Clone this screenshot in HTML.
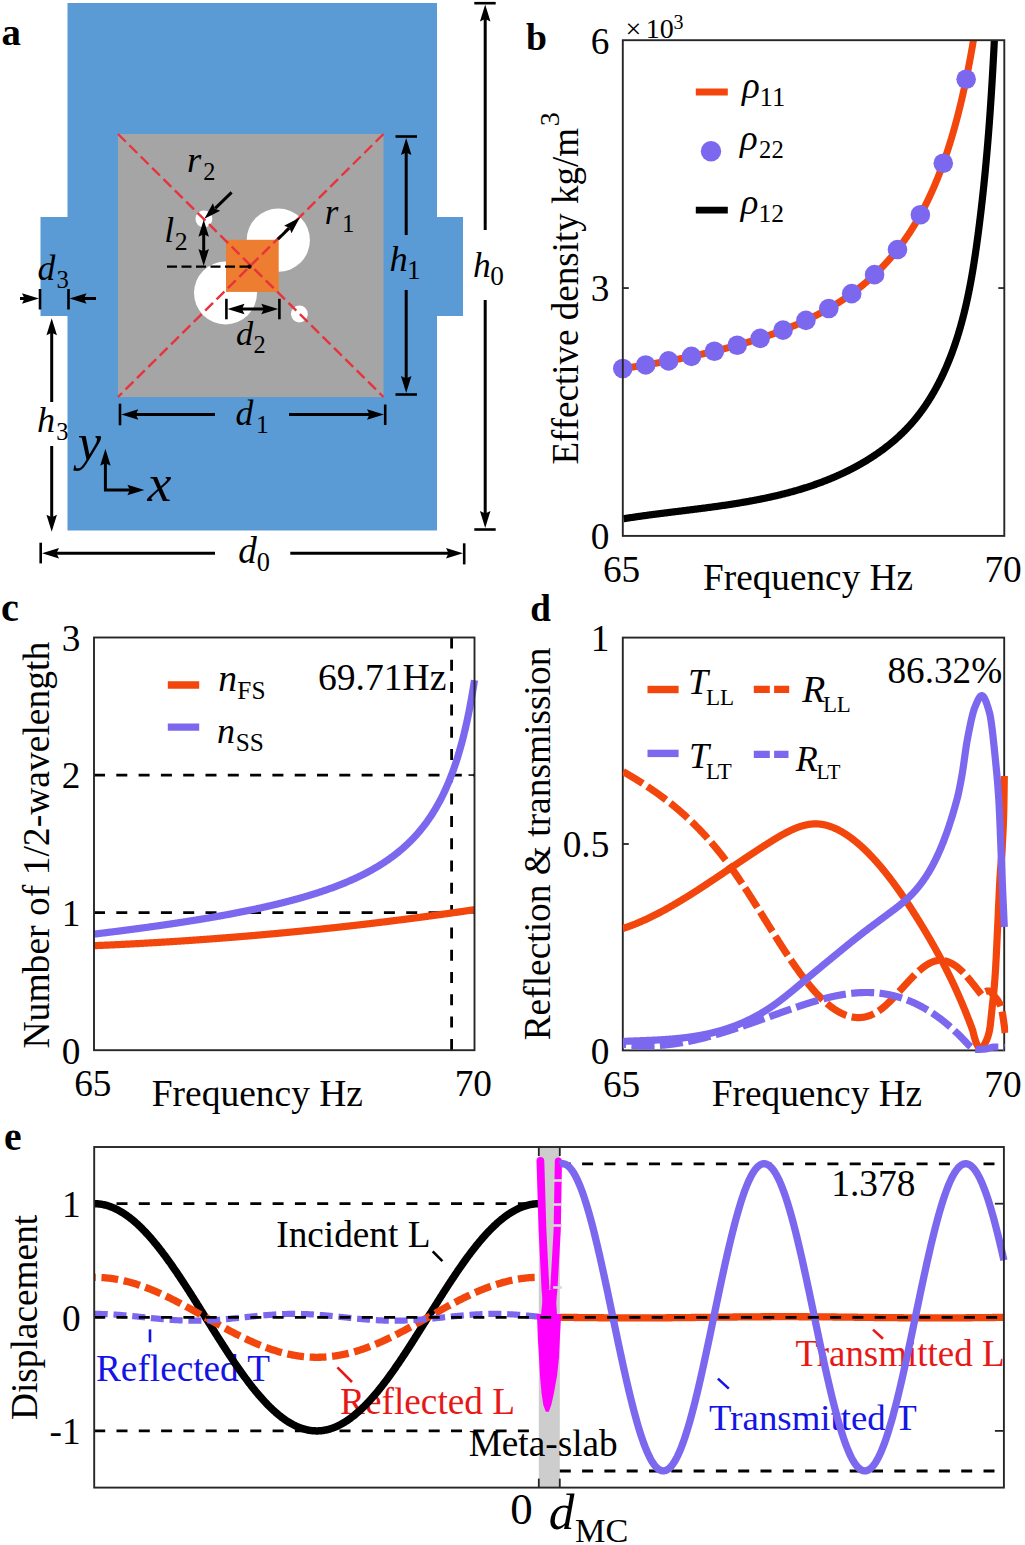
<!DOCTYPE html>
<html><head><meta charset="utf-8"><style>
html,body{margin:0;padding:0;background:#fff;}
svg{display:block;font-family:"Liberation Serif", serif;}
</style></head><body>
<svg width="1025" height="1545" viewBox="0 0 1025 1545">
<rect width="1025" height="1545" fill="#fff"/>
<rect x="67.50" y="3.00" width="369.50" height="527.50" fill="#5B9BD5" />
<rect x="40.50" y="217.00" width="27.50" height="99.00" fill="#5B9BD5" />
<rect x="436.50" y="217.00" width="26.50" height="99.00" fill="#5B9BD5" />
<rect x="118.00" y="134.00" width="265.50" height="263.00" fill="#A5A5A5" />
<circle cx="278.30" cy="240.20" r="31.60" fill="#fff"/>
<circle cx="225.50" cy="293.00" r="31.50" fill="#fff"/>
<circle cx="203.90" cy="219.00" r="8.40" fill="#fff"/>
<circle cx="299.40" cy="314.00" r="8.40" fill="#fff"/>
<rect x="226.00" y="239.80" width="52.70" height="52.10" fill="#ED7D31" />
<line x1="118.00" y1="134.00" x2="383.50" y2="397.00" stroke="#E8333C" stroke-width="2.4" stroke-dasharray="11 5" stroke-linecap="butt"/>
<line x1="383.50" y1="134.00" x2="118.00" y2="397.00" stroke="#E8333C" stroke-width="2.4" stroke-dasharray="11 5" stroke-linecap="butt"/>
<line x1="167.00" y1="266.60" x2="249.00" y2="266.60" stroke="#000" stroke-width="2.2" stroke-dasharray="10 4.5" stroke-linecap="butt"/>
<circle cx="249.40" cy="266.60" r="2.20" fill="#000"/>
<line x1="231.60" y1="192.40" x2="215.16" y2="208.35" stroke="#000" stroke-width="3" stroke-linecap="butt"/>
<path d="M204.40,218.80 L212.94,203.19 L214.80,208.70 L220.26,210.73 Z" fill="#000"/>
<line x1="277.90" y1="239.20" x2="289.20" y2="228.11" stroke="#000" stroke-width="3" stroke-linecap="butt"/>
<path d="M299.90,217.60 L291.45,233.26 L289.55,227.76 L284.09,225.76 Z" fill="#000"/>
<line x1="203.70" y1="232.00" x2="203.70" y2="253.00" stroke="#000" stroke-width="3" stroke-linecap="butt"/>
<path d="M203.70,219.80 L208.95,236.80 L203.70,234.30 L198.45,236.80 Z" fill="#000"/>
<path d="M203.70,265.90 L198.45,248.90 L203.70,251.40 L208.95,248.90 Z" fill="#000"/>
<line x1="226.40" y1="298.80" x2="226.40" y2="319.30" stroke="#000" stroke-width="2.6" stroke-linecap="butt"/>
<line x1="279.40" y1="298.80" x2="279.40" y2="319.30" stroke="#000" stroke-width="2.6" stroke-linecap="butt"/>
<line x1="238.00" y1="309.00" x2="268.00" y2="309.00" stroke="#000" stroke-width="3" stroke-linecap="butt"/>
<path d="M227.50,309.00 L244.50,303.75 L242.00,309.00 L244.50,314.25 Z" fill="#000"/>
<path d="M278.30,309.00 L261.30,314.25 L263.80,309.00 L261.30,303.75 Z" fill="#000"/>
<line x1="395.50" y1="136.50" x2="417.00" y2="136.50" stroke="#000" stroke-width="2.6" stroke-linecap="butt"/>
<line x1="395.50" y1="394.50" x2="417.00" y2="394.50" stroke="#000" stroke-width="2.6" stroke-linecap="butt"/>
<line x1="406.20" y1="148.00" x2="406.20" y2="235.00" stroke="#000" stroke-width="3" stroke-linecap="butt"/>
<line x1="406.20" y1="290.00" x2="406.20" y2="382.00" stroke="#000" stroke-width="3" stroke-linecap="butt"/>
<path d="M406.20,138.00 L411.45,155.00 L406.20,152.50 L400.95,155.00 Z" fill="#000"/>
<path d="M406.20,393.00 L400.95,376.00 L406.20,378.50 L411.45,376.00 Z" fill="#000"/>
<line x1="474.30" y1="3.20" x2="495.70" y2="3.20" stroke="#000" stroke-width="2.6" stroke-linecap="butt"/>
<line x1="474.30" y1="529.50" x2="495.70" y2="529.50" stroke="#000" stroke-width="2.6" stroke-linecap="butt"/>
<line x1="485.20" y1="15.00" x2="485.20" y2="230.00" stroke="#000" stroke-width="3" stroke-linecap="butt"/>
<line x1="485.20" y1="300.00" x2="485.20" y2="517.00" stroke="#000" stroke-width="3" stroke-linecap="butt"/>
<path d="M485.20,4.50 L490.45,21.50 L485.20,19.00 L479.95,21.50 Z" fill="#000"/>
<path d="M485.20,528.00 L479.95,511.00 L485.20,513.50 L490.45,511.00 Z" fill="#000"/>
<line x1="40.00" y1="289.00" x2="40.00" y2="309.50" stroke="#000" stroke-width="2.6" stroke-linecap="butt"/>
<line x1="68.50" y1="289.00" x2="68.50" y2="309.50" stroke="#000" stroke-width="2.6" stroke-linecap="butt"/>
<line x1="20.00" y1="298.50" x2="28.00" y2="298.50" stroke="#000" stroke-width="3" stroke-linecap="butt"/>
<path d="M39.00,298.50 L22.00,303.75 L24.50,298.50 L22.00,293.25 Z" fill="#000"/>
<line x1="80.00" y1="298.50" x2="96.00" y2="298.50" stroke="#000" stroke-width="3" stroke-linecap="butt"/>
<path d="M69.50,298.50 L86.50,293.25 L84.00,298.50 L86.50,303.75 Z" fill="#000"/>
<line x1="51.70" y1="330.00" x2="51.70" y2="402.00" stroke="#000" stroke-width="3" stroke-linecap="butt"/>
<line x1="51.70" y1="446.00" x2="51.70" y2="520.00" stroke="#000" stroke-width="3" stroke-linecap="butt"/>
<path d="M51.70,318.30 L56.95,335.30 L51.70,332.80 L46.45,335.30 Z" fill="#000"/>
<path d="M51.70,531.70 L46.45,514.70 L51.70,517.20 L56.95,514.70 Z" fill="#000"/>
<line x1="120.00" y1="403.70" x2="120.00" y2="425.30" stroke="#000" stroke-width="2.6" stroke-linecap="butt"/>
<line x1="385.20" y1="404.50" x2="385.20" y2="425.00" stroke="#000" stroke-width="2.6" stroke-linecap="butt"/>
<line x1="132.00" y1="414.40" x2="215.00" y2="414.40" stroke="#000" stroke-width="3" stroke-linecap="butt"/>
<line x1="289.00" y1="414.40" x2="372.00" y2="414.40" stroke="#000" stroke-width="3" stroke-linecap="butt"/>
<path d="M121.30,414.40 L138.30,409.15 L135.80,414.40 L138.30,419.65 Z" fill="#000"/>
<path d="M384.00,414.40 L367.00,419.65 L369.50,414.40 L367.00,409.15 Z" fill="#000"/>
<line x1="40.70" y1="542.70" x2="40.70" y2="563.40" stroke="#000" stroke-width="2.6" stroke-linecap="butt"/>
<line x1="464.20" y1="543.30" x2="464.20" y2="564.40" stroke="#000" stroke-width="2.6" stroke-linecap="butt"/>
<line x1="53.00" y1="553.20" x2="215.00" y2="553.20" stroke="#000" stroke-width="3" stroke-linecap="butt"/>
<line x1="290.30" y1="553.20" x2="452.00" y2="553.20" stroke="#000" stroke-width="3" stroke-linecap="butt"/>
<path d="M42.00,553.20 L59.00,547.95 L56.50,553.20 L59.00,558.45 Z" fill="#000"/>
<path d="M463.00,553.20 L446.00,558.45 L448.50,553.20 L446.00,547.95 Z" fill="#000"/>
<line x1="105.40" y1="490.00" x2="105.40" y2="460.00" stroke="#000" stroke-width="3" stroke-linecap="butt"/>
<line x1="104.00" y1="490.00" x2="132.00" y2="490.00" stroke="#000" stroke-width="3" stroke-linecap="butt"/>
<path d="M105.40,448.80 L110.65,465.80 L105.40,463.30 L100.15,465.80 Z" fill="#000"/>
<path d="M144.40,490.00 L127.40,495.25 L129.90,490.00 L127.40,484.75 Z" fill="#000"/>
<text x="1.55" y="44.85" font-size="38.85" font-weight="bold" fill="#000" >a</text>
<text x="187.10" y="171.75" font-size="36.5" font-style="italic" fill="#000" >r</text>
<text x="203.20" y="180.10" font-size="24.3" fill="#000" >2</text>
<text x="164.22" y="242.05" font-size="35.6" font-style="italic" fill="#000" >l</text>
<text x="174.68" y="250.40" font-size="25.81" fill="#000" >2</text>
<text x="324.73" y="224.28" font-size="34.8" font-style="italic" fill="#000" >r</text>
<text x="341.88" y="232.47" font-size="24.85" fill="#000" >1</text>
<text x="236.00" y="344.57" font-size="34.39" font-style="italic" fill="#000" >d</text>
<text x="253.38" y="353.05" font-size="24.45" fill="#000" >2</text>
<text x="389.52" y="271.27" font-size="36.47" font-style="italic" fill="#000" >h</text>
<text x="407.02" y="279.38" font-size="27.12" fill="#000" >1</text>
<text x="473.05" y="276.73" font-size="35.46" font-style="italic" fill="#000" >h</text>
<text x="490.30" y="285.23" font-size="27.26" fill="#000" >0</text>
<text x="37.38" y="279.55" font-size="35.67" font-style="italic" fill="#000" >d</text>
<text x="56.48" y="287.55" font-size="24.68" fill="#000" >3</text>
<text x="37.05" y="432.23" font-size="36.18" font-style="italic" fill="#000" >h</text>
<text x="56.17" y="440.23" font-size="24.39" fill="#000" >3</text>
<text x="235.57" y="424.75" font-size="35.67" font-style="italic" fill="#000" >d</text>
<text x="255.95" y="433.48" font-size="25.45" fill="#000" >1</text>
<text x="238.18" y="562.85" font-size="37.09" font-style="italic" fill="#000" >d</text>
<text x="256.80" y="571.40" font-size="26.37" fill="#000" >0</text>
<text x="77.67" y="460.02" font-size="52.59" font-style="italic" fill="#000" >y</text>
<text x="147.53" y="500.55" font-size="53.84" font-style="italic" fill="#000" >x</text>
<clipPath id="cb"><rect x="622.8" y="40.2" width="381.5" height="495.7"/></clipPath>
<line x1="622.80" y1="288.05" x2="628.80" y2="288.05" stroke="#262626" stroke-width="1.8" stroke-linecap="butt"/>
<line x1="1004.30" y1="288.05" x2="998.30" y2="288.05" stroke="#262626" stroke-width="1.8" stroke-linecap="butt"/>
<g clip-path="url(#cb)">
<path d="M623.53,518.75 L624.29,518.63 L625.05,518.51 L625.82,518.39 L626.58,518.27 L627.34,518.15 L628.11,518.03 L628.87,517.91 L629.64,517.79 L630.40,517.68 L631.17,517.56 L631.94,517.44 L632.70,517.33 L633.47,517.22 L634.24,517.10 L635.01,516.99 L635.78,516.88 L636.55,516.77 L637.32,516.65 L638.09,516.54 L638.87,516.43 L639.64,516.32 L640.41,516.21 L641.19,516.11 L641.96,516.00 L642.74,515.89 L643.51,515.78 L644.29,515.68 L645.06,515.57 L645.84,515.46 L646.62,515.36 L647.39,515.25 L648.17,515.15 L648.95,515.04 L649.73,514.94 L650.51,514.84 L651.29,514.73 L652.07,514.63 L652.85,514.53 L653.63,514.43 L654.41,514.32 L655.20,514.22 L655.98,514.12 L656.76,514.02 L657.55,513.92 L658.33,513.82 L659.11,513.72 L659.90,513.62 L660.68,513.52 L661.47,513.42 L662.25,513.32 L663.04,513.22 L663.83,513.12 L664.61,513.02 L665.40,512.92 L666.19,512.83 L666.98,512.73 L667.76,512.63 L668.55,512.53 L669.34,512.43 L670.13,512.34 L670.92,512.24 L671.71,512.14 L672.50,512.04 L673.29,511.94 L674.08,511.85 L674.87,511.75 L675.66,511.65 L676.45,511.55 L677.25,511.46 L678.04,511.36 L678.83,511.26 L679.62,511.16 L680.41,511.07 L681.21,510.97 L682.00,510.87 L682.79,510.77 L683.59,510.68 L684.38,510.58 L685.18,510.48 L685.97,510.38 L686.77,510.28 L687.56,510.18 L688.36,510.08 L689.15,509.99 L689.95,509.89 L690.74,509.79 L691.54,509.69 L692.33,509.59 L693.13,509.49 L693.93,509.39 L694.72,509.29 L695.52,509.19 L696.31,509.09 L697.11,508.99 L697.91,508.88 L698.71,508.78 L699.50,508.68 L700.30,508.58 L701.10,508.48 L701.90,508.37 L702.69,508.27 L703.49,508.17 L704.29,508.06 L705.09,507.96 L705.88,507.85 L706.68,507.75 L707.48,507.64 L708.28,507.53 L709.08,507.43 L709.88,507.32 L710.67,507.21 L711.47,507.11 L712.27,507.00 L713.07,506.89 L713.87,506.78 L714.67,506.67 L715.46,506.56 L716.26,506.45 L717.06,506.34 L717.86,506.22 L718.66,506.11 L719.46,506.00 L720.26,505.89 L721.05,505.77 L721.85,505.66 L722.65,505.54 L723.45,505.42 L724.25,505.31 L725.05,505.19 L725.84,505.07 L726.64,504.95 L727.44,504.83 L728.24,504.71 L729.04,504.59 L729.83,504.47 L730.63,504.35 L731.43,504.22 L732.23,504.10 L733.03,503.98 L733.82,503.85 L734.62,503.72 L735.42,503.60 L736.21,503.47 L737.01,503.34 L737.81,503.21 L738.60,503.08 L739.40,502.95 L740.20,502.82 L740.99,502.69 L741.79,502.55 L742.59,502.42 L743.38,502.28 L744.18,502.15 L744.97,502.01 L745.77,501.87 L746.56,501.73 L747.36,501.59 L748.15,501.45 L748.95,501.31 L749.74,501.16 L750.54,501.02 L751.33,500.88 L752.12,500.73 L752.92,500.58 L753.71,500.43 L754.50,500.28 L755.29,500.13 L756.09,499.98 L756.88,499.83 L757.67,499.68 L758.46,499.52 L759.25,499.37 L760.04,499.21 L760.84,499.05 L761.63,498.89 L762.42,498.73 L763.21,498.57 L764.00,498.41 L764.78,498.24 L765.57,498.08 L766.36,497.91 L767.15,497.74 L767.94,497.58 L768.73,497.41 L769.51,497.23 L770.30,497.06 L771.09,496.89 L771.87,496.71 L772.66,496.54 L773.44,496.36 L774.23,496.18 L775.01,496.00 L775.80,495.82 L776.58,495.63 L777.36,495.45 L778.15,495.26 L778.93,495.08 L779.71,494.89 L780.49,494.70 L781.28,494.51 L782.06,494.31 L782.84,494.12 L783.62,493.92 L784.40,493.73 L785.18,493.53 L785.96,493.33 L786.73,493.13 L787.51,492.92 L788.29,492.72 L789.07,492.51 L789.84,492.30 L790.62,492.09 L791.39,491.88 L792.17,491.67 L792.94,491.46 L793.72,491.24 L794.49,491.02 L795.26,490.81 L796.03,490.59 L796.81,490.36 L797.58,490.14 L798.35,489.91 L799.12,489.69 L799.89,489.46 L800.66,489.23 L801.43,489.00 L802.19,488.76 L802.96,488.53 L803.73,488.29 L804.49,488.05 L805.26,487.81 L806.03,487.57 L806.79,487.32 L807.55,487.08 L808.32,486.83 L809.08,486.58 L809.84,486.33 L810.60,486.07 L811.36,485.82 L812.12,485.56 L812.88,485.30 L813.64,485.04 L814.40,484.78 L815.16,484.51 L815.91,484.25 L816.67,483.98 L817.43,483.71 L818.18,483.43 L818.93,483.16 L819.69,482.88 L820.44,482.61 L821.19,482.33 L821.94,482.04 L822.69,481.76 L823.44,481.47 L824.19,481.19 L824.94,480.90 L825.69,480.60 L826.44,480.31 L827.18,480.01 L827.93,479.72 L828.67,479.41 L829.41,479.11 L830.16,478.81 L830.90,478.50 L831.64,478.19 L832.38,477.88 L833.12,477.57 L833.85,477.26 L834.59,476.94 L835.33,476.62 L836.06,476.30 L836.79,475.98 L837.53,475.66 L838.26,475.33 L838.99,475.00 L839.72,474.67 L840.45,474.34 L841.17,474.00 L841.90,473.67 L842.63,473.33 L843.35,472.99 L844.07,472.64 L844.79,472.30 L845.51,471.95 L846.23,471.60 L846.95,471.25 L847.67,470.90 L848.38,470.54 L849.10,470.18 L849.81,469.82 L850.52,469.46 L851.23,469.10 L851.94,468.73 L852.65,468.36 L853.36,467.99 L854.06,467.62 L854.77,467.25 L855.47,466.87 L856.17,466.49 L856.87,466.11 L857.57,465.73 L858.26,465.34 L858.96,464.95 L859.65,464.56 L860.34,464.17 L861.03,463.78 L861.72,463.38 L862.41,462.98 L863.10,462.58 L863.78,462.18 L864.47,461.78 L865.15,461.37 L865.83,460.96 L866.51,460.55 L867.18,460.13 L867.86,459.72 L868.53,459.30 L869.20,458.88 L869.87,458.46 L870.54,458.03 L871.21,457.61 L871.87,457.18 L872.54,456.75 L873.20,456.31 L873.86,455.88 L874.51,455.44 L875.17,455.00 L875.83,454.55 L876.48,454.11 L877.13,453.66 L877.78,453.21 L878.42,452.76 L879.07,452.31 L879.71,451.85 L880.35,451.39 L880.99,450.93 L881.63,450.47 L882.27,450.00 L882.90,449.54 L883.53,449.07 L884.16,448.59 L884.79,448.12 L885.41,447.64 L886.04,447.16 L886.66,446.68 L887.28,446.20 L887.90,445.71 L888.51,445.23 L889.12,444.73 L889.74,444.24 L890.34,443.75 L890.95,443.25 L891.56,442.75 L892.16,442.25 L892.76,441.74 L893.36,441.23 L893.95,440.73 L894.55,440.21 L895.14,439.70 L895.73,439.18 L896.31,438.66 L896.90,438.14 L897.48,437.62 L898.06,437.09 L898.64,436.57 L899.21,436.03 L899.79,435.50 L900.36,434.97 L900.93,434.43 L901.49,433.89 L902.05,433.35 L902.62,432.80 L903.17,432.25 L903.73,431.70 L904.28,431.15 L904.83,430.60 L905.38,430.04 L905.93,429.48 L906.47,428.92 L907.01,428.35 L907.55,427.79 L908.09,427.22 L908.62,426.65 L909.15,426.07 L909.68,425.49 L910.21,424.92 L910.73,424.33 L911.25,423.75 L911.77,423.16 L912.28,422.57 L912.79,421.98 L913.30,421.39 L913.81,420.79 L914.31,420.19 L914.82,419.59 L915.31,418.99 L915.81,418.38 L916.31,417.78 L916.80,417.17 L917.28,416.55 L917.77,415.94 L918.25,415.32 L918.74,414.70 L919.21,414.08 L919.69,413.45 L920.16,412.83 L920.63,412.20 L921.10,411.57 L921.57,410.94 L922.03,410.30 L922.49,409.66 L922.95,409.03 L923.40,408.38 L923.86,407.74 L924.31,407.10 L924.76,406.45 L925.20,405.80 L925.64,405.15 L926.09,404.49 L926.52,403.84 L926.96,403.18 L927.39,402.52 L927.82,401.86 L928.25,401.19 L928.68,400.53 L929.10,399.86 L929.52,399.19 L929.94,398.52 L930.36,397.85 L930.77,397.17 L931.18,396.50 L931.59,395.82 L932.00,395.14 L932.41,394.46 L932.81,393.77 L933.21,393.09 L933.61,392.40 L934.00,391.71 L934.40,391.02 L934.79,390.33 L935.17,389.63 L935.56,388.94 L935.94,388.24 L936.33,387.54 L936.71,386.84 L937.08,386.14 L937.46,385.44 L937.83,384.73 L938.20,384.02 L938.57,383.32 L938.94,382.61 L939.30,381.89 L939.66,381.18 L940.02,380.47 L940.38,379.75 L940.73,379.03 L941.09,378.32 L941.44,377.60 L941.79,376.87 L942.13,376.15 L942.48,375.43 L942.82,374.70 L943.16,373.97 L943.50,373.25 L943.83,372.52 L944.17,371.79 L944.50,371.05 L944.83,370.32 L945.15,369.59 L945.48,368.85 L945.80,368.11 L946.12,367.38 L946.44,366.64 L946.76,365.90 L947.08,365.15 L947.39,364.41 L947.70,363.67 L948.01,362.92 L948.32,362.18 L948.62,361.43 L948.92,360.68 L949.23,359.93 L949.52,359.18 L949.82,358.43 L950.12,357.68 L950.41,356.92 L950.70,356.17 L950.99,355.41 L951.28,354.66 L951.56,353.90 L951.85,353.14 L952.13,352.39 L952.41,351.63 L952.69,350.86 L952.96,350.10 L953.24,349.34 L953.51,348.58 L953.78,347.81 L954.05,347.05 L954.31,346.28 L954.58,345.52 L954.84,344.75 L955.10,343.98 L955.36,343.22 L955.62,342.45 L955.87,341.68 L956.13,340.91 L956.38,340.14 L956.63,339.37 L956.88,338.59 L957.12,337.82 L957.37,337.05 L957.61,336.27 L957.85,335.50 L958.09,334.72 L958.33,333.95 L958.57,333.17 L958.80,332.39 L959.04,331.61 L959.27,330.84 L959.50,330.06 L959.72,329.28 L959.95,328.50 L960.18,327.72 L960.40,326.94 L960.62,326.15 L960.84,325.37 L961.06,324.59 L961.28,323.81 L961.49,323.02 L961.71,322.24 L961.92,321.45 L962.13,320.67 L962.34,319.88 L962.54,319.10 L962.75,318.31 L962.96,317.52 L963.16,316.73 L963.36,315.94 L963.56,315.16 L963.76,314.37 L963.96,313.58 L964.15,312.79 L964.35,312.00 L964.54,311.21 L964.73,310.41 L964.92,309.62 L965.11,308.83 L965.30,308.04 L965.49,307.25 L965.67,306.45 L965.85,305.66 L966.04,304.86 L966.22,304.07 L966.40,303.28 L966.57,302.48 L966.75,301.69 L966.93,300.89 L967.10,300.09 L967.27,299.30 L967.45,298.50 L967.62,297.70 L967.79,296.91 L967.96,296.11 L968.12,295.31 L968.29,294.51 L968.45,293.71 L968.62,292.92 L968.78,292.12 L968.94,291.32 L969.10,290.52 L969.26,289.72 L969.42,288.92 L969.57,288.12 L969.73,287.32 L969.88,286.52 L970.04,285.72 L970.19,284.92 L970.34,284.11 L970.49,283.31 L970.64,282.51 L970.79,281.71 L970.94,280.91 L971.08,280.11 L971.23,279.30 L971.37,278.50 L971.52,277.70 L971.66,276.90 L971.80,276.09 L971.94,275.29 L972.08,274.49 L972.22,273.68 L972.36,272.88 L972.49,272.08 L972.63,271.27 L972.76,270.47 L972.90,269.67 L973.03,268.86 L973.16,268.06 L973.29,267.25 L973.42,266.45 L973.55,265.65 L973.68,264.84 L973.81,264.04 L973.94,263.24 L974.06,262.43 L974.19,261.63 L974.32,260.82 L974.44,260.02 L974.56,259.22 L974.69,258.41 L974.81,257.61 L974.93,256.80 L975.05,256.00 L975.17,255.20 L975.29,254.39 L975.41,253.59 L975.53,252.78 L975.64,251.98 L975.76,251.18 L975.88,250.37 L975.99,249.57 L976.11,248.77 L976.22,247.96 L976.34,247.16 L976.45,246.36 L976.56,245.56 L976.67,244.75 L976.78,243.95 L976.90,243.15 L977.01,242.35 L977.12,241.54 L977.22,240.74 L977.33,239.94 L977.44,239.14 L977.55,238.34 L977.66,237.54 L977.76,236.73 L977.87,235.93 L977.98,235.13 L978.08,234.33 L978.19,233.53 L978.29,232.73 L978.40,231.93 L978.50,231.13 L978.60,230.33 L978.71,229.54 L978.81,228.74 L978.91,227.94 L979.01,227.14 L979.12,226.34 L979.22,225.54 L979.32,224.74 L979.42,223.95 L979.52,223.15 L979.62,222.35 L979.72,221.55 L979.81,220.76 L979.91,219.96 L980.01,219.16 L980.11,218.37 L980.20,217.57 L980.30,216.78 L980.40,215.98 L980.49,215.18 L980.59,214.39 L980.68,213.59 L980.78,212.80 L980.87,212.00 L980.97,211.21 L981.06,210.41 L981.15,209.62 L981.25,208.82 L981.34,208.03 L981.43,207.23 L981.52,206.44 L981.61,205.65 L981.70,204.85 L981.79,204.06 L981.88,203.26 L981.97,202.47 L982.06,201.68 L982.15,200.88 L982.24,200.09 L982.33,199.30 L982.42,198.51 L982.50,197.71 L982.59,196.92 L982.68,196.13 L982.76,195.34 L982.85,194.54 L982.94,193.75 L983.02,192.96 L983.11,192.17 L983.19,191.38 L983.28,190.58 L983.36,189.79 L983.44,189.00 L983.53,188.21 L983.61,187.42 L983.69,186.63 L983.77,185.84 L983.86,185.05 L983.94,184.25 L984.02,183.46 L984.10,182.67 L984.18,181.88 L984.26,181.09 L984.34,180.30 L984.42,179.51 L984.50,178.72 L984.58,177.93 L984.66,177.14 L984.73,176.35 L984.81,175.56 L984.89,174.77 L984.97,173.98 L985.04,173.19 L985.12,172.40 L985.20,171.61 L985.27,170.82 L985.35,170.03 L985.42,169.24 L985.50,168.45 L985.57,167.66 L985.65,166.87 L985.72,166.08 L985.79,165.29 L985.87,164.50 L985.94,163.72 L986.01,162.93 L986.09,162.14 L986.16,161.35 L986.23,160.56 L986.30,159.77 L986.37,158.98 L986.44,158.19 L986.51,157.40 L986.58,156.61 L986.65,155.82 L986.72,155.03 L986.79,154.24 L986.86,153.46 L986.93,152.67 L987.00,151.88 L987.07,151.09 L987.14,150.30 L987.20,149.51 L987.27,148.72 L987.34,147.93 L987.41,147.14 L987.47,146.35 L987.54,145.56 L987.60,144.77 L987.67,143.99 L987.74,143.20 L987.80,142.41 L987.87,141.62 L987.93,140.83 L988.00,140.04 L988.06,139.25 L988.12,138.46 L988.19,137.67 L988.25,136.88 L988.31,136.09 L988.38,135.30 L988.44,134.51 L988.50,133.72 L988.56,132.93 L988.63,132.14 L988.69,131.35 L988.75,130.56 L988.81,129.77 L988.87,128.98 L988.93,128.19 L988.99,127.40 L989.05,126.61 L989.11,125.82 L989.17,125.03 L989.23,124.24 L989.29,123.45 L989.35,122.66 L989.41,121.87 L989.46,121.08 L989.52,120.29 L989.58,119.50 L989.64,118.71 L989.69,117.92 L989.75,117.13 L989.81,116.34 L989.87,115.54 L989.92,114.75 L989.98,113.96 L990.03,113.17 L990.09,112.38 L990.15,111.59 L990.20,110.80 L990.26,110.00 L990.31,109.21 L990.37,108.42 L990.42,107.63 L990.47,106.83 L990.53,106.04 L990.58,105.25 L990.64,104.46 L990.69,103.66 L990.74,102.87 L990.80,102.08 L990.85,101.28 L990.90,100.49 L990.95,99.70 L991.01,98.90 L991.06,98.11 L991.11,97.32 L991.16,96.52 L991.21,95.73 L991.26,94.93 L991.32,94.14 L991.37,93.34 L991.42,92.55 L991.47,91.75 L991.52,90.96 L991.57,90.16 L991.62,89.37 L991.67,88.57 L991.72,87.78 L991.77,86.98 L991.82,86.19 L991.86,85.39 L991.91,84.59 L991.96,83.80 L992.01,83.00 L992.06,82.20 L992.11,81.41 L992.15,80.61 L992.20,79.81 L992.25,79.01 L992.30,78.21 L992.34,77.42 L992.39,76.62 L992.44,75.82 L992.49,75.02 L992.53,74.22 L992.58,73.42 L992.62,72.62 L992.67,71.82 L992.72,71.02 L992.76,70.22 L992.81,69.42 L992.85,68.62 L992.90,67.82 L992.94,67.02 L992.99,66.22 L993.03,65.42 L993.08,64.62 L993.12,63.82 L993.17,63.02 L993.21,62.21 L993.26,61.41 L993.30,60.61 L993.34,59.81 L993.39,59.00 L993.43,58.20 L993.48,57.40 L993.52,56.59 L993.56,55.79 L993.61,54.98 L993.65,54.18 L993.69,53.38 L993.73,52.57 L993.78,51.77 L993.82,50.96 L993.86,50.15 L993.90,49.35 L993.95,48.54 L993.99,47.73 L994.03,46.93 L994.07,46.12 L994.11,45.31 L994.16,44.51 L994.20,43.70 L994.24,42.89 L994.28,42.08 L994.32,41.27 L994.36,40.46 L994.40,39.65 L994.44,38.84 L994.48,38.03 L994.52,37.22 L994.57,36.41 L994.61,35.60 L994.65,34.79 L994.69,33.98 L994.73,33.17 L994.77,32.36 L994.81,31.54 L994.85,30.73 L994.89,29.92" fill="none" stroke="#000" stroke-width="7.2" stroke-linecap="butt" stroke-linejoin="round"/>
<path d="M622.80,368.49 L623.11,368.44 L623.42,368.40 L623.74,368.35 L624.05,368.30 L624.36,368.26 L624.67,368.21 L624.98,368.17 L625.29,368.12 L625.61,368.07 L625.92,368.03 L626.23,367.98 L626.54,367.93 L626.85,367.89 L627.17,367.84 L627.48,367.79 L627.79,367.75 L628.10,367.70 L628.41,367.65 L628.72,367.60 L629.04,367.56 L629.35,367.51 L629.66,367.46 L629.97,367.42 L630.28,367.37 L630.60,367.32 L630.91,367.27 L631.22,367.22 L631.53,367.18 L631.84,367.13 L632.15,367.08 L632.47,367.03 L632.78,366.98 L633.09,366.94 L633.40,366.89 L633.71,366.84 L634.03,366.79 L634.34,366.74 L634.65,366.69 L634.96,366.65 L635.27,366.60 L635.58,366.55 L635.90,366.50 L636.21,366.45 L636.52,366.40 L636.83,366.35 L637.14,366.30 L637.46,366.25 L637.77,366.20 L638.08,366.16 L638.39,366.11 L638.70,366.06 L639.01,366.01 L639.33,365.96 L639.64,365.91 L639.95,365.86 L640.26,365.81 L640.57,365.76 L640.89,365.71 L641.20,365.66 L641.51,365.61 L641.82,365.56 L642.13,365.51 L642.44,365.46 L642.76,365.41 L643.07,365.35 L643.38,365.30 L643.69,365.25 L644.00,365.20 L644.32,365.15 L644.63,365.10 L644.94,365.05 L645.25,365.00 L645.56,364.95 L645.87,364.90 L646.19,364.84 L646.50,364.79 L646.81,364.74 L647.12,364.69 L647.43,364.64 L647.75,364.59 L648.06,364.53 L648.37,364.48 L648.68,364.43 L648.99,364.38 L649.30,364.33 L649.62,364.27 L649.93,364.22 L650.24,364.17 L650.55,364.12 L650.86,364.06 L651.18,364.01 L651.49,363.96 L651.80,363.90 L652.11,363.85 L652.42,363.80 L652.73,363.74 L653.05,363.69 L653.36,363.64 L653.67,363.58 L653.98,363.53 L654.29,363.48 L654.61,363.42 L654.92,363.37 L655.23,363.32 L655.54,363.26 L655.85,363.21 L656.16,363.15 L656.48,363.10 L656.79,363.05 L657.10,362.99 L657.41,362.94 L657.72,362.88 L658.04,362.83 L658.35,362.77 L658.66,362.72 L658.97,362.66 L659.28,362.61 L659.59,362.55 L659.91,362.50 L660.22,362.44 L660.53,362.39 L660.84,362.33 L661.15,362.27 L661.47,362.22 L661.78,362.16 L662.09,362.11 L662.40,362.05 L662.71,362.00 L663.02,361.94 L663.34,361.88 L663.65,361.83 L663.96,361.77 L664.27,361.71 L664.58,361.66 L664.90,361.60 L665.21,361.54 L665.52,361.49 L665.83,361.43 L666.14,361.37 L666.45,361.32 L666.77,361.26 L667.08,361.20 L667.39,361.14 L667.70,361.09 L668.01,361.03 L668.33,360.97 L668.64,360.91 L668.95,360.85 L669.26,360.80 L669.57,360.74 L669.88,360.68 L670.20,360.62 L670.51,360.56 L670.82,360.50 L671.13,360.45 L671.44,360.39 L671.76,360.33 L672.07,360.27 L672.38,360.21 L672.69,360.15 L673.00,360.09 L673.31,360.03 L673.63,359.97 L673.94,359.91 L674.25,359.85 L674.56,359.79 L674.87,359.73 L675.19,359.67 L675.50,359.61 L675.81,359.55 L676.12,359.49 L676.43,359.43 L676.74,359.37 L677.06,359.31 L677.37,359.25 L677.68,359.19 L677.99,359.13 L678.30,359.07 L678.62,359.01 L678.93,358.95 L679.24,358.89 L679.55,358.82 L679.86,358.76 L680.17,358.70 L680.49,358.64 L680.80,358.58 L681.11,358.51 L681.42,358.45 L681.73,358.39 L682.05,358.33 L682.36,358.27 L682.67,358.20 L682.98,358.14 L683.29,358.08 L683.60,358.02 L683.92,357.95 L684.23,357.89 L684.54,357.83 L684.85,357.76 L685.16,357.70 L685.48,357.64 L685.79,357.57 L686.10,357.51 L686.41,357.44 L686.72,357.38 L687.03,357.32 L687.35,357.25 L687.66,357.19 L687.97,357.12 L688.28,357.06 L688.59,356.99 L688.91,356.93 L689.22,356.86 L689.53,356.80 L689.84,356.73 L690.15,356.67 L690.46,356.60 L690.78,356.54 L691.09,356.47 L691.40,356.41 L691.71,356.34 L692.02,356.28 L692.34,356.21 L692.65,356.14 L692.96,356.08 L693.27,356.01 L693.58,355.94 L693.89,355.88 L694.21,355.81 L694.52,355.74 L694.83,355.68 L695.14,355.61 L695.45,355.54 L695.77,355.47 L696.08,355.41 L696.39,355.34 L696.70,355.27 L697.01,355.20 L697.32,355.14 L697.64,355.07 L697.95,355.00 L698.26,354.93 L698.57,354.86 L698.88,354.79 L699.20,354.73 L699.51,354.66 L699.82,354.59 L700.13,354.52 L700.44,354.45 L700.75,354.38 L701.07,354.31 L701.38,354.24 L701.69,354.17 L702.00,354.10 L702.31,354.03 L702.63,353.96 L702.94,353.89 L703.25,353.82 L703.56,353.75 L703.87,353.68 L704.18,353.61 L704.50,353.54 L704.81,353.47 L705.12,353.39 L705.43,353.32 L705.74,353.25 L706.06,353.18 L706.37,353.11 L706.68,353.04 L706.99,352.96 L707.30,352.89 L707.61,352.82 L707.93,352.75 L708.24,352.68 L708.55,352.60 L708.86,352.53 L709.17,352.46 L709.49,352.38 L709.80,352.31 L710.11,352.24 L710.42,352.16 L710.73,352.09 L711.04,352.02 L711.36,351.94 L711.67,351.87 L711.98,351.79 L712.29,351.72 L712.60,351.64 L712.92,351.57 L713.23,351.50 L713.54,351.42 L713.85,351.35 L714.16,351.27 L714.47,351.19 L714.79,351.12 L715.10,351.04 L715.41,350.97 L715.72,350.89 L716.03,350.82 L716.35,350.74 L716.66,350.66 L716.97,350.59 L717.28,350.51 L717.59,350.43 L717.90,350.36 L718.22,350.28 L718.53,350.20 L718.84,350.12 L719.15,350.05 L719.46,349.97 L719.78,349.89 L720.09,349.81 L720.40,349.73 L720.71,349.66 L721.02,349.58 L721.33,349.50 L721.65,349.42 L721.96,349.34 L722.27,349.26 L722.58,349.18 L722.89,349.10 L723.21,349.02 L723.52,348.94 L723.83,348.86 L724.14,348.78 L724.45,348.70 L724.76,348.62 L725.08,348.54 L725.39,348.46 L725.70,348.38 L726.01,348.30 L726.32,348.22 L726.64,348.14 L726.95,348.06 L727.26,347.97 L727.57,347.89 L727.88,347.81 L728.19,347.73 L728.51,347.65 L728.82,347.56 L729.13,347.48 L729.44,347.40 L729.75,347.32 L730.07,347.23 L730.38,347.15 L730.69,347.06 L731.00,346.98 L731.31,346.90 L731.62,346.81 L731.94,346.73 L732.25,346.64 L732.56,346.56 L732.87,346.48 L733.18,346.39 L733.50,346.31 L733.81,346.22 L734.12,346.14 L734.43,346.05 L734.74,345.96 L735.05,345.88 L735.37,345.79 L735.68,345.71 L735.99,345.62 L736.30,345.53 L736.61,345.45 L736.93,345.36 L737.24,345.27 L737.55,345.18 L737.86,345.10 L738.17,345.01 L738.48,344.92 L738.80,344.83 L739.11,344.74 L739.42,344.66 L739.73,344.57 L740.04,344.48 L740.36,344.39 L740.67,344.30 L740.98,344.21 L741.29,344.12 L741.60,344.03 L741.91,343.94 L742.23,343.85 L742.54,343.76 L742.85,343.67 L743.16,343.58 L743.47,343.49 L743.79,343.40 L744.10,343.31 L744.41,343.22 L744.72,343.12 L745.03,343.03 L745.34,342.94 L745.66,342.85 L745.97,342.75 L746.28,342.66 L746.59,342.57 L746.90,342.48 L747.22,342.38 L747.53,342.29 L747.84,342.20 L748.15,342.10 L748.46,342.01 L748.77,341.91 L749.09,341.82 L749.40,341.72 L749.71,341.63 L750.02,341.53 L750.33,341.44 L750.65,341.34 L750.96,341.25 L751.27,341.15 L751.58,341.06 L751.89,340.96 L752.20,340.86 L752.52,340.77 L752.83,340.67 L753.14,340.57 L753.45,340.48 L753.76,340.38 L754.08,340.28 L754.39,340.18 L754.70,340.08 L755.01,339.99 L755.32,339.89 L755.63,339.79 L755.95,339.69 L756.26,339.59 L756.57,339.49 L756.88,339.39 L757.19,339.29 L757.51,339.19 L757.82,339.09 L758.13,338.99 L758.44,338.89 L758.75,338.79 L759.06,338.69 L759.38,338.58 L759.69,338.48 L760.00,338.38 L760.31,338.28 L760.62,338.18 L760.94,338.07 L761.25,337.97 L761.56,337.87 L761.87,337.76 L762.18,337.66 L762.49,337.56 L762.81,337.45 L763.12,337.35 L763.43,337.24 L763.74,337.14 L764.05,337.03 L764.37,336.93 L764.68,336.82 L764.99,336.72 L765.30,336.61 L765.61,336.50 L765.92,336.40 L766.24,336.29 L766.55,336.18 L766.86,336.08 L767.17,335.97 L767.48,335.86 L767.80,335.75 L768.11,335.65 L768.42,335.54 L768.73,335.43 L769.04,335.32 L769.35,335.21 L769.67,335.10 L769.98,334.99 L770.29,334.88 L770.60,334.77 L770.91,334.66 L771.23,334.55 L771.54,334.44 L771.85,334.33 L772.16,334.22 L772.47,334.10 L772.78,333.99 L773.10,333.88 L773.41,333.77 L773.72,333.66 L774.03,333.54 L774.34,333.43 L774.66,333.32 L774.97,333.20 L775.28,333.09 L775.59,332.97 L775.90,332.86 L776.21,332.74 L776.53,332.63 L776.84,332.51 L777.15,332.40 L777.46,332.28 L777.77,332.16 L778.09,332.05 L778.40,331.93 L778.71,331.81 L779.02,331.70 L779.33,331.58 L779.64,331.46 L779.96,331.34 L780.27,331.22 L780.58,331.10 L780.89,330.99 L781.20,330.87 L781.52,330.75 L781.83,330.63 L782.14,330.51 L782.45,330.39 L782.76,330.26 L783.07,330.14 L783.39,330.02 L783.70,329.90 L784.01,329.78 L784.32,329.66 L784.63,329.53 L784.95,329.41 L785.26,329.29 L785.57,329.16 L785.88,329.04 L786.19,328.91 L786.50,328.79 L786.82,328.66 L787.13,328.54 L787.44,328.41 L787.75,328.29 L788.06,328.16 L788.38,328.04 L788.69,327.91 L789.00,327.78 L789.31,327.65 L789.62,327.53 L789.93,327.40 L790.25,327.27 L790.56,327.14 L790.87,327.01 L791.18,326.88 L791.49,326.75 L791.81,326.62 L792.12,326.49 L792.43,326.36 L792.74,326.23 L793.05,326.10 L793.36,325.97 L793.68,325.84 L793.99,325.71 L794.30,325.57 L794.61,325.44 L794.92,325.31 L795.24,325.17 L795.55,325.04 L795.86,324.91 L796.17,324.77 L796.48,324.64 L796.79,324.50 L797.11,324.36 L797.42,324.23 L797.73,324.09 L798.04,323.96 L798.35,323.82 L798.67,323.68 L798.98,323.54 L799.29,323.40 L799.60,323.27 L799.91,323.13 L800.22,322.99 L800.54,322.85 L800.85,322.71 L801.16,322.57 L801.47,322.43 L801.78,322.29 L802.10,322.14 L802.41,322.00 L802.72,321.86 L803.03,321.72 L803.34,321.58 L803.65,321.43 L803.97,321.29 L804.28,321.14 L804.59,321.00 L804.90,320.85 L805.21,320.71 L805.53,320.56 L805.84,320.42 L806.15,320.27 L806.46,320.12 L806.77,319.98 L807.08,319.83 L807.40,319.68 L807.71,319.53 L808.02,319.38 L808.33,319.24 L808.64,319.09 L808.96,318.94 L809.27,318.78 L809.58,318.63 L809.89,318.48 L810.20,318.33 L810.51,318.18 L810.83,318.03 L811.14,317.87 L811.45,317.72 L811.76,317.57 L812.07,317.41 L812.39,317.26 L812.70,317.10 L813.01,316.95 L813.32,316.79 L813.63,316.64 L813.94,316.48 L814.26,316.32 L814.57,316.16 L814.88,316.01 L815.19,315.85 L815.50,315.69 L815.82,315.53 L816.13,315.37 L816.44,315.21 L816.75,315.05 L817.06,314.89 L817.37,314.72 L817.69,314.56 L818.00,314.40 L818.31,314.24 L818.62,314.07 L818.93,313.91 L819.25,313.75 L819.56,313.58 L819.87,313.41 L820.18,313.25 L820.49,313.08 L820.80,312.92 L821.12,312.75 L821.43,312.58 L821.74,312.41 L822.05,312.24 L822.36,312.07 L822.68,311.91 L822.99,311.74 L823.30,311.56 L823.61,311.39 L823.92,311.22 L824.23,311.05 L824.55,310.88 L824.86,310.70 L825.17,310.53 L825.48,310.36 L825.79,310.18 L826.11,310.01 L826.42,309.83 L826.73,309.65 L827.04,309.48 L827.35,309.30 L827.66,309.12 L827.98,308.94 L828.29,308.77 L828.60,308.59 L828.91,308.41 L829.22,308.23 L829.54,308.04 L829.85,307.86 L830.16,307.68 L830.47,307.50 L830.78,307.32 L831.09,307.13 L831.41,306.95 L831.72,306.76 L832.03,306.58 L832.34,306.39 L832.65,306.20 L832.97,306.02 L833.28,305.83 L833.59,305.64 L833.90,305.45 L834.21,305.26 L834.52,305.07 L834.84,304.88 L835.15,304.69 L835.46,304.50 L835.77,304.31 L836.08,304.12 L836.40,303.92 L836.71,303.73 L837.02,303.53 L837.33,303.34 L837.64,303.14 L837.95,302.95 L838.27,302.75 L838.58,302.55 L838.89,302.35 L839.20,302.15 L839.51,301.95 L839.83,301.75 L840.14,301.55 L840.45,301.35 L840.76,301.15 L841.07,300.95 L841.38,300.74 L841.70,300.54 L842.01,300.34 L842.32,300.13 L842.63,299.92 L842.94,299.72 L843.26,299.51 L843.57,299.30 L843.88,299.09 L844.19,298.88 L844.50,298.67 L844.81,298.46 L845.13,298.25 L845.44,298.04 L845.75,297.83 L846.06,297.61 L846.37,297.40 L846.69,297.19 L847.00,296.97 L847.31,296.75 L847.62,296.54 L847.93,296.32 L848.24,296.10 L848.56,295.88 L848.87,295.66 L849.18,295.44 L849.49,295.22 L849.80,295.00 L850.12,294.78 L850.43,294.55 L850.74,294.33 L851.05,294.11 L851.36,293.88 L851.67,293.65 L851.99,293.43 L852.30,293.20 L852.61,292.97 L852.92,292.74 L853.23,292.51 L853.55,292.28 L853.86,292.05 L854.17,291.82 L854.48,291.58 L854.79,291.35 L855.10,291.11 L855.42,290.88 L855.73,290.64 L856.04,290.40 L856.35,290.17 L856.66,289.93 L856.98,289.69 L857.29,289.45 L857.60,289.21 L857.91,288.96 L858.22,288.72 L858.53,288.48 L858.85,288.23 L859.16,287.99 L859.47,287.74 L859.78,287.49 L860.09,287.25 L860.41,287.00 L860.72,286.75 L861.03,286.50 L861.34,286.24 L861.65,285.99 L861.96,285.74 L862.28,285.48 L862.59,285.23 L862.90,284.97 L863.21,284.72 L863.52,284.46 L863.84,284.20 L864.15,283.94 L864.46,283.68 L864.77,283.42 L865.08,283.15 L865.39,282.89 L865.71,282.63 L866.02,282.36 L866.33,282.09 L866.64,281.83 L866.95,281.56 L867.27,281.29 L867.58,281.02 L867.89,280.75 L868.20,280.48 L868.51,280.20 L868.82,279.93 L869.14,279.65 L869.45,279.38 L869.76,279.10 L870.07,278.82 L870.38,278.54 L870.70,278.26 L871.01,277.98 L871.32,277.70 L871.63,277.41 L871.94,277.13 L872.25,276.84 L872.57,276.56 L872.88,276.27 L873.19,275.98 L873.50,275.69 L873.81,275.40 L874.13,275.11 L874.44,274.81 L874.75,274.52 L875.06,274.22 L875.37,273.93 L875.68,273.63 L876.00,273.33 L876.31,273.03 L876.62,272.73 L876.93,272.43 L877.24,272.12 L877.56,271.82 L877.87,271.51 L878.18,271.21 L878.49,270.90 L878.80,270.59 L879.11,270.28 L879.43,269.97 L879.74,269.65 L880.05,269.34 L880.36,269.02 L880.67,268.71 L880.99,268.39 L881.30,268.07 L881.61,267.75 L881.92,267.43 L882.23,267.10 L882.54,266.78 L882.86,266.45 L883.17,266.13 L883.48,265.80 L883.79,265.47 L884.10,265.14 L884.42,264.80 L884.73,264.47 L885.04,264.14 L885.35,263.80 L885.66,263.46 L885.97,263.12 L886.29,262.78 L886.60,262.44 L886.91,262.10 L887.22,261.75 L887.53,261.41 L887.85,261.06 L888.16,260.71 L888.47,260.36 L888.78,260.01 L889.09,259.65 L889.40,259.30 L889.72,258.94 L890.03,258.58 L890.34,258.22 L890.65,257.86 L890.96,257.50 L891.28,257.14 L891.59,256.77 L891.90,256.40 L892.21,256.04 L892.52,255.67 L892.83,255.29 L893.15,254.92 L893.46,254.55 L893.77,254.17 L894.08,253.79 L894.39,253.41 L894.71,253.03 L895.02,252.65 L895.33,252.26 L895.64,251.88 L895.95,251.49 L896.26,251.10 L896.58,250.71 L896.89,250.31 L897.20,249.92 L897.51,249.52 L897.82,249.12 L898.14,248.72 L898.45,248.32 L898.76,247.92 L899.07,247.51 L899.38,247.10 L899.69,246.69 L900.01,246.28 L900.32,245.87 L900.63,245.45 L900.94,245.04 L901.25,244.62 L901.57,244.20 L901.88,243.78 L902.19,243.35 L902.50,242.93 L902.81,242.50 L903.12,242.07 L903.44,241.63 L903.75,241.20 L904.06,240.76 L904.37,240.33 L904.68,239.89 L905.00,239.44 L905.31,239.00 L905.62,238.55 L905.93,238.10 L906.24,237.65 L906.55,237.20 L906.87,236.75 L907.18,236.29 L907.49,235.83 L907.80,235.37 L908.11,234.90 L908.43,234.44 L908.74,233.97 L909.05,233.50 L909.36,233.03 L909.67,232.55 L909.98,232.07 L910.30,231.60 L910.61,231.11 L910.92,230.63 L911.23,230.14 L911.54,229.65 L911.86,229.16 L912.17,228.67 L912.48,228.17 L912.79,227.67 L913.10,227.17 L913.41,226.67 L913.73,226.16 L914.04,225.65 L914.35,225.14 L914.66,224.63 L914.97,224.11 L915.29,223.59 L915.60,223.07 L915.91,222.55 L916.22,222.02 L916.53,221.49 L916.84,220.96 L917.16,220.42 L917.47,219.89 L917.78,219.34 L918.09,218.80 L918.40,218.25 L918.72,217.71 L919.03,217.15 L919.34,216.60 L919.65,216.04 L919.96,215.48 L920.27,214.92 L920.59,214.35 L920.90,213.78 L921.21,213.21 L921.52,212.63 L921.83,212.05 L922.15,211.47 L922.46,210.89 L922.77,210.30 L923.08,209.71 L923.39,209.11 L923.70,208.52 L924.02,207.92 L924.33,207.31 L924.64,206.70 L924.95,206.09 L925.26,205.48 L925.58,204.86 L925.89,204.24 L926.20,203.62 L926.51,202.99 L926.82,202.36 L927.13,201.72 L927.45,201.08 L927.76,200.44 L928.07,199.80 L928.38,199.15 L928.69,198.49 L929.01,197.84 L929.32,197.18 L929.63,196.51 L929.94,195.84 L930.25,195.17 L930.56,194.50 L930.88,193.82 L931.19,193.13 L931.50,192.45 L931.81,191.75 L932.12,191.06 L932.44,190.36 L932.75,189.66 L933.06,188.95 L933.37,188.24 L933.68,187.52 L933.99,186.80 L934.31,186.07 L934.62,185.34 L934.93,184.61 L935.24,183.87 L935.55,183.13 L935.87,182.38 L936.18,181.63 L936.49,180.88 L936.80,180.11 L937.11,179.35 L937.42,178.58 L937.74,177.80 L938.05,177.02 L938.36,176.24 L938.67,175.45 L938.98,174.66 L939.30,173.86 L939.61,173.05 L939.92,172.24 L940.23,171.43 L940.54,170.61 L940.85,169.78 L941.17,168.95 L941.48,168.12 L941.79,167.28 L942.10,166.43 L942.41,165.58 L942.73,164.72 L943.04,163.86 L943.35,162.99 L943.66,162.12 L943.97,161.24 L944.28,160.35 L944.60,159.46 L944.91,158.56 L945.22,157.66 L945.53,156.75 L945.84,155.83 L946.16,154.91 L946.47,153.98 L946.78,153.05 L947.09,152.11 L947.40,151.16 L947.71,150.21 L948.03,149.25 L948.34,148.28 L948.65,147.31 L948.96,146.32 L949.27,145.34 L949.59,144.34 L949.90,143.34 L950.21,142.33 L950.52,141.32 L950.83,140.30 L951.14,139.27 L951.46,138.23 L951.77,137.19 L952.08,136.13 L952.39,135.07 L952.70,134.01 L953.02,132.93 L953.33,131.85 L953.64,130.76 L953.95,129.66 L954.26,128.55 L954.57,127.44 L954.89,126.31 L955.20,125.18 L955.51,124.04 L955.82,122.89 L956.13,121.74 L956.45,120.57 L956.76,119.39 L957.07,118.21 L957.38,117.02 L957.69,115.82 L958.00,114.60 L958.32,113.38 L958.63,112.15 L958.94,110.91 L959.25,109.66 L959.56,108.40 L959.88,107.13 L960.19,105.85 L960.50,104.56 L960.81,103.26 L961.12,101.95 L961.43,100.63 L961.75,99.30 L962.06,97.96 L962.37,96.60 L962.68,95.24 L962.99,93.86 L963.31,92.47 L963.62,91.08 L963.93,89.66 L964.24,88.24 L964.55,86.81 L964.86,85.36 L965.18,83.90 L965.49,82.43 L965.80,80.95 L966.11,79.45 L966.42,77.94 L966.74,76.42 L967.05,74.88 L967.36,73.34 L967.67,71.77 L967.98,70.20 L968.29,68.61 L968.61,67.00 L968.92,65.38 L969.23,63.75 L969.54,62.10 L969.85,60.44 L970.17,58.76 L970.48,57.07 L970.79,55.36 L971.10,53.63 L971.41,51.89 L971.72,50.14 L972.04,48.36 L972.35,46.57 L972.66,44.77 L972.97,42.94 L973.28,41.10 L973.60,39.24 L973.91,37.37 L974.22,35.47 L974.26,35.20" fill="none" stroke="#F2460D" stroke-width="7.0" stroke-linecap="butt" stroke-linejoin="round"/>
</g>
<circle cx="622.80" cy="368.49" r="9.80" fill="#7B68EE"/>
<circle cx="645.69" cy="364.93" r="9.80" fill="#7B68EE"/>
<circle cx="668.58" cy="360.92" r="9.80" fill="#7B68EE"/>
<circle cx="691.47" cy="356.39" r="9.80" fill="#7B68EE"/>
<circle cx="714.36" cy="351.22" r="9.80" fill="#7B68EE"/>
<circle cx="737.25" cy="345.27" r="9.80" fill="#7B68EE"/>
<circle cx="760.14" cy="338.33" r="9.80" fill="#7B68EE"/>
<circle cx="783.03" cy="330.16" r="9.80" fill="#7B68EE"/>
<circle cx="805.92" cy="320.38" r="9.80" fill="#7B68EE"/>
<circle cx="828.81" cy="308.46" r="9.80" fill="#7B68EE"/>
<circle cx="851.70" cy="293.64" r="9.80" fill="#7B68EE"/>
<circle cx="874.59" cy="274.67" r="9.80" fill="#7B68EE"/>
<circle cx="897.48" cy="249.56" r="9.80" fill="#7B68EE"/>
<circle cx="920.37" cy="214.74" r="9.80" fill="#7B68EE"/>
<circle cx="943.26" cy="163.24" r="9.80" fill="#7B68EE"/>
<circle cx="966.15" cy="79.27" r="9.80" fill="#7B68EE"/>
<rect x="622.80" y="40.20" width="381.50" height="495.70" fill="none" stroke="#262626" stroke-width="1.9"/>
<line x1="695.80" y1="91.90" x2="727.80" y2="91.90" stroke="#F2460D" stroke-width="7" stroke-linecap="butt"/>
<circle cx="711.00" cy="151.30" r="10.20" fill="#7B68EE"/>
<line x1="695.80" y1="210.20" x2="727.80" y2="210.20" stroke="#000" stroke-width="6.8" stroke-linecap="butt"/>
<text x="741.90" y="97.88" font-size="36.99" font-style="italic" fill="#000" >ρ</text>
<text x="759.62" y="105.72" font-size="26.67" fill="#000" >11</text>
<text x="740.10" y="150.45" font-size="36.84" font-style="italic" fill="#000" >ρ</text>
<text x="759.08" y="158.25" font-size="24.6" fill="#000" >22</text>
<text x="740.70" y="214.25" font-size="36.84" font-style="italic" fill="#000" >ρ</text>
<text x="758.55" y="222.07" font-size="25.51" fill="#000" >12</text>
<text x="609.30" y="53.60" font-size="37.3" text-anchor="end">6</text>
<text x="609.30" y="301.45" font-size="37.3" text-anchor="end">3</text>
<text x="609.30" y="549.30" font-size="37.3" text-anchor="end">0</text>
<text x="621.60" y="582.10" font-size="37.3" text-anchor="middle">65</text>
<text x="1003.10" y="582.10" font-size="37.3" text-anchor="middle">70</text>
<text x="625.45" y="37.90" font-size="28" fill="#000" >×</text>
<text x="645.70" y="37.50" font-size="28" fill="#000" >10</text>
<text x="673.60" y="28.55" font-size="20" fill="#000" >3</text>
<text x="703.00" y="589.50" font-size="37.28" fill="#000" >Frequency Hz</text>
<text x="0" y="0" font-size="37.05" fill="#000" transform="translate(577.50,464.60) rotate(-90)">Effective density kg/m</text>
<text x="0" y="0" font-size="28" fill="#000" transform="translate(559.20,126.28) rotate(-90)">3</text>
<text x="526.10" y="50.33" font-size="37.66" font-weight="bold" fill="#000" >b</text>
<clipPath id="cc"><rect x="94.0" y="637.5" width="384.5" height="412.70000000000005"/></clipPath>
<line x1="94.00" y1="912.63" x2="100.00" y2="912.63" stroke="#262626" stroke-width="1.8" stroke-linecap="butt"/>
<line x1="474.50" y1="912.63" x2="468.50" y2="912.63" stroke="#262626" stroke-width="1.8" stroke-linecap="butt"/>
<line x1="94.00" y1="775.07" x2="100.00" y2="775.07" stroke="#262626" stroke-width="1.8" stroke-linecap="butt"/>
<line x1="474.50" y1="775.07" x2="468.50" y2="775.07" stroke="#262626" stroke-width="1.8" stroke-linecap="butt"/>
<line x1="94.00" y1="912.60" x2="474.50" y2="912.60" stroke="#000" stroke-width="2.8" stroke-dasharray="11 11.3" stroke-linecap="butt"/>
<line x1="94.00" y1="775.20" x2="474.50" y2="775.20" stroke="#000" stroke-width="2.8" stroke-dasharray="11 11.3" stroke-linecap="butt"/>
<line x1="451.60" y1="637.50" x2="451.60" y2="1050.20" stroke="#000" stroke-width="2.8" stroke-dasharray="11 11.3" stroke-linecap="butt"/>
<g clip-path="url(#cc)">
<path d="M94.00,945.68 L94.64,945.65 L95.27,945.63 L95.91,945.60 L96.54,945.57 L97.18,945.55 L97.81,945.52 L98.45,945.49 L99.08,945.47 L99.72,945.44 L100.35,945.41 L100.99,945.38 L101.62,945.36 L102.26,945.33 L102.89,945.30 L103.53,945.27 L104.16,945.24 L104.80,945.22 L105.43,945.19 L106.07,945.16 L106.70,945.13 L107.34,945.10 L107.97,945.07 L108.61,945.04 L109.25,945.02 L109.88,944.99 L110.52,944.96 L111.15,944.93 L111.79,944.90 L112.42,944.87 L113.06,944.84 L113.69,944.81 L114.33,944.78 L114.96,944.75 L115.60,944.72 L116.23,944.69 L116.87,944.66 L117.50,944.63 L118.14,944.60 L118.77,944.57 L119.41,944.54 L120.04,944.51 L120.68,944.47 L121.31,944.44 L121.95,944.41 L122.59,944.38 L123.22,944.35 L123.86,944.32 L124.49,944.29 L125.13,944.25 L125.76,944.22 L126.40,944.19 L127.03,944.16 L127.67,944.13 L128.30,944.09 L128.94,944.06 L129.57,944.03 L130.21,944.00 L130.84,943.96 L131.48,943.93 L132.11,943.90 L132.75,943.86 L133.38,943.83 L134.02,943.80 L134.65,943.76 L135.29,943.73 L135.92,943.70 L136.56,943.66 L137.20,943.63 L137.83,943.59 L138.47,943.56 L139.10,943.53 L139.74,943.49 L140.37,943.46 L141.01,943.42 L141.64,943.39 L142.28,943.35 L142.91,943.32 L143.55,943.28 L144.18,943.25 L144.82,943.21 L145.45,943.18 L146.09,943.14 L146.72,943.11 L147.36,943.07 L147.99,943.03 L148.63,943.00 L149.26,942.96 L149.90,942.93 L150.54,942.89 L151.17,942.85 L151.81,942.82 L152.44,942.78 L153.08,942.74 L153.71,942.71 L154.35,942.67 L154.98,942.63 L155.62,942.59 L156.25,942.56 L156.89,942.52 L157.52,942.48 L158.16,942.44 L158.79,942.41 L159.43,942.37 L160.06,942.33 L160.70,942.29 L161.33,942.25 L161.97,942.22 L162.60,942.18 L163.24,942.14 L163.87,942.10 L164.51,942.06 L165.15,942.02 L165.78,941.98 L166.42,941.94 L167.05,941.90 L167.69,941.87 L168.32,941.83 L168.96,941.79 L169.59,941.75 L170.23,941.71 L170.86,941.67 L171.50,941.63 L172.13,941.59 L172.77,941.55 L173.40,941.51 L174.04,941.47 L174.67,941.43 L175.31,941.38 L175.94,941.34 L176.58,941.30 L177.21,941.26 L177.85,941.22 L178.48,941.18 L179.12,941.14 L179.76,941.10 L180.39,941.05 L181.03,941.01 L181.66,940.97 L182.30,940.93 L182.93,940.89 L183.57,940.84 L184.20,940.80 L184.84,940.76 L185.47,940.72 L186.11,940.67 L186.74,940.63 L187.38,940.59 L188.01,940.55 L188.65,940.50 L189.28,940.46 L189.92,940.42 L190.55,940.37 L191.19,940.33 L191.82,940.29 L192.46,940.24 L193.10,940.20 L193.73,940.15 L194.37,940.11 L195.00,940.07 L195.64,940.02 L196.27,939.98 L196.91,939.93 L197.54,939.89 L198.18,939.84 L198.81,939.80 L199.45,939.75 L200.08,939.71 L200.72,939.66 L201.35,939.62 L201.99,939.57 L202.62,939.53 L203.26,939.48 L203.89,939.44 L204.53,939.39 L205.16,939.34 L205.80,939.30 L206.43,939.25 L207.07,939.20 L207.71,939.16 L208.34,939.11 L208.98,939.07 L209.61,939.02 L210.25,938.97 L210.88,938.92 L211.52,938.88 L212.15,938.83 L212.79,938.78 L213.42,938.74 L214.06,938.69 L214.69,938.64 L215.33,938.59 L215.96,938.54 L216.60,938.50 L217.23,938.45 L217.87,938.40 L218.50,938.35 L219.14,938.30 L219.77,938.25 L220.41,938.21 L221.05,938.16 L221.68,938.11 L222.32,938.06 L222.95,938.01 L223.59,937.96 L224.22,937.91 L224.86,937.86 L225.49,937.81 L226.13,937.76 L226.76,937.71 L227.40,937.66 L228.03,937.61 L228.67,937.56 L229.30,937.51 L229.94,937.46 L230.57,937.41 L231.21,937.36 L231.84,937.31 L232.48,937.26 L233.11,937.21 L233.75,937.16 L234.38,937.11 L235.02,937.05 L235.66,937.00 L236.29,936.95 L236.93,936.90 L237.56,936.85 L238.20,936.80 L238.83,936.74 L239.47,936.69 L240.10,936.64 L240.74,936.59 L241.37,936.53 L242.01,936.48 L242.64,936.43 L243.28,936.38 L243.91,936.32 L244.55,936.27 L245.18,936.22 L245.82,936.16 L246.45,936.11 L247.09,936.06 L247.72,936.00 L248.36,935.95 L248.99,935.90 L249.63,935.84 L250.27,935.79 L250.90,935.73 L251.54,935.68 L252.17,935.63 L252.81,935.57 L253.44,935.52 L254.08,935.46 L254.71,935.41 L255.35,935.35 L255.98,935.30 L256.62,935.24 L257.25,935.19 L257.89,935.13 L258.52,935.08 L259.16,935.02 L259.79,934.97 L260.43,934.91 L261.06,934.85 L261.70,934.80 L262.33,934.74 L262.97,934.69 L263.61,934.63 L264.24,934.57 L264.88,934.52 L265.51,934.46 L266.15,934.40 L266.78,934.35 L267.42,934.29 L268.05,934.23 L268.69,934.17 L269.32,934.12 L269.96,934.06 L270.59,934.00 L271.23,933.94 L271.86,933.89 L272.50,933.83 L273.13,933.77 L273.77,933.71 L274.40,933.65 L275.04,933.59 L275.67,933.54 L276.31,933.48 L276.94,933.42 L277.58,933.36 L278.22,933.30 L278.85,933.24 L279.49,933.18 L280.12,933.12 L280.76,933.06 L281.39,933.00 L282.03,932.94 L282.66,932.89 L283.30,932.83 L283.93,932.77 L284.57,932.71 L285.20,932.65 L285.84,932.58 L286.47,932.52 L287.11,932.46 L287.74,932.40 L288.38,932.34 L289.01,932.28 L289.65,932.22 L290.28,932.16 L290.92,932.10 L291.56,932.04 L292.19,931.98 L292.83,931.91 L293.46,931.85 L294.10,931.79 L294.73,931.73 L295.37,931.67 L296.00,931.60 L296.64,931.54 L297.27,931.48 L297.91,931.42 L298.54,931.35 L299.18,931.29 L299.81,931.23 L300.45,931.17 L301.08,931.10 L301.72,931.04 L302.35,930.98 L302.99,930.91 L303.62,930.85 L304.26,930.79 L304.89,930.72 L305.53,930.66 L306.17,930.60 L306.80,930.53 L307.44,930.47 L308.07,930.40 L308.71,930.34 L309.34,930.27 L309.98,930.21 L310.61,930.14 L311.25,930.08 L311.88,930.01 L312.52,929.95 L313.15,929.88 L313.79,929.82 L314.42,929.75 L315.06,929.69 L315.69,929.62 L316.33,929.56 L316.96,929.49 L317.60,929.43 L318.23,929.36 L318.87,929.29 L319.51,929.23 L320.14,929.16 L320.78,929.09 L321.41,929.03 L322.05,928.96 L322.68,928.89 L323.32,928.83 L323.95,928.76 L324.59,928.69 L325.22,928.63 L325.86,928.56 L326.49,928.49 L327.13,928.42 L327.76,928.36 L328.40,928.29 L329.03,928.22 L329.67,928.15 L330.30,928.08 L330.94,928.01 L331.57,927.95 L332.21,927.88 L332.84,927.81 L333.48,927.74 L334.12,927.67 L334.75,927.60 L335.39,927.53 L336.02,927.46 L336.66,927.39 L337.29,927.33 L337.93,927.26 L338.56,927.19 L339.20,927.12 L339.83,927.05 L340.47,926.98 L341.10,926.91 L341.74,926.84 L342.37,926.77 L343.01,926.70 L343.64,926.62 L344.28,926.55 L344.91,926.48 L345.55,926.41 L346.18,926.34 L346.82,926.27 L347.45,926.20 L348.09,926.13 L348.73,926.06 L349.36,925.98 L350.00,925.91 L350.63,925.84 L351.27,925.77 L351.90,925.70 L352.54,925.63 L353.17,925.55 L353.81,925.48 L354.44,925.41 L355.08,925.34 L355.71,925.26 L356.35,925.19 L356.98,925.12 L357.62,925.04 L358.25,924.97 L358.89,924.90 L359.52,924.82 L360.16,924.75 L360.79,924.68 L361.43,924.60 L362.07,924.53 L362.70,924.46 L363.34,924.38 L363.97,924.31 L364.61,924.23 L365.24,924.16 L365.88,924.08 L366.51,924.01 L367.15,923.93 L367.78,923.86 L368.42,923.78 L369.05,923.71 L369.69,923.63 L370.32,923.56 L370.96,923.48 L371.59,923.41 L372.23,923.33 L372.86,923.26 L373.50,923.18 L374.13,923.11 L374.77,923.03 L375.40,922.95 L376.04,922.88 L376.68,922.80 L377.31,922.72 L377.95,922.65 L378.58,922.57 L379.22,922.49 L379.85,922.42 L380.49,922.34 L381.12,922.26 L381.76,922.18 L382.39,922.11 L383.03,922.03 L383.66,921.95 L384.30,921.87 L384.93,921.80 L385.57,921.72 L386.20,921.64 L386.84,921.56 L387.47,921.48 L388.11,921.41 L388.74,921.33 L389.38,921.25 L390.02,921.17 L390.65,921.09 L391.29,921.01 L391.92,920.93 L392.56,920.85 L393.19,920.77 L393.83,920.69 L394.46,920.61 L395.10,920.54 L395.73,920.46 L396.37,920.38 L397.00,920.30 L397.64,920.22 L398.27,920.14 L398.91,920.05 L399.54,919.97 L400.18,919.89 L400.81,919.81 L401.45,919.73 L402.08,919.65 L402.72,919.57 L403.35,919.49 L403.99,919.41 L404.63,919.33 L405.26,919.24 L405.90,919.16 L406.53,919.08 L407.17,919.00 L407.80,918.92 L408.44,918.84 L409.07,918.75 L409.71,918.67 L410.34,918.59 L410.98,918.51 L411.61,918.42 L412.25,918.34 L412.88,918.26 L413.52,918.18 L414.15,918.09 L414.79,918.01 L415.42,917.93 L416.06,917.84 L416.69,917.76 L417.33,917.68 L417.96,917.59 L418.60,917.51 L419.24,917.42 L419.87,917.34 L420.51,917.26 L421.14,917.17 L421.78,917.09 L422.41,917.00 L423.05,916.92 L423.68,916.83 L424.32,916.75 L424.95,916.66 L425.59,916.58 L426.22,916.49 L426.86,916.41 L427.49,916.32 L428.13,916.24 L428.76,916.15 L429.40,916.06 L430.03,915.98 L430.67,915.89 L431.30,915.81 L431.94,915.72 L432.58,915.63 L433.21,915.55 L433.85,915.46 L434.48,915.37 L435.12,915.29 L435.75,915.20 L436.39,915.11 L437.02,915.03 L437.66,914.94 L438.29,914.85 L438.93,914.76 L439.56,914.68 L440.20,914.59 L440.83,914.50 L441.47,914.41 L442.10,914.33 L442.74,914.24 L443.37,914.15 L444.01,914.06 L444.64,913.97 L445.28,913.88 L445.91,913.80 L446.55,913.71 L447.19,913.62 L447.82,913.53 L448.46,913.44 L449.09,913.35 L449.73,913.26 L450.36,913.17 L451.00,913.08 L451.63,912.99 L452.27,912.90 L452.90,912.81 L453.54,912.72 L454.17,912.63 L454.81,912.54 L455.44,912.45 L456.08,912.36 L456.71,912.27 L457.35,912.18 L457.98,912.09 L458.62,912.00 L459.25,911.91 L459.89,911.82 L460.53,911.72 L461.16,911.63 L461.80,911.54 L462.43,911.45 L463.07,911.36 L463.70,911.27 L464.34,911.17 L464.97,911.08 L465.61,910.99 L466.24,910.90 L466.88,910.81 L467.51,910.71 L468.15,910.62 L468.78,910.53 L469.42,910.43 L470.05,910.34 L470.69,910.25 L471.32,910.16 L471.96,910.06 L472.59,909.97 L473.23,909.87 L473.86,909.78 L474.50,909.69" fill="none" stroke="#F2460D" stroke-width="7.2" stroke-linecap="butt" stroke-linejoin="round"/>
<path d="M94.00,934.13 L94.64,934.05 L95.27,933.98 L95.91,933.90 L96.54,933.82 L97.18,933.75 L97.81,933.67 L98.45,933.59 L99.08,933.52 L99.72,933.44 L100.35,933.36 L100.99,933.29 L101.62,933.21 L102.26,933.13 L102.89,933.05 L103.53,932.97 L104.16,932.90 L104.80,932.82 L105.43,932.74 L106.07,932.66 L106.70,932.58 L107.34,932.50 L107.97,932.43 L108.61,932.35 L109.25,932.27 L109.88,932.19 L110.52,932.11 L111.15,932.03 L111.79,931.95 L112.42,931.87 L113.06,931.79 L113.69,931.71 L114.33,931.63 L114.96,931.55 L115.60,931.47 L116.23,931.39 L116.87,931.31 L117.50,931.23 L118.14,931.15 L118.77,931.07 L119.41,930.99 L120.04,930.91 L120.68,930.83 L121.31,930.74 L121.95,930.66 L122.59,930.58 L123.22,930.50 L123.86,930.42 L124.49,930.33 L125.13,930.25 L125.76,930.17 L126.40,930.09 L127.03,930.01 L127.67,929.92 L128.30,929.84 L128.94,929.76 L129.57,929.67 L130.21,929.59 L130.84,929.51 L131.48,929.42 L132.11,929.34 L132.75,929.26 L133.38,929.17 L134.02,929.09 L134.65,929.00 L135.29,928.92 L135.92,928.83 L136.56,928.75 L137.20,928.66 L137.83,928.58 L138.47,928.49 L139.10,928.41 L139.74,928.32 L140.37,928.24 L141.01,928.15 L141.64,928.06 L142.28,927.98 L142.91,927.89 L143.55,927.81 L144.18,927.72 L144.82,927.63 L145.45,927.55 L146.09,927.46 L146.72,927.37 L147.36,927.28 L147.99,927.20 L148.63,927.11 L149.26,927.02 L149.90,926.93 L150.54,926.84 L151.17,926.76 L151.81,926.67 L152.44,926.58 L153.08,926.49 L153.71,926.40 L154.35,926.31 L154.98,926.22 L155.62,926.13 L156.25,926.04 L156.89,925.95 L157.52,925.86 L158.16,925.77 L158.79,925.68 L159.43,925.59 L160.06,925.50 L160.70,925.41 L161.33,925.32 L161.97,925.23 L162.60,925.13 L163.24,925.04 L163.87,924.95 L164.51,924.86 L165.15,924.77 L165.78,924.67 L166.42,924.58 L167.05,924.49 L167.69,924.39 L168.32,924.30 L168.96,924.21 L169.59,924.11 L170.23,924.02 L170.86,923.92 L171.50,923.83 L172.13,923.74 L172.77,923.64 L173.40,923.55 L174.04,923.45 L174.67,923.36 L175.31,923.26 L175.94,923.16 L176.58,923.07 L177.21,922.97 L177.85,922.88 L178.48,922.78 L179.12,922.68 L179.76,922.59 L180.39,922.49 L181.03,922.39 L181.66,922.29 L182.30,922.19 L182.93,922.10 L183.57,922.00 L184.20,921.90 L184.84,921.80 L185.47,921.70 L186.11,921.60 L186.74,921.50 L187.38,921.40 L188.01,921.30 L188.65,921.20 L189.28,921.10 L189.92,921.00 L190.55,920.90 L191.19,920.80 L191.82,920.70 L192.46,920.60 L193.10,920.49 L193.73,920.39 L194.37,920.29 L195.00,920.19 L195.64,920.08 L196.27,919.98 L196.91,919.88 L197.54,919.77 L198.18,919.67 L198.81,919.57 L199.45,919.46 L200.08,919.36 L200.72,919.25 L201.35,919.15 L201.99,919.04 L202.62,918.94 L203.26,918.83 L203.89,918.72 L204.53,918.62 L205.16,918.51 L205.80,918.40 L206.43,918.30 L207.07,918.19 L207.71,918.08 L208.34,917.97 L208.98,917.86 L209.61,917.76 L210.25,917.65 L210.88,917.54 L211.52,917.43 L212.15,917.32 L212.79,917.21 L213.42,917.10 L214.06,916.99 L214.69,916.87 L215.33,916.76 L215.96,916.65 L216.60,916.54 L217.23,916.43 L217.87,916.31 L218.50,916.20 L219.14,916.09 L219.77,915.97 L220.41,915.86 L221.05,915.75 L221.68,915.63 L222.32,915.52 L222.95,915.40 L223.59,915.29 L224.22,915.17 L224.86,915.05 L225.49,914.94 L226.13,914.82 L226.76,914.70 L227.40,914.59 L228.03,914.47 L228.67,914.35 L229.30,914.23 L229.94,914.11 L230.57,913.99 L231.21,913.87 L231.84,913.75 L232.48,913.63 L233.11,913.51 L233.75,913.39 L234.38,913.27 L235.02,913.15 L235.66,913.03 L236.29,912.90 L236.93,912.78 L237.56,912.66 L238.20,912.53 L238.83,912.41 L239.47,912.28 L240.10,912.16 L240.74,912.03 L241.37,911.91 L242.01,911.78 L242.64,911.66 L243.28,911.53 L243.91,911.40 L244.55,911.27 L245.18,911.15 L245.82,911.02 L246.45,910.89 L247.09,910.76 L247.72,910.63 L248.36,910.50 L248.99,910.37 L249.63,910.24 L250.27,910.11 L250.90,909.97 L251.54,909.84 L252.17,909.71 L252.81,909.58 L253.44,909.44 L254.08,909.31 L254.71,909.17 L255.35,909.04 L255.98,908.90 L256.62,908.77 L257.25,908.63 L257.89,908.49 L258.52,908.36 L259.16,908.22 L259.79,908.08 L260.43,907.94 L261.06,907.80 L261.70,907.66 L262.33,907.52 L262.97,907.38 L263.61,907.24 L264.24,907.10 L264.88,906.95 L265.51,906.81 L266.15,906.67 L266.78,906.52 L267.42,906.38 L268.05,906.23 L268.69,906.09 L269.32,905.94 L269.96,905.79 L270.59,905.65 L271.23,905.50 L271.86,905.35 L272.50,905.20 L273.13,905.05 L273.77,904.90 L274.40,904.75 L275.04,904.60 L275.67,904.45 L276.31,904.29 L276.94,904.14 L277.58,903.99 L278.22,903.83 L278.85,903.68 L279.49,903.52 L280.12,903.36 L280.76,903.21 L281.39,903.05 L282.03,902.89 L282.66,902.73 L283.30,902.57 L283.93,902.41 L284.57,902.25 L285.20,902.09 L285.84,901.93 L286.47,901.77 L287.11,901.60 L287.74,901.44 L288.38,901.27 L289.01,901.11 L289.65,900.94 L290.28,900.77 L290.92,900.61 L291.56,900.44 L292.19,900.27 L292.83,900.10 L293.46,899.93 L294.10,899.76 L294.73,899.58 L295.37,899.41 L296.00,899.24 L296.64,899.06 L297.27,898.89 L297.91,898.71 L298.54,898.53 L299.18,898.36 L299.81,898.18 L300.45,898.00 L301.08,897.82 L301.72,897.64 L302.35,897.45 L302.99,897.27 L303.62,897.09 L304.26,896.90 L304.89,896.72 L305.53,896.53 L306.17,896.34 L306.80,896.16 L307.44,895.97 L308.07,895.78 L308.71,895.59 L309.34,895.39 L309.98,895.20 L310.61,895.01 L311.25,894.81 L311.88,894.62 L312.52,894.42 L313.15,894.22 L313.79,894.03 L314.42,893.83 L315.06,893.63 L315.69,893.42 L316.33,893.22 L316.96,893.02 L317.60,892.81 L318.23,892.61 L318.87,892.40 L319.51,892.19 L320.14,891.98 L320.78,891.77 L321.41,891.56 L322.05,891.35 L322.68,891.13 L323.32,890.92 L323.95,890.70 L324.59,890.49 L325.22,890.27 L325.86,890.05 L326.49,889.83 L327.13,889.61 L327.76,889.38 L328.40,889.16 L329.03,888.93 L329.67,888.71 L330.30,888.48 L330.94,888.25 L331.57,888.02 L332.21,887.78 L332.84,887.55 L333.48,887.32 L334.12,887.08 L334.75,886.84 L335.39,886.60 L336.02,886.36 L336.66,886.12 L337.29,885.88 L337.93,885.63 L338.56,885.39 L339.20,885.14 L339.83,884.89 L340.47,884.64 L341.10,884.38 L341.74,884.13 L342.37,883.87 L343.01,883.62 L343.64,883.36 L344.28,883.10 L344.91,882.84 L345.55,882.57 L346.18,882.31 L346.82,882.04 L347.45,881.77 L348.09,881.50 L348.73,881.23 L349.36,880.95 L350.00,880.68 L350.63,880.40 L351.27,880.12 L351.90,879.84 L352.54,879.55 L353.17,879.27 L353.81,878.98 L354.44,878.69 L355.08,878.40 L355.71,878.11 L356.35,877.81 L356.98,877.51 L357.62,877.21 L358.25,876.91 L358.89,876.61 L359.52,876.30 L360.16,875.99 L360.79,875.68 L361.43,875.37 L362.07,875.06 L362.70,874.74 L363.34,874.42 L363.97,874.10 L364.61,873.77 L365.24,873.45 L365.88,873.12 L366.51,872.78 L367.15,872.45 L367.78,872.11 L368.42,871.77 L369.05,871.43 L369.69,871.09 L370.32,870.74 L370.96,870.39 L371.59,870.04 L372.23,869.68 L372.86,869.32 L373.50,868.96 L374.13,868.60 L374.77,868.23 L375.40,867.86 L376.04,867.49 L376.68,867.11 L377.31,866.73 L377.95,866.35 L378.58,865.96 L379.22,865.57 L379.85,865.18 L380.49,864.78 L381.12,864.38 L381.76,863.98 L382.39,863.58 L383.03,863.17 L383.66,862.75 L384.30,862.34 L384.93,861.92 L385.57,861.49 L386.20,861.06 L386.84,860.63 L387.47,860.19 L388.11,859.75 L388.74,859.31 L389.38,858.86 L390.02,858.41 L390.65,857.95 L391.29,857.49 L391.92,857.03 L392.56,856.56 L393.19,856.08 L393.83,855.60 L394.46,855.12 L395.10,854.63 L395.73,854.14 L396.37,853.64 L397.00,853.14 L397.64,852.63 L398.27,852.12 L398.91,851.60 L399.54,851.07 L400.18,850.54 L400.81,850.01 L401.45,849.47 L402.08,848.92 L402.72,848.37 L403.35,847.82 L403.99,847.25 L404.63,846.68 L405.26,846.11 L405.90,845.52 L406.53,844.94 L407.17,844.34 L407.80,843.74 L408.44,843.13 L409.07,842.52 L409.71,841.89 L410.34,841.26 L410.98,840.63 L411.61,839.98 L412.25,839.33 L412.88,838.67 L413.52,838.01 L414.15,837.33 L414.79,836.65 L415.42,835.96 L416.06,835.26 L416.69,834.55 L417.33,833.83 L417.96,833.11 L418.60,832.37 L419.24,831.63 L419.87,830.87 L420.51,830.11 L421.14,829.33 L421.78,828.55 L422.41,827.76 L423.05,826.95 L423.68,826.14 L424.32,825.31 L424.95,824.47 L425.59,823.62 L426.22,822.76 L426.86,821.89 L427.49,821.00 L428.13,820.11 L428.76,819.20 L429.40,818.27 L430.03,817.34 L430.67,816.39 L431.30,815.42 L431.94,814.44 L432.58,813.45 L433.21,812.44 L433.85,811.42 L434.48,810.38 L435.12,809.32 L435.75,808.25 L436.39,807.16 L437.02,806.06 L437.66,804.93 L438.29,803.79 L438.93,802.63 L439.56,801.45 L440.20,800.25 L440.83,799.03 L441.47,797.79 L442.10,796.53 L442.74,795.25 L443.37,793.95 L444.01,792.62 L444.64,791.27 L445.28,789.89 L445.91,788.49 L446.55,787.06 L447.19,785.61 L447.82,784.13 L448.46,782.62 L449.09,781.09 L449.73,779.52 L450.36,777.92 L451.00,776.30 L451.63,774.64 L452.27,772.94 L452.90,771.21 L453.54,769.45 L454.17,767.65 L454.81,765.81 L455.44,763.94 L456.08,762.02 L456.71,760.06 L457.35,758.06 L457.98,756.02 L458.62,753.92 L459.25,751.78 L459.89,749.60 L460.53,747.36 L461.16,745.06 L461.80,742.72 L462.43,740.31 L463.07,737.85 L463.70,735.33 L464.34,732.74 L464.97,730.09 L465.61,727.36 L466.24,724.57 L466.88,721.70 L467.51,718.76 L468.15,715.73 L468.78,712.63 L469.42,709.43 L470.05,706.14 L470.69,702.76 L471.32,699.28 L471.96,695.69 L472.59,692.00 L473.23,688.19 L473.86,684.27 L474.50,680.21" fill="none" stroke="#7B68EE" stroke-width="7.2" stroke-linecap="butt" stroke-linejoin="round"/>
</g>
<rect x="94.00" y="637.50" width="380.50" height="412.70" fill="none" stroke="#262626" stroke-width="1.9"/>
<line x1="167.80" y1="685.00" x2="199.20" y2="685.00" stroke="#F2460D" stroke-width="7.4" stroke-linecap="butt"/>
<line x1="167.80" y1="727.20" x2="199.20" y2="727.20" stroke="#7B68EE" stroke-width="7.3" stroke-linecap="butt"/>
<text x="218.32" y="690.62" font-size="37.56" font-style="italic" fill="#000" >n</text>
<text x="237.35" y="698.65" font-size="25.28" fill="#000" >FS</text>
<text x="217.05" y="743.30" font-size="36.07" font-style="italic" fill="#000" >n</text>
<text x="235.78" y="751.25" font-size="25.28" fill="#000" >SS</text>
<text x="317.88" y="690.20" font-size="37.62" fill="#000" >69.71Hz</text>
<text x="80.50" y="650.90" font-size="37.3" text-anchor="end">3</text>
<text x="80.50" y="788.47" font-size="37.3" text-anchor="end">2</text>
<text x="80.50" y="926.03" font-size="37.3" text-anchor="end">1</text>
<text x="80.50" y="1063.60" font-size="37.3" text-anchor="end">0</text>
<text x="92.80" y="1096.40" font-size="37.3" text-anchor="middle">65</text>
<text x="473.30" y="1096.40" font-size="37.3" text-anchor="middle">70</text>
<text x="151.78" y="1106.40" font-size="37.47" fill="#000" >Frequency Hz</text>
<text x="0" y="0" font-size="37.57" fill="#000" transform="translate(49.30,1048.53) rotate(-90)">Number of 1/2-wavelength</text>
<text x="1.12" y="621.40" font-size="40.21" font-weight="bold" fill="#000" >c</text>
<clipPath id="cd"><rect x="622.8" y="637.6" width="385.4000000000001" height="416.80000000000007"/></clipPath>
<line x1="622.80" y1="844.00" x2="628.80" y2="844.00" stroke="#262626" stroke-width="1.8" stroke-linecap="butt"/>
<line x1="1004.20" y1="844.00" x2="998.20" y2="844.00" stroke="#262626" stroke-width="1.8" stroke-linecap="butt"/>
<rect x="622.80" y="637.60" width="381.40" height="412.80" fill="none" stroke="#262626" stroke-width="1.9"/>
<g clip-path="url(#cd)">
<path d="M622.80,928.52 L623.30,928.36 L623.80,928.19 L624.30,928.03 L624.80,927.86 L625.30,927.69 L625.80,927.52 L626.30,927.34 L626.80,927.17 L627.31,926.99 L627.81,926.81 L628.31,926.63 L628.81,926.45 L629.31,926.27 L629.81,926.08 L630.31,925.90 L630.81,925.71 L631.31,925.52 L631.81,925.33 L632.31,925.14 L632.81,924.94 L633.31,924.75 L633.81,924.55 L634.31,924.35 L634.81,924.16 L635.31,923.95 L635.81,923.75 L636.32,923.55 L636.82,923.34 L637.32,923.14 L637.82,922.93 L638.32,922.72 L638.82,922.51 L639.32,922.30 L639.82,922.08 L640.32,921.87 L640.82,921.65 L641.32,921.43 L641.82,921.21 L642.32,920.99 L642.82,920.77 L643.32,920.55 L643.82,920.32 L644.32,920.10 L644.83,919.87 L645.33,919.64 L645.83,919.41 L646.33,919.18 L646.83,918.95 L647.33,918.71 L647.83,918.48 L648.33,918.24 L648.83,918.01 L649.33,917.77 L649.83,917.53 L650.33,917.29 L650.83,917.04 L651.33,916.80 L651.83,916.56 L652.33,916.31 L652.83,916.06 L653.33,915.81 L653.84,915.56 L654.34,915.31 L654.84,915.06 L655.34,914.81 L655.84,914.55 L656.34,914.30 L656.84,914.04 L657.34,913.79 L657.84,913.53 L658.34,913.27 L658.84,913.01 L659.34,912.74 L659.84,912.48 L660.34,912.22 L660.84,911.95 L661.34,911.69 L661.84,911.42 L662.35,911.15 L662.85,910.88 L663.35,910.61 L663.85,910.34 L664.35,910.07 L664.85,909.79 L665.35,909.52 L665.85,909.24 L666.35,908.97 L666.85,908.69 L667.35,908.41 L667.85,908.13 L668.35,907.85 L668.85,907.57 L669.35,907.29 L669.85,907.01 L670.35,906.72 L670.85,906.44 L671.36,906.15 L671.86,905.87 L672.36,905.58 L672.86,905.29 L673.36,905.00 L673.86,904.71 L674.36,904.42 L674.86,904.13 L675.36,903.83 L675.86,903.54 L676.36,903.25 L676.86,902.95 L677.36,902.66 L677.86,902.36 L678.36,902.06 L678.86,901.76 L679.36,901.46 L679.87,901.16 L680.37,900.86 L680.87,900.56 L681.37,900.26 L681.87,899.96 L682.37,899.65 L682.87,899.35 L683.37,899.04 L683.87,898.74 L684.37,898.43 L684.87,898.12 L685.37,897.81 L685.87,897.51 L686.37,897.20 L686.87,896.89 L687.37,896.58 L687.87,896.26 L688.37,895.95 L688.88,895.64 L689.38,895.33 L689.88,895.01 L690.38,894.70 L690.88,894.38 L691.38,894.07 L691.88,893.75 L692.38,893.43 L692.88,893.12 L693.38,892.80 L693.88,892.48 L694.38,892.16 L694.88,891.84 L695.38,891.52 L695.88,891.20 L696.38,890.88 L696.88,890.56 L697.39,890.24 L697.89,889.91 L698.39,889.59 L698.89,889.27 L699.39,888.94 L699.89,888.62 L700.39,888.29 L700.89,887.97 L701.39,887.64 L701.89,887.31 L702.39,886.99 L702.89,886.66 L703.39,886.33 L703.89,886.00 L704.39,885.68 L704.89,885.35 L705.39,885.02 L705.89,884.69 L706.40,884.36 L706.90,884.03 L707.40,883.70 L707.90,883.37 L708.40,883.03 L708.90,882.70 L709.40,882.37 L709.90,882.04 L710.40,881.70 L710.90,881.37 L711.40,881.04 L711.90,880.70 L712.40,880.37 L712.90,880.04 L713.40,879.70 L713.90,879.37 L714.40,879.03 L714.91,878.70 L715.41,878.36 L715.91,878.03 L716.41,877.69 L716.91,877.35 L717.41,877.02 L717.91,876.68 L718.41,876.35 L718.91,876.01 L719.41,875.67 L719.91,875.33 L720.41,875.00 L720.91,874.66 L721.41,874.32 L721.91,873.99 L722.41,873.65 L722.91,873.31 L723.42,872.97 L723.92,872.63 L724.42,872.30 L724.92,871.96 L725.42,871.62 L725.92,871.28 L726.42,870.94 L726.92,870.60 L727.42,870.26 L727.92,869.93 L728.42,869.59 L728.92,869.25 L729.42,868.91 L729.92,868.57 L730.42,868.23 L730.92,867.89 L731.42,867.56 L731.92,867.22 L732.43,866.88 L732.93,866.54 L733.43,866.20 L733.93,865.86 L734.43,865.52 L734.93,865.19 L735.43,864.85 L735.93,864.51 L736.43,864.17 L736.93,863.83 L737.43,863.49 L737.93,863.16 L738.43,862.82 L738.93,862.48 L739.43,862.14 L739.93,861.81 L740.43,861.47 L740.94,861.13 L741.44,860.80 L741.94,860.46 L742.44,860.12 L742.94,859.79 L743.44,859.45 L743.94,859.12 L744.44,858.78 L744.94,858.44 L745.44,858.11 L745.94,857.77 L746.44,857.44 L746.94,857.11 L747.44,856.77 L747.94,856.44 L748.44,856.10 L748.94,855.77 L749.44,855.44 L749.95,855.11 L750.45,854.77 L750.95,854.44 L751.45,854.11 L751.95,853.78 L752.45,853.45 L752.95,853.12 L753.45,852.79 L753.95,852.46 L754.45,852.13 L754.95,851.80 L755.45,851.47 L755.95,851.14 L756.45,850.81 L756.95,850.48 L757.45,850.16 L757.95,849.83 L758.46,849.50 L758.96,849.18 L759.46,848.85 L759.96,848.53 L760.46,848.20 L760.96,847.88 L761.46,847.55 L761.96,847.23 L762.46,846.91 L762.96,846.59 L763.46,846.26 L763.96,845.94 L764.46,845.62 L764.96,845.30 L765.46,844.98 L765.96,844.66 L766.46,844.34 L766.96,844.03 L767.47,843.71 L767.97,843.39 L768.47,843.08 L768.97,842.76 L769.47,842.45 L769.97,842.13 L770.47,841.82 L770.97,841.50 L771.47,841.19 L771.97,840.88 L772.47,840.57 L772.97,840.26 L773.47,839.95 L773.97,839.64 L774.47,839.34 L774.97,839.03 L775.47,838.73 L775.98,838.42 L776.48,838.12 L776.98,837.82 L777.48,837.52 L777.98,837.22 L778.48,836.93 L778.98,836.63 L779.48,836.34 L779.98,836.05 L780.48,835.76 L780.98,835.47 L781.48,835.19 L781.98,834.91 L782.48,834.63 L782.98,834.35 L783.48,834.07 L783.98,833.80 L784.48,833.52 L784.99,833.26 L785.49,832.99 L785.99,832.72 L786.49,832.46 L786.99,832.20 L787.49,831.95 L787.99,831.69 L788.49,831.44 L788.99,831.19 L789.49,830.95 L789.99,830.71 L790.49,830.47 L790.99,830.23 L791.49,830.00 L791.99,829.77 L792.49,829.55 L792.99,829.32 L793.50,829.11 L794.00,828.89 L794.50,828.68 L795.00,828.47 L795.50,828.27 L796.00,828.07 L796.50,827.87 L797.00,827.68 L797.50,827.49 L798.00,827.30 L798.50,827.12 L799.00,826.95 L799.50,826.77 L800.00,826.61 L800.50,826.44 L801.00,826.28 L801.50,826.13 L802.00,825.98 L802.51,825.83 L803.01,825.69 L803.51,825.56 L804.01,825.43 L804.51,825.30 L805.01,825.18 L805.51,825.06 L806.01,824.95 L806.51,824.85 L807.01,824.74 L807.51,824.65 L808.01,824.56 L808.51,824.47 L809.01,824.39 L809.51,824.32 L810.01,824.25 L810.51,824.19 L811.02,824.13 L811.52,824.08 L812.02,824.03 L812.52,823.99 L813.02,823.96 L813.52,823.93 L814.02,823.91 L814.52,823.89 L815.02,823.88 L815.52,823.88 L816.02,823.88 L816.52,823.89 L817.02,823.91 L817.52,823.93 L818.02,823.96 L818.52,823.99 L819.02,824.03 L819.52,824.08 L820.03,824.13 L820.53,824.19 L821.03,824.25 L821.53,824.32 L822.03,824.40 L822.53,824.48 L823.03,824.57 L823.53,824.66 L824.03,824.76 L824.53,824.87 L825.03,824.98 L825.53,825.10 L826.03,825.22 L826.53,825.35 L827.03,825.48 L827.53,825.62 L828.03,825.77 L828.54,825.92 L829.04,826.08 L829.54,826.24 L830.04,826.40 L830.54,826.58 L831.04,826.75 L831.54,826.94 L832.04,827.13 L832.54,827.32 L833.04,827.52 L833.54,827.72 L834.04,827.93 L834.54,828.15 L835.04,828.37 L835.54,828.59 L836.04,828.82 L836.54,829.06 L837.04,829.30 L837.55,829.54 L838.05,829.79 L838.55,830.05 L839.05,830.31 L839.55,830.57 L840.05,830.84 L840.55,831.12 L841.05,831.39 L841.55,831.68 L842.05,831.97 L842.55,832.26 L843.05,832.56 L843.55,832.86 L844.05,833.17 L844.55,833.48 L845.05,833.79 L845.55,834.11 L846.06,834.44 L846.56,834.77 L847.06,835.10 L847.56,835.44 L848.06,835.78 L848.56,836.13 L849.06,836.48 L849.56,836.83 L850.06,837.19 L850.56,837.55 L851.06,837.92 L851.56,838.29 L852.06,838.67 L852.56,839.05 L853.06,839.43 L853.56,839.82 L854.06,840.22 L854.56,840.61 L855.07,841.01 L855.57,841.42 L856.07,841.83 L856.57,842.24 L857.07,842.66 L857.57,843.08 L858.07,843.51 L858.57,843.94 L859.07,844.37 L859.57,844.81 L860.07,845.25 L860.57,845.69 L861.07,846.14 L861.57,846.60 L862.07,847.05 L862.57,847.52 L863.07,847.98 L863.58,848.45 L864.08,848.92 L864.58,849.40 L865.08,849.88 L865.58,850.36 L866.08,850.85 L866.58,851.34 L867.08,851.84 L867.58,852.34 L868.08,852.84 L868.58,853.35 L869.08,853.86 L869.58,854.38 L870.08,854.89 L870.58,855.42 L871.08,855.94 L871.58,856.47 L872.08,857.00 L872.59,857.54 L873.09,858.08 L873.59,858.62 L874.09,859.17 L874.59,859.72 L875.09,860.28 L875.59,860.83 L876.09,861.40 L876.59,861.96 L877.09,862.53 L877.59,863.10 L878.09,863.68 L878.59,864.25 L879.09,864.84 L879.59,865.42 L880.09,866.01 L880.59,866.60 L881.10,867.20 L881.60,867.80 L882.10,868.40 L882.60,869.01 L883.10,869.62 L883.60,870.23 L884.10,870.84 L884.60,871.46 L885.10,872.09 L885.60,872.71 L886.10,873.34 L886.60,873.97 L887.10,874.61 L887.60,875.25 L888.10,875.89 L888.60,876.53 L889.10,877.18 L889.61,877.83 L890.11,878.49 L890.61,879.14 L891.11,879.80 L891.61,880.47 L892.11,881.13 L892.61,881.80 L893.11,882.48 L893.61,883.15 L894.11,883.83 L894.61,884.51 L895.11,885.20 L895.61,885.88 L896.11,886.57 L896.61,887.27 L897.11,887.96 L897.61,888.66 L898.11,889.36 L898.62,890.07 L899.12,890.78 L899.62,891.49 L900.12,892.20 L900.62,892.92 L901.12,893.64 L901.62,894.36 L902.12,895.08 L902.62,895.81 L903.12,896.54 L903.62,897.27 L904.12,898.01 L904.62,898.75 L905.12,899.49 L905.62,900.23 L906.12,900.98 L906.62,901.73 L907.13,902.48 L907.63,903.23 L908.13,903.99 L908.63,904.75 L909.13,905.51 L909.63,906.27 L910.13,907.04 L910.63,907.81 L911.13,908.58 L911.63,909.36 L912.13,910.13 L912.63,910.91 L913.13,911.70 L913.63,912.48 L914.13,913.27 L914.63,914.06 L915.13,914.85 L915.63,915.64 L916.14,916.44 L916.64,917.24 L917.14,918.04 L917.64,918.84 L918.14,919.65 L918.64,920.45 L919.14,921.26 L919.64,922.08 L920.14,922.89 L920.64,923.71 L921.14,924.53 L921.64,925.35 L922.14,926.17 L922.64,927.00 L923.14,927.83 L923.64,928.66 L924.14,929.49 L924.65,930.32 L925.15,931.16 L925.65,932.00 L926.15,932.84 L926.65,933.68 L927.15,934.53 L927.65,935.38 L928.15,936.23 L928.65,937.08 L929.15,937.93 L929.65,938.79 L930.15,939.65 L930.65,940.52 L931.15,941.38 L931.65,942.25 L932.15,943.13 L932.65,944.00 L933.15,944.88 L933.66,945.76 L934.16,946.65 L934.66,947.54 L935.16,948.43 L935.66,949.33 L936.16,950.23 L936.66,951.13 L937.16,952.04 L937.66,952.95 L938.16,953.86 L938.66,954.78 L939.16,955.70 L939.66,956.63 L940.16,957.56 L940.66,958.49 L941.16,959.43 L941.66,960.38 L942.17,961.33 L942.67,962.28 L943.17,963.24 L943.67,964.20 L944.17,965.16 L944.67,966.14 L945.17,967.11 L945.67,968.09 L946.17,969.08 L946.67,970.07 L947.17,971.07 L947.67,972.07 L948.17,973.08 L948.67,974.09 L949.17,975.11 L949.67,976.13 L950.17,977.16 L950.67,978.19 L951.18,979.23 L951.68,980.28 L952.18,981.33 L952.68,982.39 L953.18,983.45 L953.68,984.52 L954.18,985.60 L954.68,986.68 L955.18,987.77 L955.68,988.86 L956.18,989.96 L956.68,991.07 L957.18,992.18 L957.68,993.30 L958.18,994.43 L958.68,995.56 L959.18,996.70 L959.69,997.85 L960.19,999.01 L960.69,1000.17 L961.19,1001.34 L961.69,1002.51 L962.19,1003.70 L962.69,1004.89 L963.19,1006.08 L963.69,1007.29 L964.19,1008.50 L964.69,1009.72 L965.19,1010.95 L965.69,1012.18 L966.19,1013.43 L966.69,1014.68 L967.19,1015.94 L967.69,1017.21 L968.19,1018.48 L968.70,1019.76 L969.20,1021.06 L969.70,1022.36 L970.20,1023.66 L970.70,1024.98 L971.20,1026.31 L971.70,1027.64 L972.20,1028.98 L972.70,1030.33 L972.86,1031.02 L973.02,1031.69 L973.18,1032.35 L973.34,1033.01 L973.49,1033.65 L973.65,1034.28 L973.81,1034.90 L973.97,1035.51 L974.13,1036.11 L974.29,1036.69 L974.45,1037.27 L974.61,1037.83 L974.76,1038.38 L974.92,1038.91 L975.08,1039.43 L975.24,1039.94 L975.40,1040.44 L975.56,1040.92 L975.72,1041.38 L975.88,1041.83 L976.03,1042.27 L976.19,1042.69 L976.35,1043.09 L976.51,1043.48 L976.67,1043.86 L976.83,1044.21 L976.99,1044.55 L977.15,1044.88 L977.31,1045.18 L977.46,1045.47 L977.62,1045.74 L977.78,1045.99 L977.94,1046.23 L978.10,1046.44 L978.26,1046.64 L978.42,1046.81 L978.58,1046.97 L978.73,1047.11 L978.89,1047.22 L979.05,1047.32 L979.21,1047.40 L979.37,1047.45 L979.53,1047.49 L979.69,1047.50 L979.85,1047.50 L980.00,1047.49 L980.16,1047.48 L980.32,1047.47 L980.48,1047.46 L980.64,1047.44 L980.80,1047.41 L980.96,1047.39 L981.12,1047.36 L981.27,1047.33 L981.43,1047.29 L981.59,1047.26 L981.75,1047.22 L981.91,1047.18 L982.07,1047.13 L982.23,1047.09 L982.39,1047.04 L982.55,1046.98 L982.70,1046.90 L982.86,1046.79 L983.02,1046.64 L983.18,1046.46 L983.34,1046.26 L983.50,1046.04 L983.66,1045.79 L983.82,1045.53 L983.97,1045.25 L984.13,1044.96 L984.29,1044.66 L984.45,1044.36 L984.61,1044.05 L984.77,1043.74 L984.93,1043.44 L985.09,1043.14 L985.24,1042.84 L985.40,1042.53 L985.56,1042.22 L985.72,1041.90 L985.88,1041.58 L986.04,1041.25 L986.20,1040.91 L986.36,1040.56 L986.52,1040.21 L986.67,1039.84 L986.83,1039.46 L986.99,1039.07 L987.15,1038.66 L987.31,1038.24 L987.47,1037.81 L987.63,1037.36 L987.79,1036.89 L987.94,1036.40 L988.10,1035.90 L988.26,1035.38 L988.42,1034.84 L988.58,1034.27 L988.74,1033.69 L988.90,1033.08 L989.06,1032.45 L989.21,1031.80 L989.37,1031.12 L989.53,1030.37 L989.69,1029.49 L989.85,1028.48 L990.01,1027.36 L990.17,1026.14 L990.33,1024.83 L990.48,1023.45 L990.64,1022.01 L990.80,1020.52 L990.96,1018.99 L991.12,1017.44 L991.28,1015.88 L991.44,1014.32 L991.60,1012.78 L991.76,1011.26 L991.91,1009.78 L992.07,1008.35 L992.23,1006.93 L992.39,1005.53 L992.55,1004.12 L992.71,1002.70 L992.87,1001.27 L993.03,999.82 L993.18,998.33 L993.34,996.81 L993.50,995.25 L993.66,993.64 L993.82,991.97 L993.98,990.24 L994.14,988.44 L994.30,986.58 L994.45,984.65 L994.61,982.65 L994.77,980.58 L994.93,978.42 L995.09,976.19 L995.25,973.86 L995.41,971.45 L995.57,968.93 L995.73,966.24 L995.88,963.38 L996.04,960.38 L996.20,957.26 L996.36,954.03 L996.52,950.73 L996.68,947.38 L996.84,943.99 L997.00,940.59 L997.15,937.21 L997.31,933.86 L997.47,930.57 L997.63,927.31 L997.79,923.96 L997.95,920.55 L998.11,917.10 L998.27,913.61 L998.42,910.11 L998.58,906.61 L998.74,903.12 L998.90,899.67 L999.06,896.27 L999.22,892.93 L999.38,889.67 L999.54,886.51 L999.69,883.47 L999.85,880.55 L1000.01,877.79 L1000.17,875.19 L1000.33,872.76 L1000.49,870.46 L1000.65,868.27 L1000.81,866.17 L1000.97,864.13 L1001.12,862.11 L1001.28,860.10 L1001.44,858.07 L1001.60,855.99 L1001.76,853.83 L1001.92,851.58 L1002.08,849.19 L1002.24,846.65 L1002.39,843.92 L1002.55,841.01 L1002.71,838.07 L1002.87,835.07 L1003.03,831.88 L1003.19,828.40 L1003.35,824.49 L1003.51,820.05 L1003.66,814.95 L1003.82,809.03 L1003.98,800.25 L1004.14,788.69 L1004.30,776.00" fill="none" stroke="#F2460D" stroke-width="7.2" stroke-linecap="butt" stroke-linejoin="round"/>
<path d="M622.80,771.42 L623.31,771.72 L623.83,772.02 L624.34,772.32 L624.85,772.62 L625.37,772.92 L625.88,773.22 L626.39,773.52 L626.91,773.82 L627.42,774.12 L627.93,774.42 L628.44,774.73 L628.96,775.03 L629.47,775.34 L629.98,775.64 L630.50,775.95 L631.01,776.26 L631.52,776.56 L632.04,776.87 L632.55,777.18 L633.06,777.49 L633.58,777.80 L634.09,778.12 L634.60,778.43 L635.12,778.74 L635.63,779.06 L636.14,779.37 L636.66,779.69 L637.17,780.01 L637.68,780.33 L638.19,780.65 L638.71,780.97 L639.22,781.29 L639.73,781.61 L640.25,781.93 L640.76,782.26 L641.27,782.58 L641.79,782.91 L642.30,783.24 L642.81,783.57 L643.33,783.90 L643.84,784.23 L644.35,784.56 L644.87,784.89 L645.38,785.23 L645.89,785.56 L646.41,785.90 L646.92,786.24 L647.43,786.58 L647.94,786.92 L648.46,787.26 L648.97,787.60 L649.48,787.94 L650.00,788.29 L650.51,788.64 L651.02,788.98 L651.54,789.33 L652.05,789.68 L652.56,790.04 L653.08,790.39 L653.59,790.74 L654.10,791.10 L654.62,791.46 L655.13,791.81 L655.64,792.17 L656.16,792.54 L656.67,792.90 L657.18,793.26 L657.69,793.63 L658.21,794.00 L658.72,794.36 L659.23,794.73 L659.75,795.11 L660.26,795.48 L660.77,795.85 L661.29,796.23 L661.80,796.61 L662.31,796.99 L662.83,797.37 L663.34,797.75 L663.85,798.14 L664.37,798.52 L664.88,798.91 L665.39,799.30 L665.91,799.69 L666.42,800.08 L666.93,800.48 L667.45,800.87 L667.96,801.27 L668.47,801.67 L668.98,802.07 L669.50,802.48 L670.01,802.88 L670.52,803.29 L671.04,803.70 L671.55,804.11 L672.06,804.52 L672.58,804.93 L673.09,805.35 L673.60,805.76 L674.12,806.18 L674.63,806.61 L675.14,807.03 L675.66,807.45 L676.17,807.88 L676.68,808.31 L677.20,808.74 L677.71,809.18 L678.22,809.61 L678.73,810.05 L679.25,810.49 L679.76,810.93 L680.27,811.37 L680.79,811.82 L681.30,812.26 L681.81,812.71 L682.33,813.16 L682.84,813.62 L683.35,814.07 L683.87,814.53 L684.38,814.99 L684.89,815.45 L685.41,815.92 L685.92,816.38 L686.43,816.85 L686.95,817.32 L687.46,817.80 L687.97,818.27 L688.48,818.75 L689.00,819.23 L689.51,819.71 L690.02,820.20 L690.54,820.68 L691.05,821.17 L691.56,821.67 L692.08,822.16 L692.59,822.66 L693.10,823.15 L693.62,823.65 L694.13,824.16 L694.64,824.66 L695.16,825.17 L695.67,825.68 L696.18,826.20 L696.70,826.71 L697.21,827.23 L697.72,827.75 L698.23,828.27 L698.75,828.80 L699.26,829.33 L699.77,829.86 L700.29,830.39 L700.80,830.93 L701.31,831.47 L701.83,832.01 L702.34,832.55 L702.85,833.10 L703.37,833.65 L703.88,834.20 L704.39,834.75 L704.91,835.31 L705.42,835.87 L705.93,836.43 L706.45,836.99 L706.96,837.56 L707.47,838.13 L707.98,838.71 L708.50,839.28 L709.01,839.86 L709.52,840.44 L710.04,841.03 L710.55,841.61 L711.06,842.20 L711.58,842.80 L712.09,843.39 L712.60,843.99 L713.12,844.59 L713.63,845.20 L714.14,845.81 L714.66,846.42 L715.17,847.03 L715.68,847.64 L716.20,848.26 L716.71,848.89 L717.22,849.51 L717.73,850.14 L718.25,850.77 L718.76,851.40 L719.27,852.04 L719.79,852.68 L720.30,853.33 L720.81,853.97 L721.33,854.62 L721.84,855.27 L722.35,855.93 L722.87,856.59 L723.38,857.25 L723.89,857.92 L724.41,858.59 L724.92,859.26 L725.43,859.93 L725.95,860.61 L726.46,861.29 L726.97,861.98 L727.48,862.66 L728.00,863.36 L728.51,864.05 L729.02,864.75 L729.54,865.45 L730.05,866.15 L730.56,866.86 L731.08,867.57 L731.59,868.29 L732.10,869.00 L732.62,869.73 L733.13,870.45 L733.64,871.18 L734.16,871.91 L734.67,872.64 L735.18,873.38 L735.70,874.12 L736.21,874.86 L736.72,875.61 L737.24,876.36 L737.75,877.11 L738.26,877.86 L738.77,878.62 L739.29,879.38 L739.80,880.14 L740.31,880.91 L740.83,881.67 L741.34,882.44 L741.85,883.22 L742.37,883.99 L742.88,884.77 L743.39,885.55 L743.91,886.33 L744.42,887.11 L744.93,887.89 L745.45,888.68 L745.96,889.47 L746.47,890.26 L746.99,891.06 L747.50,891.85 L748.01,892.65 L748.52,893.44 L749.04,894.24 L749.55,895.05 L750.06,895.85 L750.58,896.65 L751.09,897.46 L751.60,898.27 L752.12,899.08 L752.63,899.89 L753.14,900.70 L753.66,901.51 L754.17,902.32 L754.68,903.14 L755.20,903.95 L755.71,904.77 L756.22,905.59 L756.74,906.40 L757.25,907.22 L757.76,908.04 L758.27,908.86 L758.79,909.69 L759.30,910.51 L759.81,911.33 L760.33,912.15 L760.84,912.98 L761.35,913.80 L761.87,914.62 L762.38,915.45 L762.89,916.27 L763.41,917.10 L763.92,917.92 L764.43,918.75 L764.95,919.57 L765.46,920.40 L765.97,921.22 L766.49,922.04 L767.00,922.87 L767.51,923.69 L768.02,924.52 L768.54,925.34 L769.05,926.16 L769.56,926.99 L770.08,927.81 L770.59,928.63 L771.10,929.45 L771.62,930.27 L772.13,931.09 L772.64,931.91 L773.16,932.73 L773.67,933.54 L774.18,934.36 L774.70,935.17 L775.21,935.99 L775.72,936.80 L776.24,937.61 L776.75,938.42 L777.26,939.23 L777.77,940.04 L778.29,940.85 L778.80,941.65 L779.31,942.46 L779.83,943.26 L780.34,944.06 L780.85,944.86 L781.37,945.66 L781.88,946.45 L782.39,947.25 L782.91,948.04 L783.42,948.83 L783.93,949.62 L784.45,950.40 L784.96,951.19 L785.47,951.97 L785.99,952.75 L786.50,953.53 L787.01,954.30 L787.52,955.08 L788.04,955.85 L788.55,956.62 L789.06,957.38 L789.58,958.15 L790.09,958.91 L790.60,959.67 L791.12,960.42 L791.63,961.17 L792.14,961.92 L792.66,962.67 L793.17,963.42 L793.68,964.16 L794.20,964.90 L794.71,965.63 L795.22,966.36 L795.74,967.09 L796.25,967.82 L796.76,968.54 L797.27,969.26 L797.79,969.98 L798.30,970.69 L798.81,971.40 L799.33,972.11 L799.84,972.81 L800.35,973.51 L800.87,974.20 L801.38,974.89 L801.89,975.58 L802.41,976.27 L802.92,976.95 L803.43,977.62 L803.95,978.29 L804.46,978.96 L804.97,979.63 L805.49,980.28 L806.00,980.94 L806.51,981.59 L807.03,982.24 L807.54,982.88 L808.05,983.52 L808.56,984.15 L809.08,984.78 L809.59,985.41 L810.10,986.03 L810.62,986.64 L811.13,987.25 L811.64,987.86 L812.16,988.46 L812.67,989.06 L813.18,989.65 L813.70,990.23 L814.21,990.81 L814.72,991.39 L815.24,991.96 L815.75,992.53 L816.26,993.09 L816.78,993.64 L817.29,994.19 L817.80,994.74 L818.31,995.28 L818.83,995.81 L819.34,996.34 L819.85,996.86 L820.37,997.38 L820.88,997.89 L821.39,998.39 L821.91,998.89 L822.42,999.39 L822.93,999.87 L823.45,1000.36 L823.96,1000.83 L824.47,1001.30 L824.99,1001.77 L825.50,1002.22 L826.01,1002.68 L826.53,1003.12 L827.04,1003.56 L827.55,1004.00 L828.06,1004.42 L828.58,1004.85 L829.09,1005.26 L829.60,1005.67 L830.12,1006.07 L830.63,1006.47 L831.14,1006.86 L831.66,1007.24 L832.17,1007.62 L832.68,1007.99 L833.20,1008.36 L833.71,1008.72 L834.22,1009.07 L834.74,1009.41 L835.25,1009.75 L835.76,1010.08 L836.28,1010.41 L836.79,1010.73 L837.30,1011.04 L837.81,1011.34 L838.33,1011.64 L838.84,1011.93 L839.35,1012.21 L839.87,1012.49 L840.38,1012.76 L840.89,1013.03 L841.41,1013.28 L841.92,1013.53 L842.43,1013.77 L842.95,1014.01 L843.46,1014.24 L843.97,1014.46 L844.49,1014.67 L845.00,1014.88 L845.51,1015.08 L846.03,1015.27 L846.54,1015.45 L847.05,1015.63 L847.56,1015.80 L848.08,1015.96 L848.59,1016.11 L849.10,1016.26 L849.62,1016.40 L850.13,1016.53 L850.64,1016.66 L851.16,1016.77 L851.67,1016.88 L852.18,1016.98 L852.70,1017.08 L853.21,1017.16 L853.72,1017.24 L854.24,1017.31 L854.75,1017.37 L855.26,1017.43 L855.78,1017.47 L856.29,1017.51 L856.80,1017.54 L857.31,1017.57 L857.83,1017.58 L858.34,1017.59 L858.85,1017.58 L859.37,1017.57 L859.88,1017.55 L860.39,1017.53 L860.91,1017.49 L861.42,1017.45 L861.93,1017.40 L862.45,1017.34 L862.96,1017.27 L863.47,1017.19 L863.99,1017.11 L864.50,1017.01 L865.01,1016.91 L865.53,1016.80 L866.04,1016.68 L866.55,1016.55 L867.06,1016.42 L867.58,1016.27 L868.09,1016.12 L868.60,1015.95 L869.12,1015.78 L869.63,1015.60 L870.14,1015.41 L870.66,1015.21 L871.17,1015.00 L871.68,1014.79 L872.20,1014.56 L872.71,1014.33 L873.22,1014.08 L873.74,1013.83 L874.25,1013.57 L874.76,1013.30 L875.28,1013.02 L875.79,1012.73 L876.30,1012.43 L876.82,1012.12 L877.33,1011.80 L877.84,1011.48 L878.35,1011.14 L878.87,1010.80 L879.38,1010.44 L879.89,1010.08 L880.41,1009.70 L880.92,1009.32 L881.43,1008.93 L881.95,1008.53 L882.46,1008.12 L882.97,1007.70 L883.49,1007.28 L884.00,1006.85 L884.51,1006.41 L885.03,1005.96 L885.54,1005.51 L886.05,1005.05 L886.57,1004.58 L887.08,1004.11 L887.59,1003.63 L888.10,1003.14 L888.62,1002.65 L889.13,1002.15 L889.64,1001.65 L890.16,1001.14 L890.67,1000.63 L891.18,1000.11 L891.70,999.59 L892.21,999.06 L892.72,998.53 L893.24,998.00 L893.75,997.46 L894.26,996.92 L894.78,996.37 L895.29,995.82 L895.80,995.27 L896.32,994.72 L896.83,994.16 L897.34,993.61 L897.85,993.05 L898.37,992.49 L898.88,991.92 L899.39,991.36 L899.91,990.79 L900.42,990.22 L900.93,989.66 L901.45,989.09 L901.96,988.52 L902.47,987.95 L902.99,987.38 L903.50,986.82 L904.01,986.25 L904.53,985.68 L905.04,985.12 L905.55,984.55 L906.07,983.99 L906.58,983.43 L907.09,982.87 L907.60,982.31 L908.12,981.75 L908.63,981.20 L909.14,980.65 L909.66,980.10 L910.17,979.56 L910.68,979.02 L911.20,978.48 L911.71,977.94 L912.22,977.41 L912.74,976.89 L913.25,976.36 L913.76,975.85 L914.28,975.33 L914.79,974.83 L915.30,974.32 L915.82,973.83 L916.33,973.34 L916.84,972.85 L917.35,972.37 L917.87,971.90 L918.38,971.43 L918.89,970.97 L919.41,970.52 L919.92,970.07 L920.43,969.63 L920.95,969.20 L921.46,968.77 L921.97,968.36 L922.49,967.95 L923.00,967.55 L923.51,967.16 L924.03,966.78 L924.54,966.40 L925.05,966.04 L925.57,965.68 L926.08,965.34 L926.59,965.00 L927.10,964.68 L927.62,964.36 L928.13,964.06 L928.64,963.76 L929.16,963.48 L929.67,963.21 L930.18,962.95 L930.70,962.70 L931.21,962.46 L931.72,962.23 L932.24,962.02 L932.75,961.82 L933.26,961.63 L933.78,961.45 L934.29,961.29 L934.80,961.14 L935.32,961.00 L935.83,960.88 L936.34,960.77 L936.85,960.67 L937.37,960.59 L937.88,960.52 L938.39,960.46 L938.91,960.42 L939.42,960.39 L939.93,960.37 L940.45,960.37 L940.96,960.38 L941.47,960.40 L941.99,960.43 L942.50,960.48 L943.01,960.54 L943.53,960.61 L944.04,960.70 L944.55,960.79 L945.07,960.90 L945.58,961.03 L946.09,961.16 L946.61,961.31 L947.12,961.47 L947.63,961.64 L948.14,961.83 L948.66,962.03 L949.17,962.23 L949.68,962.46 L950.20,962.69 L950.71,962.93 L951.22,963.19 L951.74,963.46 L952.25,963.74 L952.76,964.04 L953.28,964.34 L953.79,964.66 L954.30,964.98 L954.82,965.32 L955.33,965.68 L955.84,966.04 L956.36,966.41 L956.87,966.80 L957.38,967.20 L957.89,967.61 L958.41,968.03 L958.92,968.46 L959.43,968.90 L959.95,969.35 L960.46,969.82 L960.97,970.29 L961.49,970.78 L962.00,971.28 L962.51,971.79 L963.03,972.31 L963.54,972.84 L964.05,973.37 L964.57,973.92 L965.08,974.48 L965.59,975.05 L966.11,975.62 L966.62,976.20 L967.13,976.79 L967.64,977.39 L968.16,977.99 L968.67,978.60 L969.18,979.22 L969.70,979.84 L970.21,980.47 L970.72,981.10 L971.24,981.73 L971.75,982.37 L972.26,983.01 L972.78,983.66 L973.29,984.31 L973.80,984.96 L974.32,985.61 L974.83,986.27 L975.34,986.92 L975.86,987.58 L976.37,988.23 L976.88,988.89 L977.39,989.55 L977.91,990.20 L978.42,990.85 L978.93,991.51 L979.45,992.16 L979.96,992.81 L980.47,993.45 L980.99,994.09 L981.50,994.73 L981.62,994.58 L981.74,994.43 L981.86,994.29 L981.98,994.15 L982.10,994.01 L982.21,993.88 L982.33,993.75 L982.45,993.63 L982.57,993.51 L982.69,993.39 L982.81,993.27 L982.93,993.16 L983.05,993.05 L983.17,992.95 L983.29,992.85 L983.41,992.75 L983.52,992.66 L983.64,992.57 L983.76,992.48 L983.88,992.39 L984.00,992.31 L984.12,992.23 L984.24,992.16 L984.36,992.08 L984.48,992.01 L984.60,991.95 L984.72,991.88 L984.83,991.82 L984.95,991.76 L985.07,991.70 L985.19,991.65 L985.31,991.60 L985.43,991.55 L985.55,991.50 L985.67,991.46 L985.79,991.42 L985.91,991.38 L986.03,991.34 L986.14,991.31 L986.26,991.27 L986.38,991.24 L986.50,991.21 L986.62,991.19 L986.74,991.16 L986.86,991.14 L986.98,991.12 L987.10,991.10 L987.22,991.08 L987.34,991.07 L987.45,991.05 L987.57,991.04 L987.69,991.03 L987.81,991.02 L987.93,991.02 L988.05,991.01 L988.17,991.01 L988.29,991.00 L988.41,991.00 L988.53,991.00 L988.65,991.01 L988.76,991.02 L988.88,991.04 L989.00,991.06 L989.12,991.09 L989.24,991.13 L989.36,991.17 L989.48,991.22 L989.60,991.27 L989.72,991.33 L989.84,991.40 L989.96,991.47 L990.07,991.54 L990.19,991.62 L990.31,991.71 L990.43,991.80 L990.55,991.89 L990.67,991.99 L990.79,992.09 L990.91,992.20 L991.03,992.31 L991.15,992.42 L991.27,992.54 L991.38,992.65 L991.50,992.78 L991.62,992.90 L991.74,993.03 L991.86,993.16 L991.98,993.29 L992.10,993.43 L992.22,993.57 L992.34,993.71 L992.46,993.85 L992.58,993.99 L992.69,994.14 L992.81,994.28 L992.93,994.43 L993.05,994.58 L993.17,994.73 L993.29,994.88 L993.41,995.03 L993.53,995.18 L993.65,995.33 L993.77,995.48 L993.89,995.63 L994.01,995.78 L994.12,995.93 L994.24,996.08 L994.36,996.22 L994.48,996.37 L994.60,996.52 L994.72,996.66 L994.84,996.81 L994.96,996.95 L995.08,997.09 L995.20,997.23 L995.32,997.37 L995.43,997.51 L995.55,997.65 L995.67,997.79 L995.79,997.93 L995.91,998.07 L996.03,998.21 L996.15,998.35 L996.27,998.50 L996.39,998.64 L996.51,998.79 L996.63,998.94 L996.74,999.08 L996.86,999.24 L996.98,999.39 L997.10,999.54 L997.22,999.70 L997.34,999.86 L997.46,1000.02 L997.58,1000.19 L997.70,1000.36 L997.82,1000.53 L997.94,1000.71 L998.05,1000.88 L998.17,1001.07 L998.29,1001.25 L998.41,1001.45 L998.53,1001.64 L998.65,1001.84 L998.77,1002.04 L998.89,1002.25 L999.01,1002.47 L999.13,1002.69 L999.25,1002.91 L999.36,1003.14 L999.48,1003.37 L999.60,1003.62 L999.72,1003.86 L999.84,1004.12 L999.96,1004.38 L1000.08,1004.64 L1000.20,1004.91 L1000.32,1005.19 L1000.44,1005.48 L1000.56,1005.77 L1000.67,1006.07 L1000.79,1006.38 L1000.91,1006.71 L1001.03,1007.07 L1001.15,1007.46 L1001.27,1007.87 L1001.39,1008.32 L1001.51,1008.79 L1001.63,1009.29 L1001.75,1009.82 L1001.87,1010.37 L1001.98,1010.95 L1002.10,1011.55 L1002.22,1012.18 L1002.34,1012.83 L1002.46,1013.49 L1002.58,1014.18 L1002.70,1014.89 L1002.82,1015.62 L1002.94,1016.37 L1003.06,1017.13 L1003.18,1017.91 L1003.29,1018.71 L1003.41,1019.52 L1003.53,1020.35 L1003.65,1021.19 L1003.77,1022.04 L1003.89,1022.91 L1004.01,1023.79 L1004.13,1024.67 L1004.25,1025.57 L1004.37,1026.48 L1004.49,1027.39 L1004.60,1028.31 L1004.72,1029.24 L1004.84,1030.17 L1004.96,1031.11 L1005.08,1032.05 L1005.20,1033.00" fill="none" stroke="#F2460D" stroke-width="7.2" stroke-dasharray="23 5.4" stroke-dashoffset="28.03" stroke-linecap="butt" stroke-linejoin="round"/>
<path d="M622.80,1041.40 L623.28,1041.38 L623.76,1041.36 L624.24,1041.34 L624.72,1041.32 L625.20,1041.30 L625.67,1041.28 L626.15,1041.26 L626.63,1041.24 L627.11,1041.23 L627.59,1041.21 L628.07,1041.19 L628.55,1041.17 L629.03,1041.15 L629.51,1041.13 L629.99,1041.11 L630.47,1041.09 L630.94,1041.08 L631.42,1041.06 L631.90,1041.04 L632.38,1041.02 L632.86,1041.00 L633.34,1040.99 L633.82,1040.97 L634.30,1040.95 L634.78,1040.93 L635.26,1040.92 L635.74,1040.90 L636.22,1040.88 L636.69,1040.86 L637.17,1040.84 L637.65,1040.83 L638.13,1040.81 L638.61,1040.79 L639.09,1040.77 L639.57,1040.75 L640.05,1040.74 L640.53,1040.72 L641.01,1040.70 L641.49,1040.68 L641.96,1040.66 L642.44,1040.64 L642.92,1040.63 L643.40,1040.61 L643.88,1040.59 L644.36,1040.57 L644.84,1040.55 L645.32,1040.53 L645.80,1040.51 L646.28,1040.49 L646.76,1040.47 L647.23,1040.45 L647.71,1040.43 L648.19,1040.41 L648.67,1040.39 L649.15,1040.37 L649.63,1040.35 L650.11,1040.33 L650.59,1040.31 L651.07,1040.28 L651.55,1040.26 L652.03,1040.24 L652.51,1040.22 L652.98,1040.20 L653.46,1040.17 L653.94,1040.15 L654.42,1040.13 L654.90,1040.10 L655.38,1040.08 L655.86,1040.05 L656.34,1040.03 L656.82,1040.00 L657.30,1039.98 L657.78,1039.95 L658.25,1039.93 L658.73,1039.90 L659.21,1039.87 L659.69,1039.84 L660.17,1039.82 L660.65,1039.79 L661.13,1039.76 L661.61,1039.73 L662.09,1039.70 L662.57,1039.67 L663.05,1039.64 L663.52,1039.61 L664.00,1039.58 L664.48,1039.55 L664.96,1039.52 L665.44,1039.48 L665.92,1039.45 L666.40,1039.42 L666.88,1039.38 L667.36,1039.35 L667.84,1039.32 L668.32,1039.28 L668.79,1039.24 L669.27,1039.21 L669.75,1039.17 L670.23,1039.13 L670.71,1039.09 L671.19,1039.06 L671.67,1039.02 L672.15,1038.98 L672.63,1038.94 L673.11,1038.90 L673.59,1038.85 L674.07,1038.81 L674.54,1038.77 L675.02,1038.73 L675.50,1038.68 L675.98,1038.64 L676.46,1038.59 L676.94,1038.55 L677.42,1038.50 L677.90,1038.45 L678.38,1038.40 L678.86,1038.36 L679.34,1038.31 L679.81,1038.26 L680.29,1038.21 L680.77,1038.15 L681.25,1038.10 L681.73,1038.05 L682.21,1037.99 L682.69,1037.94 L683.17,1037.89 L683.65,1037.83 L684.13,1037.77 L684.61,1037.72 L685.08,1037.66 L685.56,1037.60 L686.04,1037.54 L686.52,1037.48 L687.00,1037.42 L687.48,1037.35 L687.96,1037.29 L688.44,1037.23 L688.92,1037.16 L689.40,1037.10 L689.88,1037.03 L690.35,1036.96 L690.83,1036.89 L691.31,1036.82 L691.79,1036.75 L692.27,1036.68 L692.75,1036.61 L693.23,1036.54 L693.71,1036.47 L694.19,1036.39 L694.67,1036.32 L695.15,1036.24 L695.63,1036.16 L696.10,1036.08 L696.58,1036.00 L697.06,1035.92 L697.54,1035.84 L698.02,1035.76 L698.50,1035.68 L698.98,1035.59 L699.46,1035.51 L699.94,1035.42 L700.42,1035.33 L700.90,1035.25 L701.37,1035.16 L701.85,1035.07 L702.33,1034.97 L702.81,1034.88 L703.29,1034.79 L703.77,1034.69 L704.25,1034.60 L704.73,1034.50 L705.21,1034.40 L705.69,1034.30 L706.17,1034.20 L706.64,1034.10 L707.12,1034.00 L707.60,1033.90 L708.08,1033.79 L708.56,1033.68 L709.04,1033.58 L709.52,1033.47 L710.00,1033.36 L710.48,1033.25 L710.96,1033.14 L711.44,1033.02 L711.92,1032.91 L712.39,1032.79 L712.87,1032.68 L713.35,1032.56 L713.83,1032.44 L714.31,1032.32 L714.79,1032.20 L715.27,1032.08 L715.75,1031.95 L716.23,1031.83 L716.71,1031.70 L717.19,1031.57 L717.66,1031.44 L718.14,1031.31 L718.62,1031.18 L719.10,1031.05 L719.58,1030.91 L720.06,1030.77 L720.54,1030.64 L721.02,1030.50 L721.50,1030.36 L721.98,1030.22 L722.46,1030.07 L722.93,1029.93 L723.41,1029.78 L723.89,1029.64 L724.37,1029.49 L724.85,1029.34 L725.33,1029.19 L725.81,1029.03 L726.29,1028.88 L726.77,1028.72 L727.25,1028.57 L727.73,1028.41 L728.20,1028.25 L728.68,1028.09 L729.16,1027.92 L729.64,1027.76 L730.12,1027.59 L730.60,1027.43 L731.08,1027.26 L731.56,1027.09 L732.04,1026.91 L732.52,1026.74 L733.00,1026.57 L733.48,1026.39 L733.95,1026.21 L734.43,1026.03 L734.91,1025.85 L735.39,1025.67 L735.87,1025.48 L736.35,1025.30 L736.83,1025.11 L737.31,1024.92 L737.79,1024.73 L738.27,1024.54 L738.75,1024.34 L739.22,1024.14 L739.70,1023.95 L740.18,1023.75 L740.66,1023.55 L741.14,1023.34 L741.62,1023.14 L742.10,1022.93 L742.58,1022.73 L743.06,1022.52 L743.54,1022.31 L744.02,1022.09 L744.49,1021.88 L744.97,1021.66 L745.45,1021.44 L745.93,1021.22 L746.41,1021.00 L746.89,1020.78 L747.37,1020.55 L747.85,1020.33 L748.33,1020.10 L748.81,1019.87 L749.29,1019.64 L749.76,1019.40 L750.24,1019.17 L750.72,1018.93 L751.20,1018.69 L751.68,1018.45 L752.16,1018.20 L752.64,1017.96 L753.12,1017.71 L753.60,1017.46 L754.08,1017.21 L754.56,1016.96 L755.04,1016.70 L755.51,1016.45 L755.99,1016.19 L756.47,1015.93 L756.95,1015.67 L757.43,1015.40 L757.91,1015.14 L758.39,1014.87 L758.87,1014.60 L759.35,1014.33 L759.83,1014.05 L760.31,1013.78 L760.78,1013.50 L761.26,1013.22 L761.74,1012.94 L762.22,1012.65 L762.70,1012.37 L763.18,1012.08 L763.66,1011.79 L764.14,1011.49 L764.62,1011.20 L765.10,1010.90 L765.58,1010.61 L766.05,1010.31 L766.53,1010.00 L767.01,1009.70 L767.49,1009.39 L767.97,1009.08 L768.45,1008.77 L768.93,1008.46 L769.41,1008.14 L769.89,1007.83 L770.37,1007.51 L770.85,1007.19 L771.33,1006.86 L771.80,1006.54 L772.28,1006.21 L772.76,1005.88 L773.24,1005.55 L773.72,1005.21 L774.20,1004.87 L774.68,1004.53 L775.16,1004.19 L775.64,1003.85 L776.12,1003.50 L776.60,1003.16 L777.07,1002.81 L777.55,1002.46 L778.03,1002.10 L778.51,1001.75 L778.99,1001.39 L779.47,1001.03 L779.95,1000.67 L780.43,1000.31 L780.91,999.94 L781.39,999.58 L781.87,999.21 L782.34,998.84 L782.82,998.47 L783.30,998.10 L783.78,997.72 L784.26,997.35 L784.74,996.97 L785.22,996.59 L785.70,996.21 L786.18,995.83 L786.66,995.45 L787.14,995.06 L787.61,994.68 L788.09,994.29 L788.57,993.91 L789.05,993.52 L789.53,993.13 L790.01,992.74 L790.49,992.35 L790.97,991.96 L791.45,991.56 L791.93,991.17 L792.41,990.77 L792.89,990.38 L793.36,989.98 L793.84,989.59 L794.32,989.19 L794.80,988.79 L795.28,988.39 L795.76,987.99 L796.24,987.59 L796.72,987.19 L797.20,986.79 L797.68,986.39 L798.16,985.99 L798.63,985.59 L799.11,985.18 L799.59,984.78 L800.07,984.38 L800.55,983.98 L801.03,983.57 L801.51,983.17 L801.99,982.77 L802.47,982.36 L802.95,981.96 L803.43,981.56 L803.90,981.15 L804.38,980.75 L804.86,980.35 L805.34,979.94 L805.82,979.54 L806.30,979.14 L806.78,978.74 L807.26,978.34 L807.74,977.93 L808.22,977.53 L808.70,977.13 L809.17,976.73 L809.65,976.33 L810.13,975.93 L810.61,975.53 L811.09,975.13 L811.57,974.73 L812.05,974.33 L812.53,973.93 L813.01,973.53 L813.49,973.13 L813.97,972.73 L814.45,972.33 L814.92,971.93 L815.40,971.53 L815.88,971.14 L816.36,970.74 L816.84,970.34 L817.32,969.94 L817.80,969.54 L818.28,969.15 L818.76,968.75 L819.24,968.35 L819.72,967.96 L820.19,967.56 L820.67,967.16 L821.15,966.77 L821.63,966.37 L822.11,965.97 L822.59,965.58 L823.07,965.18 L823.55,964.78 L824.03,964.39 L824.51,963.99 L824.99,963.60 L825.46,963.20 L825.94,962.81 L826.42,962.41 L826.90,962.02 L827.38,961.62 L827.86,961.23 L828.34,960.83 L828.82,960.44 L829.30,960.05 L829.78,959.65 L830.26,959.26 L830.74,958.86 L831.21,958.47 L831.69,958.08 L832.17,957.68 L832.65,957.29 L833.13,956.90 L833.61,956.50 L834.09,956.11 L834.57,955.72 L835.05,955.32 L835.53,954.93 L836.01,954.54 L836.48,954.15 L836.96,953.75 L837.44,953.36 L837.92,952.97 L838.40,952.58 L838.88,952.18 L839.36,951.79 L839.84,951.40 L840.32,951.01 L840.80,950.61 L841.28,950.22 L841.75,949.83 L842.23,949.44 L842.71,949.05 L843.19,948.66 L843.67,948.26 L844.15,947.87 L844.63,947.48 L845.11,947.09 L845.59,946.70 L846.07,946.31 L846.55,945.92 L847.02,945.53 L847.50,945.14 L847.98,944.75 L848.46,944.36 L848.94,943.97 L849.42,943.59 L849.90,943.20 L850.38,942.81 L850.86,942.42 L851.34,942.04 L851.82,941.65 L852.30,941.27 L852.77,940.88 L853.25,940.50 L853.73,940.11 L854.21,939.73 L854.69,939.35 L855.17,938.97 L855.65,938.59 L856.13,938.20 L856.61,937.82 L857.09,937.45 L857.57,937.07 L858.04,936.69 L858.52,936.31 L859.00,935.93 L859.48,935.56 L859.96,935.18 L860.44,934.81 L860.92,934.44 L861.40,934.06 L861.88,933.69 L862.36,933.32 L862.84,932.95 L863.31,932.58 L863.79,932.21 L864.27,931.85 L864.75,931.48 L865.23,931.11 L865.71,930.75 L866.19,930.38 L866.67,930.02 L867.15,929.66 L867.63,929.29 L868.11,928.93 L868.58,928.57 L869.06,928.21 L869.54,927.85 L870.02,927.49 L870.50,927.13 L870.98,926.77 L871.46,926.42 L871.94,926.06 L872.42,925.70 L872.90,925.34 L873.38,924.99 L873.86,924.63 L874.33,924.28 L874.81,923.92 L875.29,923.56 L875.77,923.21 L876.25,922.85 L876.73,922.50 L877.21,922.15 L877.69,921.79 L878.17,921.44 L878.65,921.08 L879.13,920.73 L879.60,920.37 L880.08,920.02 L880.56,919.67 L881.04,919.31 L881.52,918.96 L882.00,918.60 L882.48,918.25 L882.96,917.90 L883.44,917.54 L883.92,917.19 L884.40,916.83 L884.87,916.48 L885.35,916.12 L885.83,915.76 L886.31,915.41 L886.79,915.05 L887.27,914.70 L887.75,914.34 L888.23,913.98 L888.71,913.62 L889.19,913.27 L889.67,912.91 L890.15,912.55 L890.62,912.19 L891.10,911.83 L891.58,911.47 L892.06,911.10 L892.54,910.74 L893.02,910.38 L893.50,910.02 L893.98,909.65 L894.46,909.29 L894.94,908.92 L895.42,908.56 L895.89,908.19 L896.37,907.82 L896.85,907.45 L897.33,907.08 L897.81,906.70 L898.29,906.32 L898.77,905.95 L899.25,905.57 L899.73,905.18 L900.21,904.80 L900.69,904.41 L901.16,904.02 L901.64,903.63 L902.12,903.23 L902.60,902.83 L903.08,902.43 L903.56,902.02 L904.04,901.61 L904.52,901.20 L905.00,900.78 L905.48,900.36 L905.96,899.93 L906.43,899.50 L906.91,899.07 L907.39,898.63 L907.87,898.18 L908.35,897.74 L908.83,897.28 L909.31,896.82 L909.79,896.36 L910.27,895.89 L910.75,895.41 L911.23,894.93 L911.71,894.44 L912.18,893.95 L912.66,893.45 L913.14,892.95 L913.62,892.43 L914.10,891.92 L914.58,891.39 L915.06,890.86 L915.54,890.32 L916.02,889.77 L916.50,889.22 L916.98,888.66 L917.45,888.09 L917.93,887.51 L918.41,886.93 L918.89,886.34 L919.37,885.74 L919.85,885.13 L920.33,884.51 L920.81,883.89 L921.29,883.25 L921.77,882.61 L922.25,881.96 L922.72,881.30 L923.20,880.63 L923.68,879.95 L924.16,879.26 L924.64,878.56 L925.12,877.85 L925.60,877.13 L926.08,876.40 L926.56,875.66 L927.04,874.91 L927.52,874.15 L927.99,873.38 L928.47,872.59 L928.95,871.80 L929.43,870.99 L929.91,870.18 L930.39,869.35 L930.87,868.51 L931.35,867.65 L931.83,866.79 L932.31,865.91 L932.79,865.02 L933.27,864.12 L933.74,863.20 L934.22,862.27 L934.70,861.33 L935.18,860.37 L935.66,859.40 L936.14,858.42 L936.62,857.42 L937.10,856.40 L937.58,855.38 L938.06,854.33 L938.54,853.28 L939.01,852.20 L939.49,851.12 L939.97,850.01 L940.45,848.89 L940.93,847.76 L941.41,846.61 L941.89,845.44 L942.37,844.26 L942.85,843.06 L943.33,841.84 L943.81,840.61 L944.28,839.36 L944.76,838.09 L945.24,836.81 L945.72,835.51 L946.20,834.19 L946.68,832.85 L947.16,831.49 L947.64,830.12 L948.12,828.73 L948.60,827.32 L949.08,825.89 L949.56,824.44 L950.03,822.97 L950.51,821.48 L950.99,819.97 L951.47,818.44 L951.95,816.90 L952.43,815.33 L952.91,813.74 L953.39,812.13 L953.87,810.51 L954.35,808.86 L954.83,807.19 L955.30,805.49 L955.78,803.78 L956.26,802.05 L956.74,800.29 L957.22,798.51 L957.70,796.71 L957.93,795.68 L958.17,794.63 L958.40,793.57 L958.64,792.48 L958.87,791.38 L959.11,790.26 L959.34,789.12 L959.57,787.96 L959.81,786.79 L960.04,785.60 L960.28,784.39 L960.51,783.17 L960.74,781.93 L960.98,780.67 L961.21,779.40 L961.45,778.11 L961.68,776.80 L961.92,775.48 L962.15,774.14 L962.38,772.73 L962.62,771.27 L962.85,769.77 L963.09,768.22 L963.32,766.63 L963.55,765.01 L963.79,763.36 L964.02,761.70 L964.26,760.03 L964.49,758.34 L964.73,756.66 L964.96,754.98 L965.19,753.32 L965.43,751.67 L965.66,750.04 L965.90,748.44 L966.13,746.88 L966.36,745.37 L966.60,743.89 L966.83,742.48 L967.07,741.12 L967.30,739.83 L967.54,738.59 L967.77,737.37 L968.00,736.15 L968.24,734.93 L968.47,733.72 L968.71,732.52 L968.94,731.32 L969.17,730.14 L969.41,728.96 L969.64,727.80 L969.88,726.65 L970.11,725.51 L970.35,724.39 L970.58,723.28 L970.81,722.19 L971.05,721.12 L971.28,720.07 L971.52,719.05 L971.75,718.04 L971.98,717.06 L972.22,716.10 L972.45,715.17 L972.69,714.26 L972.92,713.38 L973.16,712.53 L973.39,711.71 L973.62,710.93 L973.86,710.17 L974.09,709.45 L974.33,708.77 L974.56,708.12 L974.79,707.51 L975.03,706.93 L975.26,706.37 L975.50,705.81 L975.73,705.24 L975.97,704.68 L976.20,704.12 L976.43,703.56 L976.67,703.01 L976.90,702.47 L977.14,701.93 L977.37,701.41 L977.60,700.90 L977.84,700.40 L978.07,699.92 L978.31,699.45 L978.54,699.01 L978.78,698.58 L979.01,698.17 L979.24,697.79 L979.48,697.43 L979.71,697.10 L979.95,696.80 L980.18,696.53 L980.41,696.29 L980.65,696.08 L980.88,695.91 L981.12,695.77 L981.35,695.68 L981.59,695.62 L981.82,695.60 L982.05,695.63 L982.29,695.70 L982.52,695.81 L982.76,695.96 L982.99,696.16 L983.22,696.39 L983.46,696.66 L983.69,696.97 L983.93,697.31 L984.16,697.69 L984.40,698.09 L984.63,698.54 L984.86,699.01 L985.10,699.51 L985.33,700.03 L985.57,700.59 L985.80,701.17 L986.03,701.77 L986.27,702.40 L986.50,703.04 L986.74,703.71 L986.97,704.40 L987.21,705.10 L987.44,705.82 L987.67,706.56 L987.91,707.31 L988.14,708.08 L988.38,708.85 L988.61,709.64 L988.84,710.43 L989.08,711.24 L989.31,712.05 L989.55,712.92 L989.78,713.91 L990.02,715.00 L990.25,716.19 L990.48,717.48 L990.72,718.86 L990.95,720.34 L991.19,721.89 L991.42,723.53 L991.65,725.24 L991.89,727.03 L992.12,728.88 L992.36,730.80 L992.59,732.78 L992.83,734.81 L993.06,736.89 L993.29,739.02 L993.53,741.19 L993.76,743.40 L994.00,745.64 L994.23,747.91 L994.46,750.21 L994.70,752.53 L994.93,754.86 L995.17,757.21 L995.40,759.56 L995.64,761.92 L995.87,764.28 L996.10,766.64 L996.34,769.02 L996.57,771.45 L996.81,773.95 L997.04,776.53 L997.27,779.21 L997.51,782.00 L997.74,784.91 L997.98,787.97 L998.21,791.17 L998.45,794.55 L998.68,798.10 L998.91,801.89 L999.15,806.11 L999.38,810.75 L999.62,815.77 L999.85,821.10 L1000.08,826.69 L1000.32,832.49 L1000.55,838.44 L1000.79,844.49 L1001.02,850.59 L1001.26,856.67 L1001.49,862.69 L1001.72,868.60 L1001.96,874.33 L1002.19,879.83 L1002.43,885.17 L1002.66,890.49 L1002.89,895.78 L1003.13,901.04 L1003.36,906.28 L1003.60,911.49 L1003.83,916.68 L1004.07,921.85 L1004.30,927.00" fill="none" stroke="#7B68EE" stroke-width="7.2" stroke-linecap="butt" stroke-linejoin="round"/>
<path d="M622.80,1044.13 L623.29,1044.20 L623.79,1044.27 L624.28,1044.34 L624.78,1044.41 L625.27,1044.48 L625.77,1044.55 L626.26,1044.61 L626.75,1044.67 L627.25,1044.73 L627.74,1044.79 L628.24,1044.85 L628.73,1044.91 L629.23,1044.96 L629.72,1045.01 L630.21,1045.06 L630.71,1045.11 L631.20,1045.16 L631.70,1045.21 L632.19,1045.25 L632.69,1045.30 L633.18,1045.34 L633.67,1045.38 L634.17,1045.42 L634.66,1045.45 L635.16,1045.49 L635.65,1045.52 L636.15,1045.55 L636.64,1045.59 L637.13,1045.61 L637.63,1045.64 L638.12,1045.67 L638.62,1045.69 L639.11,1045.72 L639.61,1045.74 L640.10,1045.76 L640.59,1045.78 L641.09,1045.79 L641.58,1045.81 L642.08,1045.82 L642.57,1045.84 L643.07,1045.85 L643.56,1045.86 L644.05,1045.87 L644.55,1045.87 L645.04,1045.88 L645.54,1045.88 L646.03,1045.89 L646.53,1045.89 L647.02,1045.89 L647.51,1045.89 L648.01,1045.88 L648.50,1045.88 L649.00,1045.87 L649.49,1045.87 L649.99,1045.86 L650.48,1045.85 L650.97,1045.84 L651.47,1045.82 L651.96,1045.81 L652.46,1045.80 L652.95,1045.78 L653.45,1045.76 L653.94,1045.74 L654.43,1045.72 L654.93,1045.70 L655.42,1045.68 L655.92,1045.65 L656.41,1045.63 L656.91,1045.60 L657.40,1045.57 L657.89,1045.54 L658.39,1045.51 L658.88,1045.48 L659.38,1045.44 L659.87,1045.41 L660.37,1045.37 L660.86,1045.33 L661.35,1045.30 L661.85,1045.26 L662.34,1045.21 L662.84,1045.17 L663.33,1045.13 L663.83,1045.08 L664.32,1045.04 L664.81,1044.99 L665.31,1044.94 L665.80,1044.89 L666.30,1044.84 L666.79,1044.79 L667.28,1044.74 L667.78,1044.68 L668.27,1044.63 L668.77,1044.57 L669.26,1044.51 L669.76,1044.45 L670.25,1044.39 L670.74,1044.33 L671.24,1044.27 L671.73,1044.20 L672.23,1044.14 L672.72,1044.07 L673.22,1044.01 L673.71,1043.94 L674.20,1043.87 L674.70,1043.80 L675.19,1043.73 L675.69,1043.66 L676.18,1043.58 L676.68,1043.51 L677.17,1043.43 L677.66,1043.35 L678.16,1043.28 L678.65,1043.20 L679.15,1043.12 L679.64,1043.04 L680.14,1042.96 L680.63,1042.87 L681.12,1042.79 L681.62,1042.70 L682.11,1042.62 L682.61,1042.53 L683.10,1042.44 L683.60,1042.35 L684.09,1042.26 L684.58,1042.17 L685.08,1042.08 L685.57,1041.99 L686.07,1041.89 L686.56,1041.80 L687.06,1041.70 L687.55,1041.60 L688.04,1041.51 L688.54,1041.41 L689.03,1041.31 L689.53,1041.21 L690.02,1041.10 L690.52,1041.00 L691.01,1040.90 L691.50,1040.79 L692.00,1040.69 L692.49,1040.58 L692.99,1040.48 L693.48,1040.37 L693.98,1040.26 L694.47,1040.15 L694.96,1040.04 L695.46,1039.93 L695.95,1039.82 L696.45,1039.70 L696.94,1039.59 L697.44,1039.47 L697.93,1039.36 L698.42,1039.24 L698.92,1039.12 L699.41,1039.01 L699.91,1038.89 L700.40,1038.77 L700.90,1038.65 L701.39,1038.53 L701.88,1038.40 L702.38,1038.28 L702.87,1038.16 L703.37,1038.03 L703.86,1037.91 L704.36,1037.78 L704.85,1037.65 L705.34,1037.53 L705.84,1037.40 L706.33,1037.27 L706.83,1037.14 L707.32,1037.01 L707.82,1036.88 L708.31,1036.75 L708.80,1036.61 L709.30,1036.48 L709.79,1036.35 L710.29,1036.21 L710.78,1036.08 L711.28,1035.94 L711.77,1035.80 L712.26,1035.67 L712.76,1035.53 L713.25,1035.39 L713.75,1035.25 L714.24,1035.11 L714.74,1034.97 L715.23,1034.83 L715.72,1034.68 L716.22,1034.54 L716.71,1034.40 L717.21,1034.25 L717.70,1034.11 L718.20,1033.97 L718.69,1033.82 L719.18,1033.67 L719.68,1033.53 L720.17,1033.38 L720.67,1033.23 L721.16,1033.08 L721.66,1032.93 L722.15,1032.78 L722.64,1032.63 L723.14,1032.48 L723.63,1032.33 L724.13,1032.18 L724.62,1032.03 L725.12,1031.87 L725.61,1031.72 L726.10,1031.57 L726.60,1031.41 L727.09,1031.26 L727.59,1031.10 L728.08,1030.95 L728.58,1030.79 L729.07,1030.63 L729.56,1030.47 L730.06,1030.32 L730.55,1030.16 L731.05,1030.00 L731.54,1029.84 L732.04,1029.68 L732.53,1029.52 L733.02,1029.36 L733.52,1029.20 L734.01,1029.04 L734.51,1028.87 L735.00,1028.71 L735.50,1028.55 L735.99,1028.39 L736.48,1028.22 L736.98,1028.06 L737.47,1027.90 L737.97,1027.73 L738.46,1027.57 L738.96,1027.40 L739.45,1027.23 L739.94,1027.07 L740.44,1026.90 L740.93,1026.73 L741.43,1026.57 L741.92,1026.40 L742.42,1026.23 L742.91,1026.06 L743.40,1025.90 L743.90,1025.73 L744.39,1025.56 L744.89,1025.39 L745.38,1025.22 L745.88,1025.05 L746.37,1024.88 L746.86,1024.71 L747.36,1024.54 L747.85,1024.37 L748.35,1024.19 L748.84,1024.02 L749.34,1023.85 L749.83,1023.68 L750.32,1023.51 L750.82,1023.33 L751.31,1023.16 L751.81,1022.99 L752.30,1022.81 L752.79,1022.64 L753.29,1022.47 L753.78,1022.29 L754.28,1022.12 L754.77,1021.95 L755.27,1021.77 L755.76,1021.60 L756.25,1021.42 L756.75,1021.25 L757.24,1021.07 L757.74,1020.90 L758.23,1020.72 L758.73,1020.54 L759.22,1020.37 L759.71,1020.19 L760.21,1020.02 L760.70,1019.84 L761.20,1019.67 L761.69,1019.49 L762.19,1019.31 L762.68,1019.14 L763.17,1018.96 L763.67,1018.78 L764.16,1018.61 L764.66,1018.43 L765.15,1018.25 L765.65,1018.07 L766.14,1017.90 L766.63,1017.72 L767.13,1017.54 L767.62,1017.37 L768.12,1017.19 L768.61,1017.01 L769.11,1016.83 L769.60,1016.66 L770.09,1016.48 L770.59,1016.30 L771.08,1016.12 L771.58,1015.95 L772.07,1015.77 L772.57,1015.59 L773.06,1015.42 L773.55,1015.24 L774.05,1015.06 L774.54,1014.88 L775.04,1014.71 L775.53,1014.53 L776.03,1014.35 L776.52,1014.18 L777.01,1014.00 L777.51,1013.82 L778.00,1013.64 L778.50,1013.47 L778.99,1013.29 L779.49,1013.11 L779.98,1012.94 L780.47,1012.76 L780.97,1012.59 L781.46,1012.41 L781.96,1012.23 L782.45,1012.06 L782.95,1011.88 L783.44,1011.71 L783.93,1011.53 L784.43,1011.36 L784.92,1011.18 L785.42,1011.01 L785.91,1010.83 L786.41,1010.66 L786.90,1010.48 L787.39,1010.31 L787.89,1010.13 L788.38,1009.96 L788.88,1009.78 L789.37,1009.61 L789.87,1009.44 L790.36,1009.26 L790.85,1009.09 L791.35,1008.92 L791.84,1008.75 L792.34,1008.58 L792.83,1008.40 L793.33,1008.23 L793.82,1008.06 L794.31,1007.89 L794.81,1007.72 L795.30,1007.55 L795.80,1007.38 L796.29,1007.21 L796.79,1007.04 L797.28,1006.87 L797.77,1006.71 L798.27,1006.54 L798.76,1006.37 L799.26,1006.20 L799.75,1006.04 L800.25,1005.87 L800.74,1005.71 L801.23,1005.54 L801.73,1005.38 L802.22,1005.21 L802.72,1005.05 L803.21,1004.89 L803.71,1004.72 L804.20,1004.56 L804.69,1004.40 L805.19,1004.24 L805.68,1004.08 L806.18,1003.92 L806.67,1003.76 L807.17,1003.60 L807.66,1003.45 L808.15,1003.29 L808.65,1003.13 L809.14,1002.98 L809.64,1002.82 L810.13,1002.67 L810.63,1002.51 L811.12,1002.36 L811.61,1002.21 L812.11,1002.06 L812.60,1001.91 L813.10,1001.76 L813.59,1001.61 L814.09,1001.46 L814.58,1001.31 L815.07,1001.17 L815.57,1001.02 L816.06,1000.88 L816.56,1000.73 L817.05,1000.59 L817.55,1000.45 L818.04,1000.30 L818.53,1000.16 L819.03,1000.02 L819.52,999.88 L820.02,999.75 L820.51,999.61 L821.01,999.47 L821.50,999.34 L821.99,999.20 L822.49,999.07 L822.98,998.94 L823.48,998.81 L823.97,998.68 L824.47,998.55 L824.96,998.42 L825.45,998.29 L825.95,998.17 L826.44,998.04 L826.94,997.92 L827.43,997.79 L827.93,997.67 L828.42,997.55 L828.91,997.43 L829.41,997.31 L829.90,997.20 L830.40,997.08 L830.89,996.96 L831.39,996.85 L831.88,996.74 L832.37,996.63 L832.87,996.52 L833.36,996.41 L833.86,996.30 L834.35,996.19 L834.85,996.09 L835.34,995.98 L835.83,995.88 L836.33,995.78 L836.82,995.68 L837.32,995.58 L837.81,995.48 L838.31,995.39 L838.80,995.29 L839.29,995.20 L839.79,995.11 L840.28,995.02 L840.78,994.93 L841.27,994.84 L841.76,994.75 L842.26,994.67 L842.75,994.58 L843.25,994.50 L843.74,994.42 L844.24,994.34 L844.73,994.26 L845.22,994.19 L845.72,994.11 L846.21,994.04 L846.71,993.97 L847.20,993.90 L847.70,993.83 L848.19,993.76 L848.68,993.70 L849.18,993.63 L849.67,993.57 L850.17,993.51 L850.66,993.45 L851.16,993.39 L851.65,993.34 L852.14,993.28 L852.64,993.23 L853.13,993.18 L853.63,993.13 L854.12,993.08 L854.62,993.04 L855.11,992.99 L855.60,992.95 L856.10,992.91 L856.59,992.87 L857.09,992.84 L857.58,992.80 L858.08,992.77 L858.57,992.74 L859.06,992.71 L859.56,992.68 L860.05,992.65 L860.55,992.63 L861.04,992.61 L861.54,992.58 L862.03,992.57 L862.52,992.55 L863.02,992.53 L863.51,992.52 L864.01,992.51 L864.50,992.50 L865.00,992.49 L865.49,992.49 L865.98,992.49 L866.48,992.48 L866.97,992.48 L867.47,992.49 L867.96,992.49 L868.46,992.50 L868.95,992.51 L869.44,992.52 L869.94,992.53 L870.43,992.55 L870.93,992.56 L871.42,992.58 L871.92,992.60 L872.41,992.63 L872.90,992.65 L873.40,992.68 L873.89,992.71 L874.39,992.74 L874.88,992.78 L875.38,992.81 L875.87,992.85 L876.36,992.89 L876.86,992.93 L877.35,992.98 L877.85,993.03 L878.34,993.08 L878.84,993.13 L879.33,993.18 L879.82,993.24 L880.32,993.30 L880.81,993.36 L881.31,993.42 L881.80,993.49 L882.30,993.55 L882.79,993.62 L883.28,993.70 L883.78,993.77 L884.27,993.85 L884.77,993.93 L885.26,994.01 L885.76,994.09 L886.25,994.18 L886.74,994.26 L887.24,994.35 L887.73,994.45 L888.23,994.54 L888.72,994.64 L889.22,994.74 L889.71,994.84 L890.20,994.95 L890.70,995.05 L891.19,995.16 L891.69,995.28 L892.18,995.39 L892.68,995.51 L893.17,995.62 L893.66,995.75 L894.16,995.87 L894.65,996.00 L895.15,996.12 L895.64,996.25 L896.14,996.39 L896.63,996.52 L897.12,996.66 L897.62,996.80 L898.11,996.95 L898.61,997.09 L899.10,997.24 L899.60,997.39 L900.09,997.54 L900.58,997.70 L901.08,997.86 L901.57,998.02 L902.07,998.18 L902.56,998.34 L903.06,998.51 L903.55,998.68 L904.04,998.85 L904.54,999.03 L905.03,999.21 L905.53,999.39 L906.02,999.57 L906.52,999.76 L907.01,999.94 L907.50,1000.13 L908.00,1000.33 L908.49,1000.52 L908.99,1000.72 L909.48,1000.92 L909.98,1001.13 L910.47,1001.33 L910.96,1001.54 L911.46,1001.75 L911.95,1001.96 L912.45,1002.18 L912.94,1002.40 L913.44,1002.62 L913.93,1002.85 L914.42,1003.07 L914.92,1003.30 L915.41,1003.53 L915.91,1003.77 L916.40,1004.00 L916.90,1004.24 L917.39,1004.49 L917.88,1004.73 L918.38,1004.98 L918.87,1005.23 L919.37,1005.48 L919.86,1005.74 L920.36,1006.00 L920.85,1006.26 L921.34,1006.52 L921.84,1006.79 L922.33,1007.06 L922.83,1007.33 L923.32,1007.61 L923.82,1007.88 L924.31,1008.17 L924.80,1008.45 L925.30,1008.73 L925.79,1009.02 L926.29,1009.31 L926.78,1009.61 L927.27,1009.90 L927.77,1010.20 L928.26,1010.51 L928.76,1010.81 L929.25,1011.12 L929.75,1011.43 L930.24,1011.74 L930.73,1012.06 L931.23,1012.38 L931.72,1012.70 L932.22,1013.03 L932.71,1013.35 L933.21,1013.68 L933.70,1014.02 L934.19,1014.35 L934.69,1014.69 L935.18,1015.03 L935.68,1015.38 L936.17,1015.73 L936.67,1016.08 L937.16,1016.43 L937.65,1016.79 L938.15,1017.15 L938.64,1017.51 L939.14,1017.87 L939.63,1018.24 L940.13,1018.61 L940.62,1018.98 L941.11,1019.36 L941.61,1019.74 L942.10,1020.12 L942.60,1020.51 L943.09,1020.90 L943.59,1021.29 L944.08,1021.68 L944.57,1022.08 L945.07,1022.48 L945.56,1022.88 L946.06,1023.29 L946.55,1023.70 L947.05,1024.11 L947.54,1024.52 L948.03,1024.94 L948.53,1025.36 L949.02,1025.78 L949.52,1026.21 L950.01,1026.64 L950.51,1027.07 L951.00,1027.51 L951.49,1027.95 L951.99,1028.39 L952.48,1028.84 L952.98,1029.28 L953.47,1029.74 L953.97,1030.19 L954.46,1030.65 L954.95,1031.11 L955.45,1031.57 L955.94,1032.04 L956.44,1032.51 L956.93,1032.98 L957.43,1033.46 L957.92,1033.93 L958.41,1034.42 L958.91,1034.90 L959.40,1035.39 L959.90,1035.88 L960.39,1036.38 L960.89,1036.87 L961.38,1037.37 L961.87,1037.88 L962.37,1038.38 L962.86,1038.89 L963.36,1039.41 L963.85,1039.92 L964.35,1040.44 L964.84,1040.97 L965.33,1041.49 L965.83,1042.02 L966.32,1042.55 L966.82,1043.09 L967.31,1043.63 L967.81,1044.17 L968.30,1044.72 L968.48,1044.87 L968.66,1045.02 L968.84,1045.17 L969.02,1045.32 L969.20,1045.47 L969.39,1045.61 L969.57,1045.76 L969.75,1045.90 L969.93,1046.05 L970.11,1046.19 L970.29,1046.33 L970.47,1046.46 L970.65,1046.60 L970.83,1046.74 L971.01,1046.87 L971.19,1047.00 L971.38,1047.13 L971.56,1047.25 L971.74,1047.37 L971.92,1047.49 L972.10,1047.61 L972.28,1047.73 L972.46,1047.84 L972.64,1047.95 L972.82,1048.05 L973.00,1048.16 L973.18,1048.26 L973.37,1048.35 L973.55,1048.44 L973.73,1048.53 L973.91,1048.62 L974.09,1048.70 L974.27,1048.78 L974.45,1048.85 L974.63,1048.92 L974.81,1048.98 L974.99,1049.05 L975.17,1049.10 L975.36,1049.15 L975.54,1049.20 L975.72,1049.24 L975.90,1049.28 L976.08,1049.31 L976.26,1049.34 L976.44,1049.36 L976.62,1049.38 L976.80,1049.39 L976.98,1049.40 L977.16,1049.40 L977.35,1049.40 L977.53,1049.40 L977.71,1049.40 L977.89,1049.39 L978.07,1049.39 L978.25,1049.39 L978.43,1049.38 L978.61,1049.38 L978.79,1049.38 L978.97,1049.37 L979.15,1049.36 L979.34,1049.36 L979.52,1049.35 L979.70,1049.34 L979.88,1049.34 L980.06,1049.33 L980.24,1049.32 L980.42,1049.31 L980.60,1049.30 L980.78,1049.29 L980.96,1049.28 L981.14,1049.27 L981.33,1049.26 L981.51,1049.25 L981.69,1049.24 L981.87,1049.23 L982.05,1049.22 L982.23,1049.21 L982.41,1049.19 L982.59,1049.18 L982.77,1049.17 L982.95,1049.16 L983.13,1049.14 L983.32,1049.13 L983.50,1049.12 L983.68,1049.10 L983.86,1049.09 L984.04,1049.07 L984.22,1049.06 L984.40,1049.05 L984.58,1049.03 L984.76,1049.02 L984.94,1049.00 L985.12,1048.99 L985.31,1048.97 L985.49,1048.95 L985.67,1048.93 L985.85,1048.90 L986.03,1048.88 L986.21,1048.85 L986.39,1048.81 L986.57,1048.78 L986.75,1048.74 L986.93,1048.71 L987.11,1048.67 L987.29,1048.62 L987.48,1048.58 L987.66,1048.54 L987.84,1048.49 L988.02,1048.45 L988.20,1048.40 L988.38,1048.35 L988.56,1048.30 L988.74,1048.25 L988.92,1048.20 L989.10,1048.15 L989.28,1048.10 L989.47,1048.05 L989.65,1048.00 L989.83,1047.95 L990.01,1047.90 L990.19,1047.85 L990.37,1047.80 L990.55,1047.75 L990.73,1047.70 L990.91,1047.65 L991.09,1047.60 L991.27,1047.56 L991.46,1047.51 L991.64,1047.47 L991.82,1047.42 L992.00,1047.38 L992.18,1047.34 L992.36,1047.30 L992.54,1047.27 L992.72,1047.23 L992.90,1047.20 L993.08,1047.17 L993.26,1047.14 L993.45,1047.11 L993.63,1047.09 L993.81,1047.07 L993.99,1047.05 L994.17,1047.03 L994.35,1047.02 L994.53,1047.01 L994.71,1047.00 L994.89,1047.00 L995.07,1047.00 L995.25,1047.00 L995.44,1047.00 L995.62,1047.00 L995.80,1047.00 L995.98,1047.00 L996.16,1047.00 L996.34,1047.00 L996.52,1047.00 L996.70,1047.00 L996.88,1047.00 L997.06,1047.01 L997.24,1047.01 L997.43,1047.01 L997.61,1047.01 L997.79,1047.01 L997.97,1047.02 L998.15,1047.02 L998.33,1047.02 L998.51,1047.03 L998.69,1047.03 L998.87,1047.04 L999.05,1047.04 L999.23,1047.05 L999.42,1047.05 L999.60,1047.06 L999.78,1047.07 L999.96,1047.08 L1000.14,1047.08 L1000.32,1047.09 L1000.50,1047.10 L1000.68,1047.11 L1000.86,1047.13 L1001.04,1047.14 L1001.22,1047.15 L1001.41,1047.16 L1001.59,1047.18 L1001.77,1047.19 L1001.95,1047.21 L1002.13,1047.23 L1002.31,1047.24 L1002.49,1047.26 L1002.67,1047.28 L1002.85,1047.30 L1003.03,1047.32 L1003.21,1047.34 L1003.40,1047.37 L1003.58,1047.39 L1003.76,1047.42 L1003.94,1047.44 L1004.12,1047.47 L1004.30,1047.50" fill="none" stroke="#7B68EE" stroke-width="7.2" stroke-dasharray="23 5.4" stroke-dashoffset="19.58" stroke-linecap="butt" stroke-linejoin="round"/>
</g>
<line x1="647.50" y1="689.50" x2="678.60" y2="689.50" stroke="#F2460D" stroke-width="7.4" stroke-linecap="butt"/>
<line x1="753.80" y1="689.40" x2="789.20" y2="689.40" stroke="#F2460D" stroke-width="7.4" stroke-dasharray="16 4.3" stroke-linecap="butt"/>
<line x1="647.50" y1="753.40" x2="678.60" y2="753.40" stroke="#7B68EE" stroke-width="7.4" stroke-linecap="butt"/>
<line x1="753.80" y1="754.40" x2="788.50" y2="754.40" stroke="#7B68EE" stroke-width="7.4" stroke-dasharray="16 4.3" stroke-linecap="butt"/>
<text x="688.02" y="694.33" font-size="36.03" font-style="italic" fill="#000" >T</text>
<text x="705.88" y="705.00" font-size="23.05" fill="#000" >LL</text>
<text x="802.25" y="701.95" font-size="37.71" font-style="italic" fill="#000" >R</text>
<text x="822.88" y="711.50" font-size="22.9" fill="#000" >LL</text>
<text x="689.12" y="768.42" font-size="36.03" font-style="italic" fill="#000" >T</text>
<text x="705.88" y="779.10" font-size="22.9" fill="#000" >LT</text>
<text x="795.85" y="770.52" font-size="36.03" font-style="italic" fill="#000" >R</text>
<text x="816.48" y="779.08" font-size="21.22" fill="#000" >LT</text>
<text x="887.52" y="682.60" font-size="37.19" fill="#000" >86.32%</text>
<text x="609.30" y="651.00" font-size="37.3" text-anchor="end">1</text>
<text x="609.30" y="857.40" font-size="37.3" text-anchor="end">0.5</text>
<text x="609.30" y="1063.80" font-size="37.3" text-anchor="end">0</text>
<text x="621.60" y="1096.60" font-size="37.3" text-anchor="middle">65</text>
<text x="1003.00" y="1096.60" font-size="37.3" text-anchor="middle">70</text>
<text x="711.77" y="1106.40" font-size="37.35" fill="#000" >Frequency Hz</text>
<text x="0" y="0" font-size="37.41" fill="#000" transform="translate(550.10,1040.33) rotate(-90)">Reflection &amp; transmission</text>
<text x="530.20" y="621.05" font-size="37.09" font-weight="bold" fill="#000" >d</text>
<clipPath id="ce"><rect x="94.2" y="1147.0" width="913.6999999999999" height="340.5999999999999"/></clipPath>
<rect x="538.80" y="1147.00" width="21.00" height="340.60" fill="#CDCDCD" />
<line x1="94.20" y1="1203.70" x2="103.20" y2="1203.70" stroke="#262626" stroke-width="1.8" stroke-linecap="butt"/>
<line x1="1003.90" y1="1203.70" x2="994.90" y2="1203.70" stroke="#262626" stroke-width="1.8" stroke-linecap="butt"/>
<line x1="94.20" y1="1317.30" x2="103.20" y2="1317.30" stroke="#262626" stroke-width="1.8" stroke-linecap="butt"/>
<line x1="1003.90" y1="1317.30" x2="994.90" y2="1317.30" stroke="#262626" stroke-width="1.8" stroke-linecap="butt"/>
<line x1="94.20" y1="1430.90" x2="103.20" y2="1430.90" stroke="#262626" stroke-width="1.8" stroke-linecap="butt"/>
<line x1="1003.90" y1="1430.90" x2="994.90" y2="1430.90" stroke="#262626" stroke-width="1.8" stroke-linecap="butt"/>
<line x1="538.80" y1="1147.00" x2="538.80" y2="1156.00" stroke="#262626" stroke-width="1.8" stroke-linecap="butt"/>
<line x1="538.80" y1="1487.60" x2="538.80" y2="1478.60" stroke="#262626" stroke-width="1.8" stroke-linecap="butt"/>
<line x1="559.80" y1="1147.00" x2="559.80" y2="1156.00" stroke="#262626" stroke-width="1.8" stroke-linecap="butt"/>
<line x1="559.80" y1="1487.60" x2="559.80" y2="1478.60" stroke="#262626" stroke-width="1.8" stroke-linecap="butt"/>
<text x="4.03" y="1149.65" font-size="39.69" font-weight="bold" fill="#000" >e</text>
<text x="80.70" y="1217.10" font-size="37.3" text-anchor="end">1</text>
<text x="80.70" y="1330.70" font-size="37.3" text-anchor="end">0</text>
<text x="80.70" y="1444.30" font-size="37.3" text-anchor="end">-1</text>
<text x="0" y="0" font-size="37.34" fill="#000" transform="translate(36.60,1420.03) rotate(-90)">Displacement</text>
<text x="276.23" y="1246.70" font-size="37.27" fill="#000" >Incident L</text>
<line x1="432.70" y1="1251.40" x2="442.40" y2="1261.10" stroke="#000" stroke-width="2.6" stroke-linecap="butt"/>
<text x="96.00" y="1380.60" font-size="37.26" fill="#1414E6" >Reflected T</text>
<line x1="150.00" y1="1329.40" x2="150.00" y2="1342.30" stroke="#1414E6" stroke-width="2.6" stroke-linecap="butt"/>
<text x="340.10" y="1413.60" font-size="37.3" fill="#E61818" >Reflected L</text>
<line x1="337.40" y1="1367.40" x2="352.00" y2="1382.00" stroke="#E61818" stroke-width="2.6" stroke-linecap="butt"/>
<text x="468.70" y="1456.00" font-size="37.28" fill="#000" >Meta-slab</text>
<text x="831.25" y="1195.80" font-size="37.36" fill="#000" >1.378</text>
<text x="795.38" y="1366.00" font-size="36.98" fill="#E61818" >Transmitted L</text>
<line x1="873.00" y1="1329.60" x2="883.00" y2="1338.70" stroke="#E61818" stroke-width="2.6" stroke-linecap="butt"/>
<text x="709.08" y="1429.50" font-size="36.84" fill="#1414E6" >Transmitted T</text>
<line x1="717.90" y1="1378.60" x2="728.80" y2="1388.60" stroke="#1414E6" stroke-width="2.6" stroke-linecap="butt"/>
<text x="510.15" y="1523.67" font-size="44.89" fill="#000" >0</text>
<text x="548.70" y="1528.80" font-size="51.3" font-style="italic" fill="#000" >d</text>
<text x="575.10" y="1541.72" font-size="34.2" fill="#000" >MC</text>
<line x1="94.20" y1="1203.70" x2="538.80" y2="1203.70" stroke="#000" stroke-width="2.8" stroke-dasharray="11 11.3" stroke-linecap="butt"/>
<line x1="94.20" y1="1430.90" x2="538.80" y2="1430.90" stroke="#000" stroke-width="2.8" stroke-dasharray="11 11.3" stroke-linecap="butt"/>
<line x1="559.80" y1="1163.80" x2="1003.90" y2="1163.80" stroke="#000" stroke-width="2.8" stroke-dasharray="11 11.3" stroke-linecap="butt"/>
<line x1="559.80" y1="1471.00" x2="1003.90" y2="1471.00" stroke="#000" stroke-width="2.8" stroke-dasharray="11 11.3" stroke-linecap="butt"/>
<g clip-path="url(#ce)">
<path d="M94.20,1203.70 L95.09,1203.71 L95.98,1203.74 L96.87,1203.78 L97.76,1203.84 L98.65,1203.92 L99.55,1204.02 L100.44,1204.14 L101.33,1204.27 L102.22,1204.43 L103.11,1204.60 L104.00,1204.79 L104.89,1204.99 L105.78,1205.22 L106.67,1205.46 L107.56,1205.72 L108.46,1205.99 L109.35,1206.29 L110.24,1206.60 L111.13,1206.93 L112.02,1207.28 L112.91,1207.64 L113.80,1208.02 L114.69,1208.42 L115.58,1208.84 L116.47,1209.27 L117.37,1209.72 L118.26,1210.19 L119.15,1210.68 L120.04,1211.18 L120.93,1211.69 L121.82,1212.23 L122.71,1212.78 L123.60,1213.35 L124.49,1213.93 L125.38,1214.54 L126.28,1215.15 L127.17,1215.79 L128.06,1216.44 L128.95,1217.10 L129.84,1217.78 L130.73,1218.48 L131.62,1219.19 L132.51,1219.92 L133.40,1220.66 L134.29,1221.42 L135.19,1222.20 L136.08,1222.99 L136.97,1223.79 L137.86,1224.61 L138.75,1225.44 L139.64,1226.29 L140.53,1227.15 L141.42,1228.03 L142.31,1228.92 L143.20,1229.82 L144.09,1230.74 L144.99,1231.68 L145.88,1232.62 L146.77,1233.58 L147.66,1234.55 L148.55,1235.54 L149.44,1236.54 L150.33,1237.55 L151.22,1238.57 L152.11,1239.61 L153.00,1240.66 L153.90,1241.72 L154.79,1242.79 L155.68,1243.88 L156.57,1244.97 L157.46,1246.08 L158.35,1247.20 L159.24,1248.33 L160.13,1249.47 L161.02,1250.62 L161.91,1251.79 L162.81,1252.96 L163.70,1254.14 L164.59,1255.33 L165.48,1256.54 L166.37,1257.75 L167.26,1258.97 L168.15,1260.20 L169.04,1261.44 L169.93,1262.69 L170.82,1263.95 L171.72,1265.21 L172.61,1266.49 L173.50,1267.77 L174.39,1269.06 L175.28,1270.36 L176.17,1271.66 L177.06,1272.97 L177.95,1274.29 L178.84,1275.62 L179.73,1276.95 L180.63,1278.29 L181.52,1279.64 L182.41,1280.99 L183.30,1282.35 L184.19,1283.71 L185.08,1285.08 L185.97,1286.45 L186.86,1287.83 L187.75,1289.21 L188.64,1290.60 L189.54,1291.99 L190.43,1293.38 L191.32,1294.78 L192.21,1296.18 L193.10,1297.59 L193.99,1299.00 L194.88,1300.41 L195.77,1301.82 L196.66,1303.24 L197.55,1304.66 L198.44,1306.08 L199.34,1307.51 L200.23,1308.93 L201.12,1310.36 L202.01,1311.78 L202.90,1313.21 L203.79,1314.64 L204.68,1316.07 L205.57,1317.50 L206.46,1318.93 L207.35,1320.35 L208.25,1321.78 L209.14,1323.21 L210.03,1324.64 L210.92,1326.06 L211.81,1327.49 L212.70,1328.91 L213.59,1330.33 L214.48,1331.75 L215.37,1333.17 L216.26,1334.58 L217.16,1335.99 L218.05,1337.40 L218.94,1338.80 L219.83,1340.20 L220.72,1341.60 L221.61,1343.00 L222.50,1344.39 L223.39,1345.77 L224.28,1347.15 L225.17,1348.53 L226.07,1349.90 L226.96,1351.27 L227.85,1352.63 L228.74,1353.98 L229.63,1355.33 L230.52,1356.68 L231.41,1358.01 L232.30,1359.35 L233.19,1360.67 L234.08,1361.99 L234.98,1363.30 L235.87,1364.60 L236.76,1365.90 L237.65,1367.18 L238.54,1368.46 L239.43,1369.74 L240.32,1371.00 L241.21,1372.25 L242.10,1373.50 L242.99,1374.74 L243.88,1375.97 L244.78,1377.19 L245.67,1378.40 L246.56,1379.60 L247.45,1380.79 L248.34,1381.97 L249.23,1383.14 L250.12,1384.30 L251.01,1385.44 L251.90,1386.58 L252.79,1387.71 L253.69,1388.82 L254.58,1389.93 L255.47,1391.02 L256.36,1392.10 L257.25,1393.17 L258.14,1394.23 L259.03,1395.28 L259.92,1396.31 L260.81,1397.33 L261.70,1398.34 L262.60,1399.33 L263.49,1400.32 L264.38,1401.28 L265.27,1402.24 L266.16,1403.18 L267.05,1404.11 L267.94,1405.03 L268.83,1405.93 L269.72,1406.81 L270.61,1407.69 L271.51,1408.55 L272.40,1409.39 L273.29,1410.22 L274.18,1411.03 L275.07,1411.83 L275.96,1412.62 L276.85,1413.39 L277.74,1414.14 L278.63,1414.88 L279.52,1415.61 L280.42,1416.31 L281.31,1417.01 L282.20,1417.68 L283.09,1418.35 L283.98,1418.99 L284.87,1419.62 L285.76,1420.23 L286.65,1420.83 L287.54,1421.41 L288.43,1421.97 L289.33,1422.52 L290.22,1423.05 L291.11,1423.56 L292.00,1424.06 L292.89,1424.54 L293.78,1425.00 L294.67,1425.45 L295.56,1425.88 L296.45,1426.29 L297.34,1426.68 L298.23,1427.06 L299.13,1427.42 L300.02,1427.76 L300.91,1428.09 L301.80,1428.39 L302.69,1428.68 L303.58,1428.96 L304.47,1429.21 L305.36,1429.45 L306.25,1429.67 L307.14,1429.87 L308.04,1430.05 L308.93,1430.22 L309.82,1430.36 L310.71,1430.49 L311.60,1430.61 L312.49,1430.70 L313.38,1430.78 L314.27,1430.83 L315.16,1430.87 L316.05,1430.90 L316.95,1430.90 L317.84,1430.89 L318.73,1430.85 L319.62,1430.80 L320.51,1430.74 L321.40,1430.65 L322.29,1430.55 L323.18,1430.42 L324.07,1430.28 L324.96,1430.13 L325.86,1429.95 L326.75,1429.76 L327.64,1429.55 L328.53,1429.32 L329.42,1429.07 L330.31,1428.81 L331.20,1428.53 L332.09,1428.23 L332.98,1427.91 L333.87,1427.58 L334.77,1427.22 L335.66,1426.86 L336.55,1426.47 L337.44,1426.06 L338.33,1425.64 L339.22,1425.21 L340.11,1424.75 L341.00,1424.28 L341.89,1423.79 L342.78,1423.28 L343.67,1422.76 L344.57,1422.22 L345.46,1421.66 L346.35,1421.09 L347.24,1420.50 L348.13,1419.90 L349.02,1419.27 L349.91,1418.64 L350.80,1417.98 L351.69,1417.31 L352.58,1416.63 L353.48,1415.93 L354.37,1415.21 L355.26,1414.48 L356.15,1413.73 L357.04,1412.97 L357.93,1412.19 L358.82,1411.39 L359.71,1410.59 L360.60,1409.76 L361.49,1408.93 L362.39,1408.07 L363.28,1407.21 L364.17,1406.33 L365.06,1405.43 L365.95,1404.52 L366.84,1403.60 L367.73,1402.66 L368.62,1401.72 L369.51,1400.75 L370.40,1399.78 L371.30,1398.79 L372.19,1397.78 L373.08,1396.77 L373.97,1395.74 L374.86,1394.70 L375.75,1393.65 L376.64,1392.59 L377.53,1391.51 L378.42,1390.42 L379.31,1389.32 L380.21,1388.21 L381.10,1387.09 L381.99,1385.96 L382.88,1384.81 L383.77,1383.66 L384.66,1382.49 L385.55,1381.32 L386.44,1380.13 L387.33,1378.94 L388.22,1377.73 L389.12,1376.52 L390.01,1375.29 L390.90,1374.06 L391.79,1372.82 L392.68,1371.56 L393.57,1370.30 L394.46,1369.04 L395.35,1367.76 L396.24,1366.48 L397.13,1365.18 L398.02,1363.88 L398.92,1362.58 L399.81,1361.26 L400.70,1359.94 L401.59,1358.61 L402.48,1357.28 L403.37,1355.94 L404.26,1354.59 L405.15,1353.24 L406.04,1351.88 L406.93,1350.52 L407.83,1349.15 L408.72,1347.77 L409.61,1346.39 L410.50,1345.01 L411.39,1343.62 L412.28,1342.23 L413.17,1340.83 L414.06,1339.43 L414.95,1338.03 L415.84,1336.62 L416.74,1335.21 L417.63,1333.80 L418.52,1332.38 L419.41,1330.97 L420.30,1329.55 L421.19,1328.13 L422.08,1326.70 L422.97,1325.28 L423.86,1323.85 L424.75,1322.42 L425.65,1321.00 L426.54,1319.57 L427.43,1318.14 L428.32,1316.71 L429.21,1315.28 L430.10,1313.85 L430.99,1312.42 L431.88,1311.00 L432.77,1309.57 L433.66,1308.14 L434.56,1306.72 L435.45,1305.30 L436.34,1303.88 L437.23,1302.46 L438.12,1301.05 L439.01,1299.63 L439.90,1298.22 L440.79,1296.81 L441.68,1295.41 L442.57,1294.01 L443.46,1292.61 L444.36,1291.22 L445.25,1289.83 L446.14,1288.45 L447.03,1287.07 L447.92,1285.69 L448.81,1284.32 L449.70,1282.96 L450.59,1281.60 L451.48,1280.24 L452.37,1278.90 L453.27,1277.55 L454.16,1276.22 L455.05,1274.89 L455.94,1273.57 L456.83,1272.25 L457.72,1270.94 L458.61,1269.64 L459.50,1268.35 L460.39,1267.06 L461.28,1265.78 L462.18,1264.51 L463.07,1263.25 L463.96,1262.00 L464.85,1260.76 L465.74,1259.52 L466.63,1258.30 L467.52,1257.08 L468.41,1255.87 L469.30,1254.68 L470.19,1253.49 L471.09,1252.31 L471.98,1251.14 L472.87,1249.99 L473.76,1248.84 L474.65,1247.71 L475.54,1246.58 L476.43,1245.47 L477.32,1244.37 L478.21,1243.28 L479.10,1242.20 L480.00,1241.13 L480.89,1240.08 L481.78,1239.04 L482.67,1238.01 L483.56,1236.99 L484.45,1235.99 L485.34,1234.99 L486.23,1234.02 L487.12,1233.05 L488.01,1232.10 L488.91,1231.16 L489.80,1230.24 L490.69,1229.32 L491.58,1228.43 L492.47,1227.54 L493.36,1226.68 L494.25,1225.82 L495.14,1224.98 L496.03,1224.16 L496.92,1223.34 L497.81,1222.55 L498.71,1221.77 L499.60,1221.00 L500.49,1220.25 L501.38,1219.52 L502.27,1218.80 L503.16,1218.09 L504.05,1217.40 L504.94,1216.73 L505.83,1216.08 L506.72,1215.43 L507.62,1214.81 L508.51,1214.20 L509.40,1213.61 L510.29,1213.03 L511.18,1212.48 L512.07,1211.93 L512.96,1211.41 L513.85,1210.90 L514.74,1210.41 L515.63,1209.93 L516.53,1209.47 L517.42,1209.03 L518.31,1208.61 L519.20,1208.20 L520.09,1207.81 L520.98,1207.44 L521.87,1207.08 L522.76,1206.75 L523.65,1206.43 L524.54,1206.12 L525.44,1205.84 L526.33,1205.57 L527.22,1205.32 L528.11,1205.09 L529.00,1204.88 L529.89,1204.68 L530.78,1204.50 L531.67,1204.34 L532.56,1204.20 L533.45,1204.07 L534.35,1203.97 L535.24,1203.88 L536.13,1203.81 L537.02,1203.75 L537.91,1203.72 L538.80,1203.70" fill="none" stroke="#000" stroke-width="7.5" stroke-linecap="butt" stroke-linejoin="round"/>
<path d="M94.20,1277.31 L95.09,1277.32 L95.98,1277.33 L96.87,1277.34 L97.76,1277.36 L98.65,1277.39 L99.55,1277.43 L100.44,1277.47 L101.33,1277.52 L102.22,1277.57 L103.11,1277.63 L104.00,1277.70 L104.89,1277.77 L105.78,1277.85 L106.67,1277.93 L107.56,1278.02 L108.46,1278.12 L109.35,1278.22 L110.24,1278.33 L111.13,1278.45 L112.02,1278.57 L112.91,1278.70 L113.80,1278.83 L114.69,1278.98 L115.58,1279.12 L116.47,1279.27 L117.37,1279.43 L118.26,1279.60 L119.15,1279.77 L120.04,1279.94 L120.93,1280.13 L121.82,1280.32 L122.71,1280.51 L123.60,1280.71 L124.49,1280.92 L125.38,1281.13 L126.28,1281.34 L127.17,1281.57 L128.06,1281.80 L128.95,1282.03 L129.84,1282.27 L130.73,1282.51 L131.62,1282.77 L132.51,1283.02 L133.40,1283.28 L134.29,1283.55 L135.19,1283.82 L136.08,1284.10 L136.97,1284.38 L137.86,1284.67 L138.75,1284.97 L139.64,1285.26 L140.53,1285.57 L141.42,1285.88 L142.31,1286.19 L143.20,1286.51 L144.09,1286.83 L144.99,1287.16 L145.88,1287.49 L146.77,1287.83 L147.66,1288.17 L148.55,1288.52 L149.44,1288.87 L150.33,1289.23 L151.22,1289.59 L152.11,1289.95 L153.00,1290.32 L153.90,1290.70 L154.79,1291.07 L155.68,1291.46 L156.57,1291.84 L157.46,1292.23 L158.35,1292.62 L159.24,1293.02 L160.13,1293.42 L161.02,1293.83 L161.91,1294.24 L162.81,1294.65 L163.70,1295.07 L164.59,1295.49 L165.48,1295.91 L166.37,1296.34 L167.26,1296.77 L168.15,1297.20 L169.04,1297.64 L169.93,1298.08 L170.82,1298.52 L171.72,1298.97 L172.61,1299.41 L173.50,1299.87 L174.39,1300.32 L175.28,1300.78 L176.17,1301.24 L177.06,1301.70 L177.95,1302.16 L178.84,1302.63 L179.73,1303.10 L180.63,1303.57 L181.52,1304.04 L182.41,1304.52 L183.30,1305.00 L184.19,1305.48 L185.08,1305.96 L185.97,1306.44 L186.86,1306.93 L187.75,1307.41 L188.64,1307.90 L189.54,1308.39 L190.43,1308.88 L191.32,1309.37 L192.21,1309.87 L193.10,1310.36 L193.99,1310.86 L194.88,1311.35 L195.77,1311.85 L196.66,1312.35 L197.55,1312.85 L198.44,1313.35 L199.34,1313.85 L200.23,1314.35 L201.12,1314.86 L202.01,1315.36 L202.90,1315.86 L203.79,1316.36 L204.68,1316.87 L205.57,1317.37 L206.46,1317.87 L207.35,1318.38 L208.25,1318.88 L209.14,1319.38 L210.03,1319.88 L210.92,1320.38 L211.81,1320.89 L212.70,1321.39 L213.59,1321.89 L214.48,1322.39 L215.37,1322.88 L216.26,1323.38 L217.16,1323.88 L218.05,1324.37 L218.94,1324.87 L219.83,1325.36 L220.72,1325.85 L221.61,1326.35 L222.50,1326.83 L223.39,1327.32 L224.28,1327.81 L225.17,1328.29 L226.07,1328.78 L226.96,1329.26 L227.85,1329.74 L228.74,1330.21 L229.63,1330.69 L230.52,1331.16 L231.41,1331.63 L232.30,1332.10 L233.19,1332.57 L234.08,1333.03 L234.98,1333.49 L235.87,1333.95 L236.76,1334.41 L237.65,1334.86 L238.54,1335.31 L239.43,1335.76 L240.32,1336.20 L241.21,1336.64 L242.10,1337.08 L242.99,1337.52 L243.88,1337.95 L244.78,1338.38 L245.67,1338.81 L246.56,1339.23 L247.45,1339.65 L248.34,1340.06 L249.23,1340.47 L250.12,1340.88 L251.01,1341.29 L251.90,1341.69 L252.79,1342.08 L253.69,1342.48 L254.58,1342.87 L255.47,1343.25 L256.36,1343.63 L257.25,1344.01 L258.14,1344.38 L259.03,1344.75 L259.92,1345.11 L260.81,1345.47 L261.70,1345.83 L262.60,1346.18 L263.49,1346.52 L264.38,1346.86 L265.27,1347.20 L266.16,1347.53 L267.05,1347.86 L267.94,1348.18 L268.83,1348.50 L269.72,1348.81 L270.61,1349.12 L271.51,1349.42 L272.40,1349.72 L273.29,1350.01 L274.18,1350.29 L275.07,1350.58 L275.96,1350.85 L276.85,1351.12 L277.74,1351.39 L278.63,1351.65 L279.52,1351.90 L280.42,1352.15 L281.31,1352.40 L282.20,1352.64 L283.09,1352.87 L283.98,1353.10 L284.87,1353.32 L285.76,1353.53 L286.65,1353.74 L287.54,1353.95 L288.43,1354.14 L289.33,1354.34 L290.22,1354.52 L291.11,1354.70 L292.00,1354.88 L292.89,1355.05 L293.78,1355.21 L294.67,1355.37 L295.56,1355.52 L296.45,1355.66 L297.34,1355.80 L298.23,1355.94 L299.13,1356.06 L300.02,1356.18 L300.91,1356.30 L301.80,1356.41 L302.69,1356.51 L303.58,1356.60 L304.47,1356.69 L305.36,1356.78 L306.25,1356.85 L307.14,1356.92 L308.04,1356.99 L308.93,1357.05 L309.82,1357.10 L310.71,1357.14 L311.60,1357.18 L312.49,1357.22 L313.38,1357.24 L314.27,1357.26 L315.16,1357.28 L316.05,1357.29 L316.95,1357.29 L317.84,1357.28 L318.73,1357.27 L319.62,1357.25 L320.51,1357.23 L321.40,1357.20 L322.29,1357.16 L323.18,1357.12 L324.07,1357.07 L324.96,1357.02 L325.86,1356.95 L326.75,1356.89 L327.64,1356.81 L328.53,1356.73 L329.42,1356.64 L330.31,1356.55 L331.20,1356.45 L332.09,1356.35 L332.98,1356.24 L333.87,1356.12 L334.77,1355.99 L335.66,1355.86 L336.55,1355.73 L337.44,1355.59 L338.33,1355.44 L339.22,1355.28 L340.11,1355.12 L341.00,1354.96 L341.89,1354.78 L342.78,1354.61 L343.67,1354.42 L344.57,1354.23 L345.46,1354.04 L346.35,1353.83 L347.24,1353.63 L348.13,1353.41 L349.02,1353.20 L349.91,1352.97 L350.80,1352.74 L351.69,1352.50 L352.58,1352.26 L353.48,1352.02 L354.37,1351.76 L355.26,1351.51 L356.15,1351.24 L357.04,1350.97 L357.93,1350.70 L358.82,1350.42 L359.71,1350.14 L360.60,1349.85 L361.49,1349.55 L362.39,1349.25 L363.28,1348.95 L364.17,1348.64 L365.06,1348.32 L365.95,1348.00 L366.84,1347.68 L367.73,1347.35 L368.62,1347.01 L369.51,1346.68 L370.40,1346.33 L371.30,1345.98 L372.19,1345.63 L373.08,1345.27 L373.97,1344.91 L374.86,1344.55 L375.75,1344.18 L376.64,1343.80 L377.53,1343.42 L378.42,1343.04 L379.31,1342.65 L380.21,1342.26 L381.10,1341.87 L381.99,1341.47 L382.88,1341.06 L383.77,1340.66 L384.66,1340.25 L385.55,1339.83 L386.44,1339.42 L387.33,1339.00 L388.22,1338.57 L389.12,1338.14 L390.01,1337.71 L390.90,1337.28 L391.79,1336.84 L392.68,1336.40 L393.57,1335.96 L394.46,1335.51 L395.35,1335.06 L396.24,1334.61 L397.13,1334.15 L398.02,1333.70 L398.92,1333.24 L399.81,1332.77 L400.70,1332.31 L401.59,1331.84 L402.48,1331.37 L403.37,1330.90 L404.26,1330.43 L405.15,1329.95 L406.04,1329.47 L406.93,1328.99 L407.83,1328.51 L408.72,1328.03 L409.61,1327.54 L410.50,1327.05 L411.39,1326.57 L412.28,1326.07 L413.17,1325.58 L414.06,1325.09 L414.95,1324.60 L415.84,1324.10 L416.74,1323.61 L417.63,1323.11 L418.52,1322.61 L419.41,1322.11 L420.30,1321.61 L421.19,1321.11 L422.08,1320.61 L422.97,1320.11 L423.86,1319.61 L424.75,1319.10 L425.65,1318.60 L426.54,1318.10 L427.43,1317.60 L428.32,1317.09 L429.21,1316.59 L430.10,1316.09 L430.99,1315.58 L431.88,1315.08 L432.77,1314.58 L433.66,1314.08 L434.56,1313.58 L435.45,1313.08 L436.34,1312.58 L437.23,1312.08 L438.12,1311.58 L439.01,1311.08 L439.90,1310.58 L440.79,1310.09 L441.68,1309.59 L442.57,1309.10 L443.46,1308.61 L444.36,1308.12 L445.25,1307.63 L446.14,1307.14 L447.03,1306.66 L447.92,1306.17 L448.81,1305.69 L449.70,1305.21 L450.59,1304.73 L451.48,1304.26 L452.37,1303.78 L453.27,1303.31 L454.16,1302.84 L455.05,1302.37 L455.94,1301.91 L456.83,1301.44 L457.72,1300.98 L458.61,1300.52 L459.50,1300.07 L460.39,1299.62 L461.28,1299.17 L462.18,1298.72 L463.07,1298.28 L463.96,1297.83 L464.85,1297.40 L465.74,1296.96 L466.63,1296.53 L467.52,1296.10 L468.41,1295.68 L469.30,1295.26 L470.19,1294.84 L471.09,1294.42 L471.98,1294.01 L472.87,1293.61 L473.76,1293.20 L474.65,1292.80 L475.54,1292.41 L476.43,1292.02 L477.32,1291.63 L478.21,1291.24 L479.10,1290.86 L480.00,1290.49 L480.89,1290.12 L481.78,1289.75 L482.67,1289.39 L483.56,1289.03 L484.45,1288.68 L485.34,1288.33 L486.23,1287.98 L487.12,1287.64 L488.01,1287.31 L488.91,1286.98 L489.80,1286.65 L490.69,1286.33 L491.58,1286.02 L492.47,1285.71 L493.36,1285.40 L494.25,1285.10 L495.14,1284.80 L496.03,1284.51 L496.92,1284.23 L497.81,1283.95 L498.71,1283.67 L499.60,1283.40 L500.49,1283.14 L501.38,1282.88 L502.27,1282.63 L503.16,1282.38 L504.05,1282.14 L504.94,1281.90 L505.83,1281.67 L506.72,1281.44 L507.62,1281.22 L508.51,1281.01 L509.40,1280.80 L510.29,1280.60 L511.18,1280.40 L512.07,1280.21 L512.96,1280.03 L513.85,1279.85 L514.74,1279.67 L515.63,1279.51 L516.53,1279.34 L517.42,1279.19 L518.31,1279.04 L519.20,1278.90 L520.09,1278.76 L520.98,1278.63 L521.87,1278.50 L522.76,1278.38 L523.65,1278.27 L524.54,1278.17 L525.44,1278.07 L526.33,1277.97 L527.22,1277.88 L528.11,1277.80 L529.00,1277.73 L529.89,1277.66 L530.78,1277.59 L531.67,1277.54 L532.56,1277.49 L533.45,1277.44 L534.35,1277.41 L535.24,1277.38 L536.13,1277.35 L537.02,1277.33 L537.91,1277.32 L538.80,1277.31" fill="none" stroke="#F2460D" stroke-width="7.3" stroke-dasharray="16.8 5.7" stroke-dashoffset="15.24" stroke-linecap="butt" stroke-linejoin="round"/>
<path d="M94.20,1313.89 L95.09,1313.89 L95.98,1313.90 L96.87,1313.90 L97.76,1313.91 L98.65,1313.93 L99.55,1313.94 L100.44,1313.96 L101.33,1313.98 L102.22,1314.00 L103.11,1314.02 L104.00,1314.05 L104.89,1314.08 L105.78,1314.12 L106.67,1314.15 L107.56,1314.19 L108.46,1314.23 L109.35,1314.27 L110.24,1314.32 L111.13,1314.36 L112.02,1314.41 L112.91,1314.46 L113.80,1314.52 L114.69,1314.57 L115.58,1314.63 L116.47,1314.69 L117.37,1314.76 L118.26,1314.82 L119.15,1314.89 L120.04,1314.95 L120.93,1315.02 L121.82,1315.10 L122.71,1315.17 L123.60,1315.25 L124.49,1315.32 L125.38,1315.40 L126.28,1315.48 L127.17,1315.56 L128.06,1315.64 L128.95,1315.73 L129.84,1315.81 L130.73,1315.90 L131.62,1315.99 L132.51,1316.08 L133.40,1316.17 L134.29,1316.26 L135.19,1316.35 L136.08,1316.44 L136.97,1316.53 L137.86,1316.63 L138.75,1316.72 L139.64,1316.81 L140.53,1316.91 L141.42,1317.00 L142.31,1317.10 L143.20,1317.19 L144.09,1317.29 L144.99,1317.38 L145.88,1317.48 L146.77,1317.57 L147.66,1317.67 L148.55,1317.76 L149.44,1317.86 L150.33,1317.95 L151.22,1318.05 L152.11,1318.14 L153.00,1318.23 L153.90,1318.32 L154.79,1318.41 L155.68,1318.50 L156.57,1318.59 L157.46,1318.68 L158.35,1318.77 L159.24,1318.85 L160.13,1318.94 L161.02,1319.02 L161.91,1319.10 L162.81,1319.18 L163.70,1319.26 L164.59,1319.34 L165.48,1319.41 L166.37,1319.49 L167.26,1319.56 L168.15,1319.63 L169.04,1319.70 L169.93,1319.76 L170.82,1319.83 L171.72,1319.89 L172.61,1319.95 L173.50,1320.01 L174.39,1320.07 L175.28,1320.12 L176.17,1320.18 L177.06,1320.23 L177.95,1320.27 L178.84,1320.32 L179.73,1320.36 L180.63,1320.40 L181.52,1320.44 L182.41,1320.48 L183.30,1320.51 L184.19,1320.54 L185.08,1320.57 L185.97,1320.59 L186.86,1320.62 L187.75,1320.64 L188.64,1320.66 L189.54,1320.67 L190.43,1320.68 L191.32,1320.69 L192.21,1320.70 L193.10,1320.71 L193.99,1320.71 L194.88,1320.71 L195.77,1320.70 L196.66,1320.70 L197.55,1320.69 L198.44,1320.68 L199.34,1320.66 L200.23,1320.65 L201.12,1320.63 L202.01,1320.61 L202.90,1320.58 L203.79,1320.55 L204.68,1320.52 L205.57,1320.49 L206.46,1320.46 L207.35,1320.42 L208.25,1320.38 L209.14,1320.34 L210.03,1320.30 L210.92,1320.25 L211.81,1320.20 L212.70,1320.15 L213.59,1320.09 L214.48,1320.04 L215.37,1319.98 L216.26,1319.92 L217.16,1319.86 L218.05,1319.80 L218.94,1319.73 L219.83,1319.66 L220.72,1319.59 L221.61,1319.52 L222.50,1319.45 L223.39,1319.37 L224.28,1319.30 L225.17,1319.22 L226.07,1319.14 L226.96,1319.06 L227.85,1318.97 L228.74,1318.89 L229.63,1318.81 L230.52,1318.72 L231.41,1318.63 L232.30,1318.54 L233.19,1318.46 L234.08,1318.36 L234.98,1318.27 L235.87,1318.18 L236.76,1318.09 L237.65,1318.00 L238.54,1317.90 L239.43,1317.81 L240.32,1317.71 L241.21,1317.62 L242.10,1317.52 L242.99,1317.43 L243.88,1317.33 L244.78,1317.24 L245.67,1317.14 L246.56,1317.05 L247.45,1316.95 L248.34,1316.86 L249.23,1316.76 L250.12,1316.67 L251.01,1316.58 L251.90,1316.48 L252.79,1316.39 L253.69,1316.30 L254.58,1316.21 L255.47,1316.12 L256.36,1316.03 L257.25,1315.94 L258.14,1315.85 L259.03,1315.77 L259.92,1315.68 L260.81,1315.60 L261.70,1315.52 L262.60,1315.44 L263.49,1315.36 L264.38,1315.28 L265.27,1315.21 L266.16,1315.13 L267.05,1315.06 L267.94,1314.99 L268.83,1314.92 L269.72,1314.85 L270.61,1314.79 L271.51,1314.72 L272.40,1314.66 L273.29,1314.60 L274.18,1314.54 L275.07,1314.49 L275.96,1314.44 L276.85,1314.39 L277.74,1314.34 L278.63,1314.29 L279.52,1314.25 L280.42,1314.21 L281.31,1314.17 L282.20,1314.13 L283.09,1314.10 L283.98,1314.07 L284.87,1314.04 L285.76,1314.01 L286.65,1313.99 L287.54,1313.97 L288.43,1313.95 L289.33,1313.93 L290.22,1313.92 L291.11,1313.91 L292.00,1313.90 L292.89,1313.89 L293.78,1313.89 L294.67,1313.89 L295.56,1313.90 L296.45,1313.90 L297.34,1313.91 L298.23,1313.92 L299.13,1313.93 L300.02,1313.95 L300.91,1313.97 L301.80,1313.99 L302.69,1314.01 L303.58,1314.04 L304.47,1314.07 L305.36,1314.10 L306.25,1314.13 L307.14,1314.17 L308.04,1314.21 L308.93,1314.25 L309.82,1314.29 L310.71,1314.34 L311.60,1314.39 L312.49,1314.44 L313.38,1314.49 L314.27,1314.55 L315.16,1314.60 L316.05,1314.66 L316.95,1314.73 L317.84,1314.79 L318.73,1314.85 L319.62,1314.92 L320.51,1314.99 L321.40,1315.06 L322.29,1315.14 L323.18,1315.21 L324.07,1315.29 L324.96,1315.36 L325.86,1315.44 L326.75,1315.52 L327.64,1315.61 L328.53,1315.69 L329.42,1315.77 L330.31,1315.86 L331.20,1315.95 L332.09,1316.03 L332.98,1316.12 L333.87,1316.21 L334.77,1316.30 L335.66,1316.40 L336.55,1316.49 L337.44,1316.58 L338.33,1316.67 L339.22,1316.77 L340.11,1316.86 L341.00,1316.96 L341.89,1317.05 L342.78,1317.15 L343.67,1317.24 L344.57,1317.34 L345.46,1317.43 L346.35,1317.53 L347.24,1317.62 L348.13,1317.72 L349.02,1317.81 L349.91,1317.91 L350.80,1318.00 L351.69,1318.09 L352.58,1318.19 L353.48,1318.28 L354.37,1318.37 L355.26,1318.46 L356.15,1318.55 L357.04,1318.64 L357.93,1318.72 L358.82,1318.81 L359.71,1318.90 L360.60,1318.98 L361.49,1319.06 L362.39,1319.14 L363.28,1319.22 L364.17,1319.30 L365.06,1319.38 L365.95,1319.45 L366.84,1319.52 L367.73,1319.60 L368.62,1319.67 L369.51,1319.73 L370.40,1319.80 L371.30,1319.86 L372.19,1319.92 L373.08,1319.98 L373.97,1320.04 L374.86,1320.10 L375.75,1320.15 L376.64,1320.20 L377.53,1320.25 L378.42,1320.30 L379.31,1320.34 L380.21,1320.38 L381.10,1320.42 L381.99,1320.46 L382.88,1320.49 L383.77,1320.53 L384.66,1320.56 L385.55,1320.58 L386.44,1320.61 L387.33,1320.63 L388.22,1320.65 L389.12,1320.66 L390.01,1320.68 L390.90,1320.69 L391.79,1320.70 L392.68,1320.70 L393.57,1320.71 L394.46,1320.71 L395.35,1320.71 L396.24,1320.70 L397.13,1320.69 L398.02,1320.68 L398.92,1320.67 L399.81,1320.66 L400.70,1320.64 L401.59,1320.62 L402.48,1320.59 L403.37,1320.57 L404.26,1320.54 L405.15,1320.51 L406.04,1320.47 L406.93,1320.44 L407.83,1320.40 L408.72,1320.36 L409.61,1320.32 L410.50,1320.27 L411.39,1320.22 L412.28,1320.17 L413.17,1320.12 L414.06,1320.07 L414.95,1320.01 L415.84,1319.95 L416.74,1319.89 L417.63,1319.83 L418.52,1319.76 L419.41,1319.69 L420.30,1319.63 L421.19,1319.55 L422.08,1319.48 L422.97,1319.41 L423.86,1319.33 L424.75,1319.25 L425.65,1319.18 L426.54,1319.10 L427.43,1319.01 L428.32,1318.93 L429.21,1318.85 L430.10,1318.76 L430.99,1318.67 L431.88,1318.59 L432.77,1318.50 L433.66,1318.41 L434.56,1318.32 L435.45,1318.23 L436.34,1318.13 L437.23,1318.04 L438.12,1317.95 L439.01,1317.85 L439.90,1317.76 L440.79,1317.66 L441.68,1317.57 L442.57,1317.47 L443.46,1317.38 L444.36,1317.28 L445.25,1317.19 L446.14,1317.09 L447.03,1317.00 L447.92,1316.90 L448.81,1316.81 L449.70,1316.71 L450.59,1316.62 L451.48,1316.53 L452.37,1316.43 L453.27,1316.34 L454.16,1316.25 L455.05,1316.16 L455.94,1316.07 L456.83,1315.98 L457.72,1315.90 L458.61,1315.81 L459.50,1315.72 L460.39,1315.64 L461.28,1315.56 L462.18,1315.48 L463.07,1315.40 L463.96,1315.32 L464.85,1315.24 L465.74,1315.17 L466.63,1315.09 L467.52,1315.02 L468.41,1314.95 L469.30,1314.88 L470.19,1314.82 L471.09,1314.75 L471.98,1314.69 L472.87,1314.63 L473.76,1314.57 L474.65,1314.51 L475.54,1314.46 L476.43,1314.41 L477.32,1314.36 L478.21,1314.31 L479.10,1314.27 L480.00,1314.23 L480.89,1314.19 L481.78,1314.15 L482.67,1314.11 L483.56,1314.08 L484.45,1314.05 L485.34,1314.02 L486.23,1314.00 L487.12,1313.98 L488.01,1313.96 L488.91,1313.94 L489.80,1313.92 L490.69,1313.91 L491.58,1313.90 L492.47,1313.90 L493.36,1313.89 L494.25,1313.89 L495.14,1313.89 L496.03,1313.90 L496.92,1313.90 L497.81,1313.91 L498.71,1313.93 L499.60,1313.94 L500.49,1313.96 L501.38,1313.98 L502.27,1314.00 L503.16,1314.03 L504.05,1314.05 L504.94,1314.08 L505.83,1314.12 L506.72,1314.15 L507.62,1314.19 L508.51,1314.23 L509.40,1314.27 L510.29,1314.32 L511.18,1314.37 L512.07,1314.42 L512.96,1314.47 L513.85,1314.52 L514.74,1314.58 L515.63,1314.64 L516.53,1314.70 L517.42,1314.76 L518.31,1314.82 L519.20,1314.89 L520.09,1314.96 L520.98,1315.03 L521.87,1315.10 L522.76,1315.17 L523.65,1315.25 L524.54,1315.33 L525.44,1315.41 L526.33,1315.49 L527.22,1315.57 L528.11,1315.65 L529.00,1315.73 L529.89,1315.82 L530.78,1315.91 L531.67,1315.99 L532.56,1316.08 L533.45,1316.17 L534.35,1316.26 L535.24,1316.35 L536.13,1316.44 L537.02,1316.54 L537.91,1316.63 L538.80,1316.72" fill="none" stroke="#7B68EE" stroke-width="6.2" stroke-dasharray="13 5.8" stroke-dashoffset="18.30" stroke-linecap="butt" stroke-linejoin="round"/>
<path d="M559.80,1317.30 L560.69,1317.31 L561.58,1317.32 L562.47,1317.33 L563.36,1317.34 L564.25,1317.36 L565.14,1317.37 L566.03,1317.38 L566.92,1317.39 L567.81,1317.40 L568.70,1317.41 L569.59,1317.42 L570.48,1317.43 L571.37,1317.44 L572.26,1317.45 L573.15,1317.47 L574.04,1317.48 L574.93,1317.49 L575.82,1317.50 L576.71,1317.51 L577.60,1317.52 L578.49,1317.53 L579.38,1317.54 L580.27,1317.55 L581.16,1317.56 L582.05,1317.57 L582.94,1317.58 L583.83,1317.59 L584.72,1317.60 L585.61,1317.61 L586.50,1317.62 L587.39,1317.63 L588.28,1317.64 L589.17,1317.65 L590.06,1317.66 L590.95,1317.66 L591.84,1317.67 L592.73,1317.68 L593.62,1317.69 L594.51,1317.70 L595.40,1317.71 L596.29,1317.72 L597.18,1317.72 L598.07,1317.73 L598.96,1317.74 L599.85,1317.75 L600.74,1317.75 L601.63,1317.76 L602.52,1317.77 L603.41,1317.77 L604.30,1317.78 L605.19,1317.79 L606.08,1317.79 L606.97,1317.80 L607.86,1317.81 L608.75,1317.81 L609.64,1317.82 L610.53,1317.82 L611.42,1317.83 L612.31,1317.83 L613.20,1317.84 L614.09,1317.84 L614.98,1317.85 L615.87,1317.85 L616.76,1317.86 L617.65,1317.86 L618.54,1317.87 L619.43,1317.87 L620.32,1317.87 L621.21,1317.88 L622.10,1317.88 L622.99,1317.88 L623.88,1317.88 L624.77,1317.89 L625.66,1317.89 L626.55,1317.89 L627.44,1317.89 L628.33,1317.89 L629.22,1317.90 L630.11,1317.90 L631.00,1317.90 L631.89,1317.90 L632.78,1317.90 L633.67,1317.90 L634.56,1317.90 L635.45,1317.90 L636.34,1317.90 L637.23,1317.90 L638.12,1317.90 L639.01,1317.90 L639.90,1317.90 L640.79,1317.90 L641.68,1317.89 L642.57,1317.89 L643.46,1317.89 L644.35,1317.89 L645.24,1317.89 L646.13,1317.88 L647.02,1317.88 L647.91,1317.88 L648.80,1317.87 L649.69,1317.87 L650.58,1317.87 L651.47,1317.86 L652.36,1317.86 L653.25,1317.86 L654.14,1317.85 L655.03,1317.85 L655.92,1317.84 L656.81,1317.84 L657.70,1317.83 L658.59,1317.83 L659.48,1317.82 L660.37,1317.82 L661.26,1317.81 L662.15,1317.80 L663.04,1317.80 L663.93,1317.79 L664.82,1317.79 L665.71,1317.78 L666.60,1317.77 L667.49,1317.76 L668.38,1317.76 L669.27,1317.75 L670.16,1317.74 L671.05,1317.74 L671.94,1317.73 L672.83,1317.72 L673.72,1317.71 L674.61,1317.70 L675.50,1317.69 L676.39,1317.69 L677.28,1317.68 L678.17,1317.67 L679.06,1317.66 L679.95,1317.65 L680.84,1317.64 L681.73,1317.63 L682.62,1317.62 L683.51,1317.61 L684.40,1317.60 L685.29,1317.59 L686.18,1317.58 L687.07,1317.57 L687.96,1317.57 L688.85,1317.55 L689.74,1317.54 L690.63,1317.53 L691.52,1317.52 L692.41,1317.51 L693.30,1317.50 L694.19,1317.49 L695.08,1317.48 L695.97,1317.47 L696.86,1317.46 L697.75,1317.45 L698.64,1317.44 L699.53,1317.43 L700.42,1317.42 L701.31,1317.41 L702.20,1317.40 L703.09,1317.38 L703.98,1317.37 L704.87,1317.36 L705.76,1317.35 L706.65,1317.34 L707.54,1317.33 L708.43,1317.32 L709.32,1317.31 L710.21,1317.29 L711.10,1317.28 L711.99,1317.27 L712.88,1317.26 L713.77,1317.25 L714.66,1317.24 L715.55,1317.23 L716.44,1317.22 L717.33,1317.21 L718.22,1317.19 L719.11,1317.18 L720.00,1317.17 L720.89,1317.16 L721.78,1317.15 L722.67,1317.14 L723.56,1317.13 L724.45,1317.12 L725.34,1317.11 L726.23,1317.10 L727.12,1317.09 L728.01,1317.08 L728.90,1317.07 L729.79,1317.06 L730.68,1317.05 L731.57,1317.04 L732.46,1317.03 L733.35,1317.02 L734.24,1317.01 L735.13,1317.00 L736.02,1316.99 L736.91,1316.98 L737.80,1316.97 L738.69,1316.96 L739.58,1316.95 L740.47,1316.94 L741.36,1316.93 L742.25,1316.92 L743.14,1316.91 L744.03,1316.91 L744.92,1316.90 L745.81,1316.89 L746.70,1316.88 L747.59,1316.87 L748.48,1316.87 L749.37,1316.86 L750.26,1316.85 L751.15,1316.84 L752.04,1316.84 L752.93,1316.83 L753.82,1316.82 L754.71,1316.82 L755.60,1316.81 L756.49,1316.80 L757.38,1316.80 L758.27,1316.79 L759.16,1316.78 L760.05,1316.78 L760.94,1316.77 L761.83,1316.77 L762.72,1316.76 L763.61,1316.76 L764.50,1316.75 L765.39,1316.75 L766.28,1316.74 L767.17,1316.74 L768.06,1316.74 L768.95,1316.73 L769.84,1316.73 L770.73,1316.73 L771.62,1316.72 L772.51,1316.72 L773.40,1316.72 L774.29,1316.71 L775.18,1316.71 L776.07,1316.71 L776.96,1316.71 L777.85,1316.71 L778.74,1316.70 L779.63,1316.70 L780.52,1316.70 L781.41,1316.70 L782.29,1316.70 L783.18,1316.70 L784.07,1316.70 L784.96,1316.70 L785.85,1316.70 L786.74,1316.70 L787.63,1316.70 L788.52,1316.70 L789.41,1316.70 L790.30,1316.70 L791.19,1316.71 L792.08,1316.71 L792.97,1316.71 L793.86,1316.71 L794.75,1316.71 L795.64,1316.72 L796.53,1316.72 L797.42,1316.72 L798.31,1316.72 L799.20,1316.73 L800.09,1316.73 L800.98,1316.73 L801.87,1316.74 L802.76,1316.74 L803.65,1316.75 L804.54,1316.75 L805.43,1316.76 L806.32,1316.76 L807.21,1316.76 L808.10,1316.77 L808.99,1316.78 L809.88,1316.78 L810.77,1316.79 L811.66,1316.79 L812.55,1316.80 L813.44,1316.80 L814.33,1316.81 L815.22,1316.82 L816.11,1316.82 L817.00,1316.83 L817.89,1316.84 L818.78,1316.85 L819.67,1316.85 L820.56,1316.86 L821.45,1316.87 L822.34,1316.88 L823.23,1316.88 L824.12,1316.89 L825.01,1316.90 L825.90,1316.91 L826.79,1316.92 L827.68,1316.93 L828.57,1316.93 L829.46,1316.94 L830.35,1316.95 L831.24,1316.96 L832.13,1316.97 L833.02,1316.98 L833.91,1316.99 L834.80,1317.00 L835.69,1317.01 L836.58,1317.02 L837.47,1317.03 L838.36,1317.04 L839.25,1317.05 L840.14,1317.06 L841.03,1317.07 L841.92,1317.08 L842.81,1317.09 L843.70,1317.10 L844.59,1317.11 L845.48,1317.12 L846.37,1317.13 L847.26,1317.14 L848.15,1317.16 L849.04,1317.17 L849.93,1317.18 L850.82,1317.19 L851.71,1317.20 L852.60,1317.21 L853.49,1317.22 L854.38,1317.23 L855.27,1317.24 L856.16,1317.25 L857.05,1317.27 L857.94,1317.28 L858.83,1317.29 L859.72,1317.30 L860.61,1317.31 L861.50,1317.32 L862.39,1317.33 L863.28,1317.34 L864.17,1317.35 L865.06,1317.37 L865.95,1317.38 L866.84,1317.39 L867.73,1317.40 L868.62,1317.41 L869.51,1317.42 L870.40,1317.43 L871.29,1317.44 L872.18,1317.45 L873.07,1317.46 L873.96,1317.48 L874.85,1317.49 L875.74,1317.50 L876.63,1317.51 L877.52,1317.52 L878.41,1317.53 L879.30,1317.54 L880.19,1317.55 L881.08,1317.56 L881.97,1317.57 L882.86,1317.58 L883.75,1317.59 L884.64,1317.60 L885.53,1317.61 L886.42,1317.62 L887.31,1317.63 L888.20,1317.64 L889.09,1317.65 L889.98,1317.65 L890.87,1317.66 L891.76,1317.67 L892.65,1317.68 L893.54,1317.69 L894.43,1317.70 L895.32,1317.71 L896.21,1317.71 L897.10,1317.72 L897.99,1317.73 L898.88,1317.74 L899.77,1317.75 L900.66,1317.75 L901.55,1317.76 L902.44,1317.77 L903.33,1317.77 L904.22,1317.78 L905.11,1317.79 L906.00,1317.79 L906.89,1317.80 L907.78,1317.81 L908.67,1317.81 L909.56,1317.82 L910.45,1317.82 L911.34,1317.83 L912.23,1317.83 L913.12,1317.84 L914.01,1317.84 L914.90,1317.85 L915.79,1317.85 L916.68,1317.86 L917.57,1317.86 L918.46,1317.87 L919.35,1317.87 L920.24,1317.87 L921.13,1317.88 L922.02,1317.88 L922.91,1317.88 L923.80,1317.88 L924.69,1317.89 L925.58,1317.89 L926.47,1317.89 L927.36,1317.89 L928.25,1317.89 L929.14,1317.90 L930.03,1317.90 L930.92,1317.90 L931.81,1317.90 L932.70,1317.90 L933.59,1317.90 L934.48,1317.90 L935.37,1317.90 L936.26,1317.90 L937.15,1317.90 L938.04,1317.90 L938.93,1317.90 L939.82,1317.90 L940.71,1317.90 L941.60,1317.89 L942.49,1317.89 L943.38,1317.89 L944.27,1317.89 L945.16,1317.89 L946.05,1317.88 L946.94,1317.88 L947.83,1317.88 L948.72,1317.87 L949.61,1317.87 L950.50,1317.87 L951.39,1317.86 L952.28,1317.86 L953.17,1317.86 L954.06,1317.85 L954.95,1317.85 L955.84,1317.84 L956.73,1317.84 L957.62,1317.83 L958.51,1317.83 L959.40,1317.82 L960.29,1317.82 L961.18,1317.81 L962.07,1317.80 L962.96,1317.80 L963.85,1317.79 L964.74,1317.79 L965.63,1317.78 L966.52,1317.77 L967.41,1317.77 L968.30,1317.76 L969.19,1317.75 L970.08,1317.74 L970.97,1317.74 L971.86,1317.73 L972.75,1317.72 L973.64,1317.71 L974.53,1317.70 L975.42,1317.70 L976.31,1317.69 L977.20,1317.68 L978.09,1317.67 L978.98,1317.66 L979.87,1317.65 L980.76,1317.64 L981.65,1317.63 L982.54,1317.62 L983.43,1317.61 L984.32,1317.61 L985.21,1317.60 L986.10,1317.59 L986.99,1317.58 L987.88,1317.57 L988.77,1317.56 L989.66,1317.55 L990.55,1317.54 L991.44,1317.53 L992.33,1317.51 L993.22,1317.50 L994.11,1317.49 L995.00,1317.48 L995.89,1317.47 L996.78,1317.46 L997.67,1317.45 L998.56,1317.44 L999.45,1317.43 L1000.34,1317.42 L1001.23,1317.41 L1002.12,1317.40 L1003.01,1317.39 L1003.90,1317.37" fill="none" stroke="#F2460D" stroke-width="7.3" stroke-linecap="butt" stroke-linejoin="round"/>
<path d="M540.40,1161.00 L542.50,1230.00 L545.50,1290.00 L547.50,1312.00" fill="none" stroke="#FF00FF" stroke-width="7.8" stroke-linecap="round" stroke-linejoin="round"/>
<path d="M558.40,1161.00 L557.20,1230.00 L553.80,1290.00 L551.50,1312.00" fill="none" stroke="#FF00FF" stroke-width="7.2" stroke-linecap="round" stroke-linejoin="round"/>
<rect x="553.00" y="1179.20" width="9.00" height="2.60" fill="#D9D9D9" />
<rect x="553.00" y="1203.20" width="9.00" height="2.60" fill="#D9D9D9" />
<rect x="553.00" y="1224.20" width="9.00" height="2.60" fill="#D9D9D9" />
<rect x="553.00" y="1286.20" width="9.00" height="2.60" fill="#D9D9D9" />
<path d="M536.6,1314 L561,1314 L560.8,1321 L559.8,1340 L559,1357.5 L557,1376 L553.8,1393.7 L551.3,1405 L548.8,1411.8 L545.8,1411.8 L543.3,1405 L541.6,1393.7 L540,1376 L539,1357.5 L537.8,1338 L537.2,1321 Z" fill="#FF00FF"/>
<path d="M543.5,1290 L555.5,1290 L557,1315 L541,1315 Z" fill="#FF00FF"/>
<path d="M559.80,1164.24 L560.69,1163.94 L561.58,1163.76 L562.47,1163.70 L563.36,1163.76 L564.25,1163.93 L565.14,1164.22 L566.03,1164.63 L566.92,1165.16 L567.81,1165.80 L568.70,1166.56 L569.59,1167.43 L570.48,1168.43 L571.37,1169.53 L572.26,1170.75 L573.15,1172.08 L574.04,1173.53 L574.93,1175.08 L575.82,1176.75 L576.71,1178.52 L577.60,1180.40 L578.49,1182.38 L579.38,1184.47 L580.27,1186.66 L581.16,1188.95 L582.05,1191.34 L582.94,1193.83 L583.83,1196.41 L584.72,1199.08 L585.61,1201.85 L586.50,1204.70 L587.39,1207.64 L588.28,1210.67 L589.17,1213.77 L590.06,1216.96 L590.95,1220.23 L591.84,1223.56 L592.73,1226.97 L593.62,1230.45 L594.51,1234.00 L595.40,1237.61 L596.29,1241.29 L597.18,1245.02 L598.07,1248.80 L598.96,1252.64 L599.85,1256.53 L600.74,1260.47 L601.63,1264.45 L602.52,1268.47 L603.41,1272.52 L604.30,1276.62 L605.19,1280.74 L606.08,1284.89 L606.97,1289.07 L607.86,1293.27 L608.75,1297.48 L609.64,1301.72 L610.53,1305.96 L611.42,1310.21 L612.31,1314.47 L613.20,1318.73 L614.09,1322.99 L614.98,1327.24 L615.87,1331.49 L616.76,1335.73 L617.65,1339.95 L618.54,1344.15 L619.43,1348.34 L620.32,1352.50 L621.21,1356.63 L622.10,1360.73 L622.99,1364.80 L623.88,1368.84 L624.77,1372.83 L625.66,1376.78 L626.55,1380.69 L627.44,1384.54 L628.33,1388.35 L629.22,1392.09 L630.11,1395.79 L631.00,1399.42 L631.89,1402.99 L632.78,1406.49 L633.67,1409.92 L634.56,1413.29 L635.45,1416.57 L636.34,1419.79 L637.23,1422.92 L638.12,1425.97 L639.01,1428.94 L639.90,1431.82 L640.79,1434.62 L641.68,1437.32 L642.57,1439.94 L643.46,1442.45 L644.35,1444.88 L645.24,1447.20 L646.13,1449.42 L647.02,1451.54 L647.91,1453.56 L648.80,1455.48 L649.69,1457.28 L650.58,1458.98 L651.47,1460.57 L652.36,1462.05 L653.25,1463.42 L654.14,1464.68 L655.03,1465.82 L655.92,1466.85 L656.81,1467.77 L657.70,1468.56 L658.59,1469.25 L659.48,1469.81 L660.37,1470.26 L661.26,1470.59 L662.15,1470.80 L663.04,1470.89 L663.93,1470.87 L664.82,1470.73 L665.71,1470.47 L666.60,1470.09 L667.49,1469.59 L668.38,1468.98 L669.27,1468.25 L670.16,1467.41 L671.05,1466.44 L671.94,1465.37 L672.83,1464.18 L673.72,1462.88 L674.61,1461.46 L675.50,1459.93 L676.39,1458.30 L677.28,1456.55 L678.17,1454.70 L679.06,1452.75 L679.95,1450.69 L680.84,1448.52 L681.73,1446.26 L682.62,1443.89 L683.51,1441.43 L684.40,1438.88 L685.29,1436.22 L686.18,1433.48 L687.07,1430.65 L687.96,1427.73 L688.85,1424.73 L689.74,1421.64 L690.63,1418.48 L691.52,1415.23 L692.41,1411.91 L693.30,1408.52 L694.19,1405.06 L695.08,1401.53 L695.97,1397.94 L696.86,1394.28 L697.75,1390.56 L698.64,1386.79 L699.53,1382.96 L700.42,1379.09 L701.31,1375.16 L702.20,1371.20 L703.09,1367.19 L703.98,1363.14 L704.87,1359.05 L705.76,1354.94 L706.65,1350.79 L707.54,1346.62 L708.43,1342.43 L709.32,1338.22 L710.21,1333.99 L711.10,1329.75 L711.99,1325.50 L712.88,1321.24 L713.77,1316.98 L714.66,1312.72 L715.55,1308.47 L716.44,1304.22 L717.33,1299.98 L718.22,1295.75 L719.11,1291.54 L720.00,1287.35 L720.89,1283.18 L721.78,1279.04 L722.67,1274.93 L723.56,1270.85 L724.45,1266.81 L725.34,1262.81 L726.23,1258.85 L727.12,1254.93 L728.01,1251.06 L728.90,1247.24 L729.79,1243.48 L730.68,1239.77 L731.57,1236.12 L732.46,1232.54 L733.35,1229.02 L734.24,1225.57 L735.13,1222.18 L736.02,1218.88 L736.91,1215.64 L737.80,1212.49 L738.69,1209.42 L739.58,1206.42 L740.47,1203.52 L741.36,1200.70 L742.25,1197.97 L743.14,1195.34 L744.03,1192.79 L744.92,1190.35 L745.81,1188.00 L746.70,1185.75 L747.59,1183.60 L748.48,1181.55 L749.37,1179.61 L750.26,1177.78 L751.15,1176.05 L752.04,1174.43 L752.93,1172.92 L753.82,1171.52 L754.71,1170.24 L755.60,1169.06 L756.49,1168.01 L757.38,1167.06 L758.27,1166.23 L759.16,1165.52 L760.05,1164.92 L760.94,1164.45 L761.83,1164.09 L762.72,1163.84 L763.61,1163.72 L764.50,1163.71 L765.39,1163.82 L766.28,1164.05 L767.17,1164.40 L768.06,1164.87 L768.95,1165.45 L769.84,1166.15 L770.73,1166.96 L771.62,1167.89 L772.51,1168.94 L773.40,1170.10 L774.29,1171.37 L775.18,1172.76 L776.07,1174.26 L776.96,1175.86 L777.85,1177.58 L778.74,1179.40 L779.63,1181.33 L780.52,1183.37 L781.41,1185.50 L782.29,1187.74 L783.18,1190.08 L784.07,1192.52 L784.96,1195.05 L785.85,1197.67 L786.74,1200.39 L787.63,1203.20 L788.52,1206.10 L789.41,1209.08 L790.30,1212.14 L791.19,1215.29 L792.08,1218.51 L792.97,1221.81 L793.86,1225.19 L794.75,1228.63 L795.64,1232.14 L796.53,1235.72 L797.42,1239.36 L798.31,1243.06 L799.20,1246.82 L800.09,1250.63 L800.98,1254.50 L801.87,1258.41 L802.76,1262.36 L803.65,1266.36 L804.54,1270.40 L805.43,1274.48 L806.32,1278.58 L807.21,1282.72 L808.10,1286.89 L808.99,1291.07 L809.88,1295.28 L810.77,1299.50 L811.66,1303.74 L812.55,1307.99 L813.44,1312.25 L814.33,1316.51 L815.22,1320.77 L816.11,1325.02 L817.00,1329.28 L817.89,1333.52 L818.78,1337.75 L819.67,1341.96 L820.56,1346.16 L821.45,1350.33 L822.34,1354.48 L823.23,1358.60 L824.12,1362.68 L825.01,1366.74 L825.90,1370.75 L826.79,1374.72 L827.68,1378.65 L828.57,1382.53 L829.46,1386.37 L830.35,1390.14 L831.24,1393.87 L832.13,1397.53 L833.02,1401.13 L833.91,1404.67 L834.80,1408.14 L835.69,1411.54 L836.58,1414.87 L837.47,1418.12 L838.36,1421.30 L839.25,1424.39 L840.14,1427.40 L841.03,1430.33 L841.92,1433.17 L842.81,1435.92 L843.70,1438.58 L844.59,1441.15 L845.48,1443.62 L846.37,1446.00 L847.26,1448.27 L848.15,1450.45 L849.04,1452.52 L849.93,1454.49 L850.82,1456.35 L851.71,1458.11 L852.60,1459.76 L853.49,1461.30 L854.38,1462.72 L855.27,1464.04 L856.16,1465.24 L857.05,1466.33 L857.94,1467.30 L858.83,1468.16 L859.72,1468.91 L860.61,1469.53 L861.50,1470.04 L862.39,1470.43 L863.28,1470.71 L864.17,1470.86 L865.06,1470.90 L865.95,1470.82 L866.84,1470.62 L867.73,1470.30 L868.62,1469.87 L869.51,1469.32 L870.40,1468.65 L871.29,1467.86 L872.18,1466.96 L873.07,1465.94 L873.96,1464.81 L874.85,1463.57 L875.74,1462.21 L876.63,1460.74 L877.52,1459.17 L878.41,1457.48 L879.30,1455.68 L880.19,1453.78 L881.08,1451.77 L881.97,1449.66 L882.86,1447.45 L883.75,1445.14 L884.64,1442.73 L885.53,1440.22 L886.42,1437.62 L887.31,1434.93 L888.20,1432.14 L889.09,1429.27 L889.98,1426.31 L890.87,1423.27 L891.76,1420.14 L892.65,1416.94 L893.54,1413.66 L894.43,1410.30 L895.32,1406.88 L896.21,1403.38 L897.10,1399.82 L897.99,1396.19 L898.88,1392.51 L899.77,1388.77 L900.66,1384.97 L901.55,1381.12 L902.44,1377.22 L903.33,1373.27 L904.22,1369.28 L905.11,1365.26 L906.00,1361.19 L906.89,1357.09 L907.78,1352.96 L908.67,1348.80 L909.56,1344.62 L910.45,1340.42 L911.34,1336.20 L912.23,1331.96 L913.12,1327.72 L914.01,1323.46 L914.90,1319.21 L915.79,1314.94 L916.68,1310.69 L917.57,1306.43 L918.46,1302.19 L919.35,1297.95 L920.24,1293.74 L921.13,1289.54 L922.02,1285.36 L922.91,1281.20 L923.80,1277.07 L924.69,1272.98 L925.58,1268.92 L926.47,1264.89 L927.36,1260.91 L928.25,1256.97 L929.14,1253.07 L930.03,1249.23 L930.92,1245.44 L931.81,1241.70 L932.70,1238.02 L933.59,1234.40 L934.48,1230.85 L935.37,1227.36 L936.26,1223.94 L937.15,1220.59 L938.04,1217.32 L938.93,1214.13 L939.82,1211.01 L940.71,1207.98 L941.60,1205.02 L942.49,1202.16 L943.38,1199.39 L944.27,1196.70 L945.16,1194.11 L946.05,1191.61 L946.94,1189.21 L947.83,1186.91 L948.72,1184.71 L949.61,1182.61 L950.50,1180.61 L951.39,1178.72 L952.28,1176.94 L953.17,1175.26 L954.06,1173.70 L954.95,1172.24 L955.84,1170.89 L956.73,1169.66 L957.62,1168.54 L958.51,1167.54 L959.40,1166.65 L960.29,1165.88 L961.18,1165.22 L962.07,1164.68 L962.96,1164.26 L963.85,1163.95 L964.74,1163.77 L965.63,1163.70 L966.52,1163.75 L967.41,1163.92 L968.30,1164.20 L969.19,1164.61 L970.08,1165.13 L970.97,1165.77 L971.86,1166.52 L972.75,1167.39 L973.64,1168.38 L974.53,1169.48 L975.42,1170.70 L976.31,1172.02 L977.20,1173.46 L978.09,1175.01 L978.98,1176.67 L979.87,1178.44 L980.76,1180.31 L981.65,1182.29 L982.54,1184.38 L983.43,1186.56 L984.32,1188.85 L985.21,1191.23 L986.10,1193.71 L986.99,1196.29 L987.88,1198.96 L988.77,1201.72 L989.66,1204.57 L990.55,1207.51 L991.44,1210.53 L992.33,1213.64 L993.22,1216.82 L994.11,1220.08 L995.00,1223.42 L995.89,1226.82 L996.78,1230.30 L997.67,1233.84 L998.56,1237.45 L999.45,1241.12 L1000.34,1244.85 L1001.23,1248.64 L1002.12,1252.47 L1003.01,1256.36 L1003.90,1260.29" fill="none" stroke="#7B68EE" stroke-width="7.3" stroke-linecap="butt" stroke-linejoin="round"/>
</g>
<line x1="94.20" y1="1317.30" x2="1003.90" y2="1317.30" stroke="#000" stroke-width="2.8" stroke-dasharray="11 11.3" stroke-linecap="butt"/>
<rect x="94.20" y="1147.00" width="909.70" height="340.60" fill="none" stroke="#262626" stroke-width="1.9"/>
</svg></body></html>
